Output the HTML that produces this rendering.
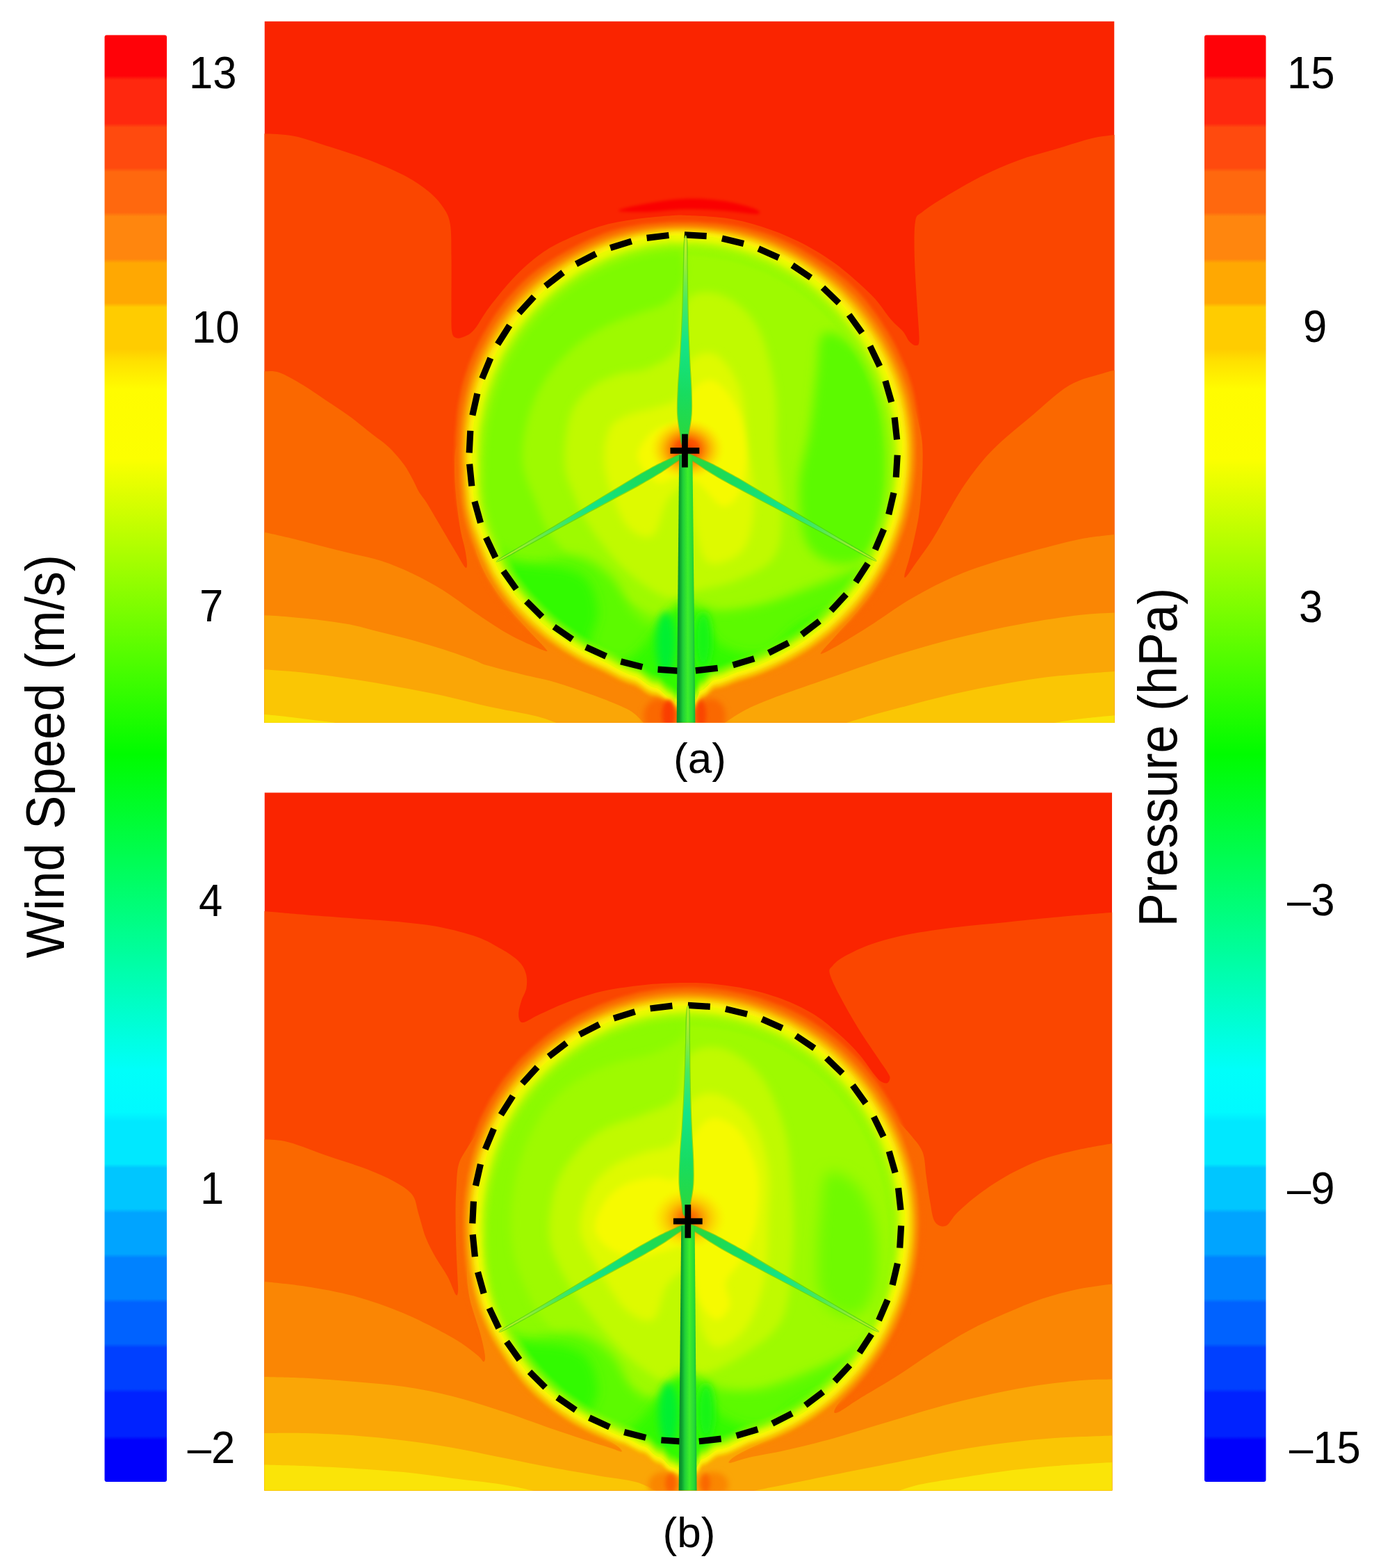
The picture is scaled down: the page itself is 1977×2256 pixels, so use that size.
<!DOCTYPE html>
<html lang="en"><head><meta charset="utf-8"><title>Wind speed contours</title>
<style>html,body{margin:0;padding:0;background:#fff}body{width:1977px;height:2256px}svg{display:block}text{font-family:"Liberation Sans",Arial,Helvetica,sans-serif;fill:#000}</style>
</head><body>
<svg width="1977" height="2256" viewBox="0 0 1977 2256" role="img" aria-label="Wind speed and pressure contours around a wind turbine rotor">
<defs>
<linearGradient id="cb1" x1="0" y1="0" x2="0" y2="1"><stop offset="0.0000" stop-color="#ff0208"/><stop offset="0.0014" stop-color="#ff0208"/><stop offset="0.0281" stop-color="#ff0208"/><stop offset="0.0310" stop-color="#ff280e"/><stop offset="0.0610" stop-color="#ff280e"/><stop offset="0.0639" stop-color="#ff4a0e"/><stop offset="0.0918" stop-color="#ff4a0e"/><stop offset="0.0946" stop-color="#ff680e"/><stop offset="0.1225" stop-color="#ff680e"/><stop offset="0.1254" stop-color="#ff860e"/><stop offset="0.1547" stop-color="#ff860e"/><stop offset="0.1576" stop-color="#ffa802"/><stop offset="0.1852" stop-color="#ffa802"/><stop offset="0.1881" stop-color="#ffcc00"/><stop offset="0.2169" stop-color="#ffcc00"/><stop offset="0.2256" stop-color="#ffe100"/><stop offset="0.2448" stop-color="#fffc00"/><stop offset="0.2928" stop-color="#fcff00"/><stop offset="0.4970" stop-color="#00fc00"/><stop offset="0.7156" stop-color="#00fffa"/><stop offset="0.7444" stop-color="#00faff"/><stop offset="0.7511" stop-color="#00e8ff"/><stop offset="0.7802" stop-color="#00e8ff"/><stop offset="0.7831" stop-color="#00c6ff"/><stop offset="0.8112" stop-color="#00c6ff"/><stop offset="0.8141" stop-color="#00a4ff"/><stop offset="0.8424" stop-color="#00a4ff"/><stop offset="0.8453" stop-color="#0082ff"/><stop offset="0.8734" stop-color="#0082ff"/><stop offset="0.8763" stop-color="#0062ff"/><stop offset="0.9044" stop-color="#0062ff"/><stop offset="0.9073" stop-color="#0040ff"/><stop offset="0.9356" stop-color="#0040ff"/><stop offset="0.9385" stop-color="#0022ff"/><stop offset="0.9683" stop-color="#0022ff"/><stop offset="0.9712" stop-color="#0000fc"/><stop offset="0.9986" stop-color="#0000fc"/><stop offset="1.0000" stop-color="#0000fc"/></linearGradient>
<linearGradient id="cb2" x1="0" y1="0" x2="0" y2="1"><stop offset="0.0000" stop-color="#ff0208"/><stop offset="0.0014" stop-color="#ff0208"/><stop offset="0.0281" stop-color="#ff0208"/><stop offset="0.0310" stop-color="#ff280e"/><stop offset="0.0610" stop-color="#ff280e"/><stop offset="0.0639" stop-color="#ff4a0e"/><stop offset="0.0918" stop-color="#ff4a0e"/><stop offset="0.0946" stop-color="#ff680e"/><stop offset="0.1225" stop-color="#ff680e"/><stop offset="0.1254" stop-color="#ff860e"/><stop offset="0.1547" stop-color="#ff860e"/><stop offset="0.1576" stop-color="#ffa802"/><stop offset="0.1852" stop-color="#ffa802"/><stop offset="0.1881" stop-color="#ffcc00"/><stop offset="0.2169" stop-color="#ffcc00"/><stop offset="0.2256" stop-color="#ffe100"/><stop offset="0.2448" stop-color="#fffc00"/><stop offset="0.2928" stop-color="#fcff00"/><stop offset="0.4970" stop-color="#00fc00"/><stop offset="0.7156" stop-color="#00fffa"/><stop offset="0.7444" stop-color="#00faff"/><stop offset="0.7511" stop-color="#00e8ff"/><stop offset="0.7802" stop-color="#00e8ff"/><stop offset="0.7831" stop-color="#00c6ff"/><stop offset="0.8112" stop-color="#00c6ff"/><stop offset="0.8141" stop-color="#00a4ff"/><stop offset="0.8424" stop-color="#00a4ff"/><stop offset="0.8453" stop-color="#0082ff"/><stop offset="0.8734" stop-color="#0082ff"/><stop offset="0.8763" stop-color="#0062ff"/><stop offset="0.9044" stop-color="#0062ff"/><stop offset="0.9073" stop-color="#0040ff"/><stop offset="0.9356" stop-color="#0040ff"/><stop offset="0.9385" stop-color="#0022ff"/><stop offset="0.9683" stop-color="#0022ff"/><stop offset="0.9712" stop-color="#0000fc"/><stop offset="0.9986" stop-color="#0000fc"/><stop offset="1.0000" stop-color="#0000fc"/></linearGradient>
<filter id="b2" x="-50%" y="-50%" width="200%" height="200%"><feGaussianBlur stdDeviation="2"/></filter>
<filter id="b3" x="-50%" y="-50%" width="200%" height="200%"><feGaussianBlur stdDeviation="3"/></filter>
<filter id="b4" x="-50%" y="-50%" width="200%" height="200%"><feGaussianBlur stdDeviation="4"/></filter>
<filter id="b5" x="-50%" y="-50%" width="200%" height="200%"><feGaussianBlur stdDeviation="5"/></filter>
<filter id="b6" x="-50%" y="-50%" width="200%" height="200%"><feGaussianBlur stdDeviation="6"/></filter>
<filter id="b8" x="-50%" y="-50%" width="200%" height="200%"><feGaussianBlur stdDeviation="8"/></filter>
<filter id="b10" x="-50%" y="-50%" width="200%" height="200%"><feGaussianBlur stdDeviation="10"/></filter>
<filter id="b12" x="-50%" y="-50%" width="200%" height="200%"><feGaussianBlur stdDeviation="12"/></filter>
<radialGradient id="hubA" cx="0.5" cy="0.5" r="0.5"><stop offset="0" stop-color="#f83800"/><stop offset="0.3" stop-color="#fa5a00"/><stop offset="0.55" stop-color="#fca000" stop-opacity="0.9"/><stop offset="0.8" stop-color="#fcd800" stop-opacity="0.6"/><stop offset="1" stop-color="#f8f400" stop-opacity="0"/></radialGradient>
<linearGradient id="twA" x1="0" y1="0" x2="1" y2="0"><stop offset="0" stop-color="#0a8828"/><stop offset="0.16" stop-color="#0c9c30"/><stop offset="0.34" stop-color="#20d038"/><stop offset="0.6" stop-color="#3eee2a"/><stop offset="0.85" stop-color="#26d838"/><stop offset="1" stop-color="#16b038"/></linearGradient>
<linearGradient id="blA0" gradientUnits="userSpaceOnUse" x1="984.6" y1="640.0" x2="986.6" y2="344.0"><stop offset="0" stop-color="#2cd838"/><stop offset="0.25" stop-color="#18dc60"/><stop offset="0.5" stop-color="#14e488"/><stop offset="0.7" stop-color="#48e860"/><stop offset="0.85" stop-color="#90ec38"/><stop offset="1" stop-color="#c8f020"/></linearGradient>
<linearGradient id="blA1" gradientUnits="userSpaceOnUse" x1="982.0" y1="655.0" x2="718.8" y2="805.5"><stop offset="0" stop-color="#2cd838"/><stop offset="0.25" stop-color="#18dc60"/><stop offset="0.5" stop-color="#14e488"/><stop offset="0.7" stop-color="#48e860"/><stop offset="0.85" stop-color="#90ec38"/><stop offset="1" stop-color="#c8f020"/></linearGradient>
<linearGradient id="blA2" gradientUnits="userSpaceOnUse" x1="990.0" y1="655.0" x2="1256.5" y2="804.5"><stop offset="0" stop-color="#2cd838"/><stop offset="0.25" stop-color="#18dc60"/><stop offset="0.5" stop-color="#14e488"/><stop offset="0.7" stop-color="#48e860"/><stop offset="0.85" stop-color="#90ec38"/><stop offset="1" stop-color="#c8f020"/></linearGradient>
<radialGradient id="hubB" cx="0.5" cy="0.5" r="0.5"><stop offset="0" stop-color="#fa5000"/><stop offset="0.25" stop-color="#fb8200"/><stop offset="0.5" stop-color="#fcb400" stop-opacity="0.85"/><stop offset="0.8" stop-color="#fce000" stop-opacity="0.5"/><stop offset="1" stop-color="#f8f400" stop-opacity="0"/></radialGradient>
<linearGradient id="twB" x1="0" y1="0" x2="1" y2="0"><stop offset="0" stop-color="#0a8828"/><stop offset="0.16" stop-color="#0c9c30"/><stop offset="0.34" stop-color="#20d038"/><stop offset="0.6" stop-color="#3eee2a"/><stop offset="0.85" stop-color="#26d838"/><stop offset="1" stop-color="#16b038"/></linearGradient>
<linearGradient id="blB0" gradientUnits="userSpaceOnUse" x1="987.0" y1="1748.0" x2="990.0" y2="1452.0"><stop offset="0" stop-color="#2cd838"/><stop offset="0.25" stop-color="#18dc60"/><stop offset="0.5" stop-color="#14e488"/><stop offset="0.7" stop-color="#48e860"/><stop offset="0.85" stop-color="#90ec38"/><stop offset="1" stop-color="#c8f020"/></linearGradient>
<linearGradient id="blB1" gradientUnits="userSpaceOnUse" x1="985.0" y1="1764.0" x2="722.5" y2="1914.0"><stop offset="0" stop-color="#2cd838"/><stop offset="0.25" stop-color="#18dc60"/><stop offset="0.5" stop-color="#14e488"/><stop offset="0.7" stop-color="#48e860"/><stop offset="0.85" stop-color="#90ec38"/><stop offset="1" stop-color="#c8f020"/></linearGradient>
<linearGradient id="blB2" gradientUnits="userSpaceOnUse" x1="993.5" y1="1764.0" x2="1260.0" y2="1913.5"><stop offset="0" stop-color="#2cd838"/><stop offset="0.25" stop-color="#18dc60"/><stop offset="0.5" stop-color="#14e488"/><stop offset="0.7" stop-color="#48e860"/><stop offset="0.85" stop-color="#90ec38"/><stop offset="1" stop-color="#c8f020"/></linearGradient>
<clipPath id="clipA"><rect x="380.5" y="30.5" width="1223.0" height="1009.3"/></clipPath>
<clipPath id="cinA"><path d="M1298,651.5l0,11.5l-0.5,11l-1,11l-1,11.5l-2,11l-2,11l-2,11l-3,10.5l-3,11l-3.5,10.5l-3.5,10.5l-4.5,10.5l-4.5,10.5l-5,10l-5,10l-5.5,9.5l-6,9.5l-6.5,9.5l-6.5,9l-7,8.5l-7,8.5l-7.5,8.5l-8,8l-8,7.5l-8.5,7.5l-8.5,7l-9,7l-9,6.5l-9,6l-9.5,6l-9.5,5.5l-10,5.5l-10,4.5l-10,5l-10.5,4.5l-10.5,4l-10.5,3.5l-10.5,3l-10.5,4l-2.5,1.5l-3,1l-2.5,1l-2.5,1l-3,1l-2.5,0.5l-3,0.5l-2.5,0.5l-3,1l-2.5,2l-2.5,2.5l-2.5,3l-3,2.5l-2.5,2.5l-3,1.5l-3,1l-2.5,7l-2.5,6l-3,1.5l-3,1.5l-3,0.5l-3,0l-3,0l-3.5,0l-3,0l-3,0l-3,0l-3,0l-3-4.5l-3-2l-3-1l-3-2l-2.5-2.5l-3-2.5l-2.5-2.5l-3-2l-2.5-1.5l-3-0.5l-3-1l-2.5-1l-3-1.5l-2.5-1.5l-2.5-2l-3-2l-2.5-2l-2.5-2l-2.5-1.5l-2.5-1.5l-11-3.5l-10-4.5l-10.5-5.5l-9.5-5.5l-10-4.5l-10.5-4.5l-9.5-5l-10-5.5l-9.5-5.5l-9-6l-9-6.5l-9-6.5l-9-6.5l-8.5-7l-8-7.5l-8-7.5l-7.5-8l-7.5-8.5l-7.5-8.5l-6.5-8.5l-6.5-9l-6-9.5l-5.5-9.5l-5-10l-4.5-10l-4.5-10l-4.5-10.5l-4-10l-3.5-10.5l-3.5-10.5l-2.5-10.5l-2.5-11l-1.5-10.5l-1-11l-1-11l-0.5-11l0-10.5l-0.5-11l0-11l0.5-10.5l0.5-11l1-11l1-10.5l2-10.5l2-11l2-10.5l3-10.5l3-10l3.5-10.5l4-10l4-10l4.5-9.5l5-10l5-9.5l5.5-9l5.5-9l6.5-9l6-8.5l7-8.5l7-8l7-8l7.5-8l8-7l7.5-7.5l8.5-6.5l8.5-7l8.5-6l9-6l9-6l9-5.5l9.5-5l9.5-4.5l9.5-4.5l10-4l10-4l10.5-3.5l10-3l10.5-2.5l10.5-2l10.5-2l10.5-1.5l11-1l10.5-0.5l10.5,0l11,0l10.5,0.5l11,1l10.5,1l10.5,2l10.5,2l10.5,2l10.5,3l10.5,3l10,3.5l10,3.5l10,4.5l10,4.5l9.5,4.5l9.5,5.5l9,5.5l9.5,6l8.5,6l9,6.5l8.5,7l8,7l8,7.5l7.5,8l7.5,8l7,8l7,8.5l6.5,8.5l6.5,9l6,9l6,9.5l5.5,9.5l5.5,9.5l5,10l4.5,10l4.5,10l4,10.5l3.5,10.5l3,11l3,10.5l2,11l2,11l1.5,11l1.5,11l0.5,11.5z"/></clipPath>
<clipPath id="clipB"><rect x="380.5" y="1140.3" width="1219.7" height="1004.3"/></clipPath>
<clipPath id="cinB"><path d="M1302,1760.5l0,11l-0.5,11l-1,11l-1.5,11.5l-1.5,11l-2,11l-2.5,10.5l-2.5,11l-3.5,10.5l-3,11l-4,10l-4.5,10.5l-4.5,10l-4.5,10l-5.5,10l-5.5,9.5l-6,9.5l-6.5,9.5l-6.5,9l-6.5,8.5l-7.5,8.5l-7.5,8l-7.5,8l-8.5,8l-8,7l-8.5,7l-9,7l-9,6.5l-9,6l-9.5,5.5l-9.5,5.5l-10,5l-10,5l-10,4.5l-10.5,4l-10.5,3.5l-10.5,3.5l-10,4.5l-10.5,5l-2.5,1.5l-2.5,1l-2.5,1l-3,1l-2.5,1l-3,0.5l-2.5,0.5l-3,0.5l-2.5,1l-2.5,1.5l-3,2l-2.5,2l-2.5,2l-3,2l-2.5,1.5l-3,1.5l-3,0.5l-2.5,5l-3,5.5l-2.5,4l-3,0l-3,0.5l-3.5,0l-3,0l-3,0.5l-3,0l-3,0l-3,0l-3-1.5l-3-2l-3-0.5l-3-1.5l-2.5-2.5l-3-3l-2.5-3l-3-2.5l-2.5-2l-3-0.5l-2.5-1l-3-2l-2.5-2l-2.5-2.5l-2.5-2.5l-2.5-2.5l-2.5-1.5l-2.5-1l-3-0.5l-2.5-1l-10-5.5l-10.5-5l-10-3.5l-10.5-4.5l-9.5-5l-10.5-4.5l-9.5-4.5l-10-5.5l-9.5-5.5l-9-5.5l-9-6.5l-9-6.5l-8.5-6.5l-8.5-7l-8.5-7.5l-7.5-7.5l-7.5-8.5l-7-8l-7-9l-6.5-8.5l-6-9l-6-9.5l-5.5-9.5l-5.5-9l-5.5-10l-4.5-10l-4.5-10l-3.5-10l-3.5-10.5l-3-10.5l-2-11l-2.5-10.5l-1.5-10.5l-1.5-11l-1-10.5l-0.5-11l-1-10.5l0-11l0-10.5l0-11l0.5-10.5l1-11l1-10.5l1.5-10.5l2-11l2.5-10.5l2.5-10l3-10.5l3.5-10.5l3.5-10l4-10l4.5-9.5l4.5-10l5-9.5l5.5-9l5.5-9.5l6-8.5l6.5-9l6.5-8.5l7-8l7-8l7.5-7.5l8-7.5l8-7l8-7l8.5-6.5l8.5-6.5l9-6l9-5.5l9.5-5.5l9.5-5.5l9.5-4.5l9.5-4.5l10-4l10-4l10-3l10.5-3l10.5-3l10.5-2l10.5-2l10.5-1.5l11-1l10.5-0.5l10.5,0l11,0l10.5,0.5l11,1l10.5,1.5l10.5,1.5l10.5,2l10.5,2.5l10.5,2.5l10.5,3l10,3.5l10,4l10,4l10,4.5l9.5,5l9.5,5l9.5,5.5l9,6l9,6l8.5,6.5l8.5,7l8,7.5l8,7.5l8,7.5l7,8l7.5,8.5l6.5,8.5l7,8.5l6,9l6.5,9l5.5,9.5l5.5,9.5l5.5,9.5l4.5,10l4.5,10l4.5,10l4,10.5l3,10.5l3.5,11l2.5,10.5l2.5,11l1.5,11l1.5,11l1,11l1,11z"/></clipPath>
</defs>
<rect width="1977" height="2256" fill="#fff"/>
<rect x="150.5" y="50.5" width="89.5" height="2081.5" rx="3" ry="3" fill="url(#cb1)"/>
<rect x="1733.0" y="50.5" width="88.5" height="2081.5" rx="3" ry="3" fill="url(#cb2)"/>
<text transform="translate(272.00,127.00) scale(0.960,1)" font-size="64.2">13</text>
<text transform="translate(276.00,493.30) scale(0.960,1)" font-size="64.2">10</text>
<text transform="translate(287.00,894.10) scale(0.960,1)" font-size="64.2">7</text>
<text transform="translate(286.00,1317.50) scale(0.960,1)" font-size="64.2">4</text>
<text transform="translate(288.00,1731.50) scale(0.960,1)" font-size="64.2">1</text>
<text transform="translate(269.80,2104.90) scale(0.960,1)" font-size="64.2">–2</text>
<text transform="translate(1852.00,126.50) scale(0.960,1)" font-size="64.2">15</text>
<text transform="translate(1875.00,491.50) scale(0.960,1)" font-size="64.2">9</text>
<text transform="translate(1869.00,895.00) scale(0.960,1)" font-size="64.2">3</text>
<text transform="translate(1852.00,1317.00) scale(0.960,1)" font-size="64.2">–3</text>
<text transform="translate(1852.00,1731.50) scale(0.960,1)" font-size="64.2">–9</text>
<text transform="translate(1855.00,2104.90) scale(0.960,1)" font-size="64.2">–15</text>
<text transform="translate(92.00,1088.20) rotate(-90) scale(0.942,1)" font-size="77" text-anchor="middle">Wind Speed (m/s)</text>
<text transform="translate(1693.00,1089.60) rotate(-90) scale(0.942,1)" font-size="77" text-anchor="middle">Pressure (hPa)</text>
<text x="1007" y="1112" font-size="62" text-anchor="middle">(a)</text>
<text x="991.5" y="2226" font-size="62" text-anchor="middle">(b)</text>
<g clip-path="url(#clipA)">
<rect x="380.5" y="30.5" width="1223.0" height="1009.3" fill="#fa2400"/>
<path d="M375.5,192.3 C376.3,192.3 372.6,191.7 380.5,192.3 C388.4,192.9 406.9,192.6 422.7,195.8 C438.5,199.0 457.9,206.0 475.5,211.6 C493.1,217.2 510.6,222.5 528.2,229.2 C545.8,235.9 566.2,244.4 580.9,252.0 C595.5,259.6 606.7,267.3 616.1,274.9 C625.5,282.5 631.9,289.8 637.2,297.7 C642.5,305.6 645.7,310.0 647.7,322.3 C649.8,334.6 649.2,351.7 649.5,371.6 C649.8,391.5 649.4,424.3 649.5,441.9 C649.6,459.5 649.0,469.6 650.2,477.0 C651.4,484.4 653.4,485.0 656.5,486.2 C659.6,487.4 664.4,486.2 668.8,484.1 C673.2,482.0 677.0,480.5 682.9,473.5 C688.8,466.5 694.6,454.2 704.0,441.9 C713.4,429.6 727.4,412.0 739.1,399.7 C750.8,387.4 762.6,376.9 774.3,368.1 C786.0,359.3 794.9,354.0 809.5,347.0 C824.1,340.0 844.6,331.2 862.2,325.9 C879.8,320.6 897.3,317.9 914.9,315.3 C932.5,312.7 955.2,310.9 967.7,310.0 C980.2,309.1 977.5,309.4 990.0,310.0 C1002.5,310.6 1025.1,311.0 1042.7,313.6 C1060.3,316.2 1077.9,320.3 1095.5,325.9 C1113.1,331.5 1130.6,338.2 1148.2,347.0 C1165.8,355.8 1183.3,365.7 1200.9,378.6 C1218.5,391.5 1240.2,410.8 1253.7,424.3 C1267.2,437.8 1274.2,450.7 1281.8,459.5 C1289.4,468.3 1295.0,471.7 1299.4,477.0 C1303.8,482.3 1305.2,487.8 1308.2,491.1 C1311.2,494.5 1315.3,497.4 1317.7,497.1 C1320.1,496.8 1322.2,498.5 1322.6,489.3 C1322.9,480.1 1320.9,461.5 1319.8,441.9 C1318.7,422.3 1316.4,392.1 1315.9,371.6 C1315.4,351.1 1315.1,329.9 1317.0,318.8 C1318.9,307.7 1320.5,310.7 1327.5,304.8 C1334.5,298.9 1345.0,292.2 1359.1,283.7 C1373.2,275.2 1394.3,262.6 1411.9,253.8 C1429.5,245.0 1447.0,237.4 1464.6,230.9 C1482.2,224.4 1499.8,220.4 1517.4,215.1 C1535.0,209.8 1555.8,202.8 1570.1,199.3 C1584.4,195.8 1597.1,194.9 1603.5,194.0 C1609.9,193.1 1607.7,194.0 1608.5,194.0 L1608.5,1044.8 L375.5,1044.8 Z" fill="#fa4600"/>
<path d="M890.0,303.0 C890.0,301.0 914.2,295.8 930.0,293.0 C945.8,290.2 966.7,286.7 985.0,286.0 C1003.3,285.3 1023.3,286.7 1040.0,289.0 C1056.7,291.3 1076.8,296.8 1085.0,300.0 C1093.2,303.2 1096.5,307.5 1089.0,308.0 C1081.5,308.5 1057.3,304.2 1040.0,303.0 C1022.7,301.8 1003.3,300.7 985.0,301.0 C966.7,301.3 945.8,304.7 930.0,305.0 C914.2,305.3 890.0,305.0 890.0,303.0Z" fill="#fa0600" filter="url(#b2)"/>
<path d="M375.5,534.2 C376.3,534.2 376.1,533.9 380.5,534.2 C384.9,534.5 392.8,532.7 402.0,536.0 C411.2,539.3 424.8,547.3 436.0,554.0 C447.2,560.7 457.8,568.5 469.0,576.0 C480.2,583.5 491.8,590.8 503.0,599.0 C514.2,607.2 526.7,617.7 536.0,625.0 C545.3,632.3 551.5,635.8 559.0,643.0 C566.5,650.2 575.2,660.2 581.0,668.0 C586.8,675.8 590.3,683.3 594.0,690.0 C597.7,696.7 599.8,702.7 603.0,708.0 C606.2,713.3 609.0,715.8 613.0,722.0 C617.0,728.2 621.9,736.8 626.7,745.0 C631.5,753.2 636.8,762.2 642.0,771.0 C647.2,779.8 653.5,790.5 658.0,798.0 C662.5,805.5 666.7,813.7 669.0,816.0 C671.3,818.3 672.0,816.3 672.0,812.0 C672.0,807.7 670.5,797.8 669.0,790.0 C667.5,782.2 664.8,774.8 663.0,765.0 C661.2,755.2 659.3,741.8 658.0,731.0 C656.7,720.2 655.7,710.0 655.0,700.0 C654.3,690.0 653.8,680.2 654.0,671.0 C654.2,661.8 654.0,652.7 656.0,645.0 C658.0,637.3 663.8,633.0 666.0,625.0 C668.2,617.0 667.8,606.2 669.4,597.0 C670.9,587.7 672.6,579.3 675.3,569.3 C677.9,559.3 683.7,542.4 685.4,537.0 L699.7,542.5 L983.2,651.6 L983.2,1044.8 L375.5,1044.8Z" fill="#fa6800"/>
<path d="M1608.5,532.8 C1607.7,532.8 1607.0,532.1 1603.5,532.8 C1600.0,533.5 1598.5,533.4 1587.7,537.0 C1576.9,540.6 1556.0,544.1 1538.4,554.6 C1520.8,565.1 1500.4,585.1 1482.2,600.3 C1464.0,615.5 1444.2,631.4 1429.5,646.0 C1414.8,660.6 1404.3,674.7 1394.3,688.2 C1384.3,701.7 1378.5,712.2 1369.7,726.9 C1360.9,741.5 1350.4,762.0 1341.6,776.1 C1332.8,790.2 1323.3,802.4 1317.0,811.3 C1310.7,820.2 1306.6,826.9 1304.0,829.5 C1301.4,832.1 1300.8,831.3 1301.5,827.1 C1302.2,822.9 1305.9,812.7 1308.2,804.2 C1310.5,795.7 1312.9,786.7 1315.2,776.1 C1317.5,765.5 1320.5,752.6 1322.2,740.9 C1324.0,729.2 1324.8,717.5 1325.7,705.8 C1326.6,694.1 1327.3,682.3 1327.5,670.6 C1327.7,658.9 1327.9,646.3 1326.8,635.5 C1325.7,624.7 1323.3,615.4 1321.0,605.6 C1318.7,595.7 1316.0,587.0 1313.1,576.4 C1310.1,565.8 1305.0,547.5 1303.4,541.8 L1270.4,553.1 L983.2,651.6 L983.2,1044.8 L1608.5,1044.8Z" fill="#fa6800"/>
<path d="M1324,651.5l-0.5,12l-0.5,12.5l-1,12l-1,12l-2,12l-2,12l-2.5,11.5l-3,12l-3,11.5l-4,11.5l-4,11.5l-4.5,11.5l-4.5,11l-5.5,11l-5.5,10.5l-6,10.5l-6.5,10.5l-6.5,10l-7.5,10l-7.5,9.5l-8,9l-8,9l-8.5,8.5l-8.5,8.5l-9,8l-9.5,7.5l-9.5,7.5l-10,7l-10,6.5l-10.5,6l-10.5,6l-11,5l-11,5.5l-10.5,4.5l-11.5,4.5l-11,4l-11.5,3.5l-11.5,3.5l-11.5,4l-3,1l-3,1.5l-2.5,1l-3,1l-3,0.5l-3,1l-3,0.5l-3,0.5l-3,1l-2.5,2l-3,2.5l-3,2.5l-2.5,3l-3,2l-3,1.5l-3,1.5l-3,7l-3,6l-3,1.5l-3,1.5l-3.5,0l-3,0l-3.5,0.5l-3.5,0l-3,0l-3.5,0l-3,0l-3.5,0l-3-4.5l-3-2l-3.5-1l-3-2l-3-2.5l-3-2.5l-3-3l-3-2l-3-1.5l-3-0.5l-3-0.5l-3-1l-3-1.5l-3-1.5l-2.5-2l-3-2l-2.5-2l-3-2l-2.5-1.5l-3-1.5l-11.5-3.5l-11.5-4.5l-11-5.5l-10.5-5.5l-11-5l-11-4.5l-11-5l-10.5-5.5l-10.5-6l-10-6.5l-10-6.5l-9.5-7l-10-7l-9-7.5l-9-8l-8.5-8.5l-8.5-8.5l-8-9l-8-9l-7-9.5l-7-10l-6.5-10l-6-10.5l-5-11l-5.5-10.5l-4.5-11l-4.5-11.5l-4-11l-4-11l-3.5-11.5l-3-11.5l-2-11.5l-2-12l-1-12l-1-11.5l-0.5-12l0-11.5l-0.5-11.5l0-12l0.5-11.5l0-11.5l1-12l1-11.5l1-11.5l1.5-12l2.5-11.5l2-11.5l3-11.5l3.5-11l4-11.5l4.5-11l4.5-10.5l5.5-10.5l5.5-10.5l6-10l6-10l6.5-10l7-9.5l7-9.5l8-9l7.5-8.5l8.5-8.5l8.5-8l9-7.5l9.5-7l9.5-6.5l10-6.5l10-6l10-5.5l10.5-5.5l10-5.5l10.5-5l10.5-4.5l11-4.5l11-3.5l11-3l11.5-2.5l11-2l11.5-2l11.5-1l11.5-1l11.5-1l11.5-0.5l11,0l11.5,0l11.5,0.5l11.5,1l11.5,0.5l11.5,1.5l11,1.5l11.5,2l11.5,2.5l11,3l11.5,3l11,3.5l11,4.5l10.5,4.5l10.5,5l10.5,5.5l10,6l10,6l10,6.5l9.5,6.5l10,7l9,7.5l9.5,7.5l8.5,8l8.5,8.5l8,9l7.5,9.5l7,9.5l7,9.5l6.5,10.5l6.5,10l6,10.5l5.5,10.5l5,11l5,11l5,11l4,11.5l3.5,11.5l3,12l2.5,12l2,12l2,12l1,12l1,12l0,12z" fill="#fa6800" filter="url(#b2)"/>
<path d="M375.5,766.0 C376.4,766.0 374.4,764.7 381.0,766.0 C387.6,767.3 402.0,770.5 415.0,773.6 C428.0,776.7 444.2,781.0 459.0,784.7 C473.8,788.4 489.1,792.3 504.0,796.0 C518.9,799.7 533.8,802.2 548.6,807.0 C563.4,811.8 578.1,817.9 593.0,825.0 C607.9,832.1 623.1,840.2 638.0,849.5 C652.9,858.8 667.7,870.7 682.5,880.7 C697.3,890.7 713.6,901.9 727.0,909.7 C740.4,917.5 753.0,923.1 762.8,927.6 C772.6,932.1 782.6,936.4 786.0,937.0 C789.4,937.6 786.5,935.2 783.0,931.0 C779.5,926.8 771.3,918.8 765.0,912.0 C758.7,905.2 751.7,897.7 745.0,890.0 C738.3,882.3 731.2,874.0 725.0,866.0 C718.8,858.0 713.3,850.5 708.0,842.0 C702.7,833.5 697.5,825.3 693.0,815.0 C688.5,804.7 684.3,791.7 681.0,780.0 C677.7,768.3 675.0,758.3 673.0,745.0 C671.0,731.7 670.2,712.2 669.0,700.0 C667.8,687.8 666.6,681.3 666.0,671.9 C665.4,662.5 665.1,654.0 665.4,643.7 C665.8,633.3 667.6,615.5 668.0,609.9 L682.7,611.8 L983.2,651.6 L983.2,1044.8 L375.5,1044.8Z" fill="#fa8604"/>
<path d="M1608.5,769.1 C1607.7,769.1 1612.8,767.9 1603.5,769.1 C1594.2,770.3 1572.7,772.0 1552.5,776.1 C1532.3,780.2 1505.6,787.2 1482.2,793.7 C1458.8,800.2 1432.4,807.8 1411.9,814.8 C1391.4,821.8 1376.7,827.7 1359.1,835.9 C1341.5,844.1 1324.0,853.5 1306.4,864.0 C1288.8,874.5 1270.1,888.6 1253.7,899.1 C1237.3,909.6 1219.6,920.5 1208.0,927.3 C1196.4,934.1 1188.3,938.3 1184.1,939.9 C1179.9,941.5 1179.9,941.0 1182.7,937.1 C1185.5,933.2 1193.2,925.4 1200.9,916.7 C1208.6,908.0 1220.3,895.7 1229.1,885.1 C1237.9,874.5 1246.7,863.4 1253.7,853.4 C1260.7,843.4 1266.0,835.8 1271.3,825.3 C1276.6,814.8 1281.2,801.9 1285.3,790.2 C1289.4,778.5 1293.3,766.7 1295.9,755.0 C1298.5,743.3 1299.4,730.4 1301.1,719.8 C1302.8,709.2 1304.7,700.8 1305.9,691.3 C1307.0,681.7 1307.8,673.1 1308.1,662.5 C1308.3,651.9 1307.5,633.7 1307.4,627.9 L1285.4,629.5 L983.2,651.6 L983.2,1044.8 L1608.5,1044.8Z" fill="#fa8604"/>
<path d="M1317.5,651.5l0,12l-0.5,12l-1,11.5l-1.5,12l-1.5,11.5l-2,12l-2.5,11.5l-3,11.5l-3,11.5l-4,11.5l-4,11l-4,11l-5,11l-5,11l-5.5,10.5l-6,10l-6.5,10.5l-6.5,9.5l-7,10l-7.5,9l-7.5,9l-8,9l-8.5,8.5l-8.5,8l-9,8l-9,7.5l-9.5,7l-9.5,7l-10,6.5l-10.5,6l-10,5.5l-10.5,5.5l-11,5l-10.5,5l-11,4.5l-11,4l-11.5,3.5l-11,3l-11.5,4.5l-2.5,1l-3,1l-2.5,1l-3,1l-3,1l-3,1l-3,0.5l-2.5,0.5l-3,1l-3,1.5l-2.5,2.5l-3,3l-2.5,3l-3,2l-3,1.5l-3,1l-2.5,7l-3,6l-3,1.5l-3.5,2l-3,0l-3.5,0l-3,0l-3.5,0l-3,0.5l-3.5,0l-3,0l-3-0.5l-3.5-4l-3-2l-3-1.5l-3-1.5l-3-2.5l-3-3l-3-2.5l-2.5-2l-3-1.5l-3-0.5l-3-0.5l-3-1.5l-3-1.5l-3-1.5l-2.5-2l-3-2l-2.5-2l-3-1.5l-2.5-2l-3-1.5l-11-3.5l-11.5-4l-10.5-5.5l-10.5-5.5l-11-5l-10.5-4.5l-10.5-5l-10.5-5.5l-10-6l-10-6.5l-10-6.5l-9.5-6.5l-9.5-7l-9-7.5l-8.5-8l-8.5-8l-8.5-8.5l-7.5-9l-8-9l-7-9l-7-10l-6-10l-6-10l-5-10.5l-5-10.5l-5-11l-4-11l-4.5-11l-3.5-11l-3.5-11l-3-11.5l-2-11l-2-12l-1-11.5l-1-11.5l-0.5-11.5l0-11.5l-0.5-11.5l0-11.5l0.5-11.5l0.5-11.5l0.5-11.5l1-11l1.5-11.5l1.5-11.5l2.5-11.5l2.5-11l3-11l3-11.5l4-10.5l4.5-11l4.5-10.5l5.5-10l5.5-10.5l5.5-10l6-9.5l6.5-9.5l7-9.5l7-9l7.5-9l7.5-8.5l8-8l8.5-8l9-7.5l9-7l9.5-6.5l9.5-6.5l9.5-6l10-5.5l10-5.5l10-5.5l10-5l10.5-4.5l10.5-4l11-3.5l11-3.5l11-2.5l11-2l11-2l11-1.5l11.5-1l11-1l11.5-0.5l11,0l11.5,0l11,0.5l11.5,1l11,1l11.5,1l11,2l11,2l11.5,2.5l11,3l11,3l10.5,4l10.5,4l10.5,4.5l10.5,5l10,5.5l10,6l10,6l9.5,6.5l9.5,6.5l9.5,7l9,7l8.5,7.5l8.5,8.5l8.5,8l7.5,9l7.5,9l7,9.5l7,9.5l6.5,9.5l6,10l6,10.5l5.5,10.5l5,10.5l5,11l4.5,10.5l4,11.5l4,11l3,11.5l2.5,11.5l2,12l2,11.5l1,12l1,12l0.5,11.5z" fill="#fa8604" filter="url(#b2)"/>
<path d="M375.5,885.2 C376.4,885.2 374.5,884.8 381.0,885.2 C387.5,885.6 401.6,886.3 414.6,887.4 C427.7,888.5 444.4,890.0 459.3,891.9 C474.2,893.8 489.0,895.6 503.9,898.6 C518.8,901.6 533.7,906.0 548.6,909.7 C563.5,913.4 578.3,916.8 593.2,920.9 C608.1,925.0 623.0,929.5 637.9,934.3 C652.8,939.1 672.1,946.1 682.5,949.9 C692.9,953.7 688.8,953.6 700.0,957.0 C711.2,960.4 733.3,965.8 750.0,970.0 C766.7,974.2 783.3,977.2 800.0,982.0 C816.7,986.8 836.0,994.0 850.0,999.0 C864.0,1004.0 874.2,1007.8 884.0,1012.0 C893.8,1016.2 902.0,1019.4 909.0,1024.0 C916.0,1028.6 923.2,1037.2 926.0,1039.8 L926.0,1044.8 L375.5,1044.8Z" fill="#faa606"/>
<path d="M1608.5,881.6 C1607.7,881.6 1612.8,881.0 1603.5,881.6 C1594.2,882.2 1572.7,882.8 1552.5,885.1 C1532.3,887.4 1505.6,891.5 1482.2,895.6 C1458.8,899.7 1435.3,904.4 1411.9,909.7 C1388.5,915.0 1365.0,920.8 1341.6,927.3 C1318.2,933.8 1294.8,940.8 1271.3,948.4 C1247.8,956.0 1224.4,964.8 1200.9,973.0 C1177.5,981.2 1151.1,990.0 1130.6,997.6 C1110.1,1005.2 1092.6,1011.7 1077.9,1018.7 C1063.2,1025.7 1048.6,1036.3 1042.7,1039.8 L1042.7,1044.8 L1608.5,1044.8Z" fill="#faa606"/>
<path d="M1313,651.5l-0.5,12l-0.5,11.5l-1,11.5l-1,12l-2,11.5l-2,11.5l-2.5,11.5l-2.5,11.5l-3.5,11l-3.5,11.5l-4,11l-4,10.5l-5,11l-5,10.5l-5.5,10.5l-6,10l-6,10l-6.5,10l-7,9l-7.5,9.5l-7.5,9l-7.5,8.5l-8.5,8.5l-8.5,8l-8.5,7.5l-9,7.5l-9.5,7.5l-9.5,6.5l-9.5,6.5l-10,6l-10.5,5.5l-10,5.5l-10.5,5l-11,4.5l-10.5,4.5l-11,4l-11,3.5l-11,3.5l-11,4l-3,1l-2.5,1.5l-3,1l-3,1l-2.5,0.5l-3,1l-3,0.5l-3,0.5l-2.5,1l-3,2l-2.5,2.5l-3,2.5l-2.5,3l-3,2l-3,1.5l-3,1.5l-2.5,7l-3,6l-3,1.5l-3,1.5l-3,0l-3.5,0.5l-3,0l-3.5,0l-3,0l-3,0l-3.5,0l-3,0l-3-4.5l-3-2l-3.5-1l-3-2l-2.5-2.5l-3-2.5l-3-3l-3-2l-2.5-1l-3-1l-3-0.5l-3-1l-3-1.5l-2.5-1.5l-3-2l-2.5-2l-3-2l-2.5-2l-2.5-1.5l-3-1.5l-11-3.5l-11-4.5l-10.5-5.5l-10.5-5.5l-10.5-5l-10.5-4.5l-10.5-5l-10-5.5l-10-6l-10-6l-9.5-6.5l-9.5-6.5l-9-7l-9-7.5l-9-7.5l-8-8l-8-8.5l-8-8.5l-7.5-9l-7-9l-7-9.5l-6-10l-5.5-10l-5.5-10.5l-5-10.5l-4.5-10.5l-4.5-11l-4-10.5l-4-11l-3-11l-3-11l-2.5-11.5l-1.5-11l-1-11.5l-1-11.5l-0.5-11.5l0-11.5l-0.5-11l0-11.5l0.5-11l0.5-11.5l0.5-11.5l1-11l1.5-11.5l2-11l2-11l2.5-11l3-11l3.5-11l4-10.5l4.5-10.5l4.5-10.5l5-10l5.5-10l5.5-10l6-9.5l6.5-9.5l6.5-9l7-9l7.5-8.5l7.5-8.5l8-8l8.5-8l8.5-7l8.5-7l9.5-7l9-6l9.5-6l10-6l9.5-5.5l10-5l10-5l10.5-4.5l10-4l11-4l10.5-3l11-3l11-2l10.5-2l11.5-1.5l11-1.5l11-0.5l11-0.5l11-0.5l11.5,0.5l11,0.5l11,0.5l11,1l11,1.5l11,2l11,2l11,2.5l11,3l10.5,3.5l11,3.5l10.5,4l10,5l10.5,5l10,5l9.5,6l9.5,6l9.5,6.5l9.5,6.5l9,7l9,7l8.5,7.5l8,8l8,8.5l8,8.5l7,9l7,9l7,9.5l6,9.5l6.5,10l5.5,10l5.5,10.5l5,10l5,11l4.5,10.5l4,11l3.5,11l3.5,11.5l2.5,11.5l2,11.5l2,11.5l1,11.5l1,11.5l0.5,12z" fill="#faa606" filter="url(#b2)"/>
<path d="M375.5,963.3 C376.4,963.3 370.8,962.5 381.0,963.3 C391.2,964.0 416.5,965.6 437.0,967.8 C457.5,970.0 481.7,973.4 504.0,976.7 C526.3,980.1 548.7,983.9 571.0,987.9 C593.3,991.9 615.7,996.1 638.0,1001.0 C660.3,1005.9 683.0,1012.2 705.0,1017.0 C727.0,1021.8 754.2,1026.2 770.0,1030.0 C785.8,1033.8 795.0,1038.2 800.0,1039.8 L800.0,1044.8 L375.5,1044.8Z" fill="#fac604"/>
<path d="M1608.5,965.9 C1607.7,965.9 1618.7,964.7 1603.5,965.9 C1588.3,967.1 1543.5,970.1 1517.4,973.0 C1491.3,975.9 1470.5,979.4 1447.0,983.5 C1423.5,987.6 1400.1,992.3 1376.7,997.6 C1353.3,1002.9 1326.9,1009.9 1306.4,1015.2 C1285.9,1020.5 1268.4,1025.1 1253.7,1029.2 C1239.0,1033.3 1224.4,1038.0 1218.5,1039.8 L1218.5,1044.8 L1608.5,1044.8Z" fill="#fac604"/>
<path d="M1309,651.5l0,11.5l-0.5,11.5l-1,12l-1.5,11.5l-1.5,11.5l-2,11l-2.5,11.5l-2.5,11.5l-3.5,11l-3.5,11l-4,11l-4,10.5l-4.5,11l-5.5,10.5l-5,10l-6,10l-6,10l-6.5,9.5l-7,9.5l-7,9l-7.5,9l-8,8.5l-8,8l-8.5,8l-8.5,8l-9,7l-9,7l-9.5,7l-9.5,6l-10,6l-10,6l-10.5,5l-10,5l-10.5,5l-10.5,4.5l-11,4l-11,3.5l-11,3l-11,4l-2.5,1.5l-3,1l-2.5,1l-3,1l-2.5,1l-3,0.5l-3,1l-3,0l-2.5,1l-3,2l-2.5,2.5l-2.5,3l-3,2.5l-2.5,2.5l-3,1.5l-3,1l-2.5,7l-3,6l-3,1.5l-3,1.5l-3.5,0.5l-3,0l-3,0l-3.5,0l-3,0l-3,0l-3.5,0l-3,0l-3-4l-3-2.5l-3-1l-3-2l-3-2.5l-3-2.5l-2.5-2.5l-3-2l-3-1.5l-3-0.5l-2.5-1l-3-1l-3-1.5l-2.5-1.5l-3-2l-2.5-2l-2.5-2l-3-2l-2.5-1.5l-2.5-1.5l-11.5-3.5l-10.5-4.5l-10.5-5.5l-10.5-5.5l-10-4.5l-10.5-4.5l-10.5-5l-10-5.5l-10-6l-9.5-6l-9.5-6.5l-9.5-6.5l-9-7l-8.5-7.5l-8.5-7.5l-8.5-8l-8-8l-7.5-8.5l-7.5-9l-7-9l-6.5-9.5l-6.5-9.5l-5.5-10l-5-10.5l-5-10.5l-4.5-10l-4.5-11l-4-10.5l-4-10.5l-3.5-11l-2.5-11l-2.5-11l-1.5-11.5l-1-11l-1-11.5l-0.5-11.5l0-11l-0.5-11l0-11.5l0.5-11l0.5-11.5l0.5-11l1.5-11l1.5-11l1.5-11l2.5-11l2.5-11l3-11l3.5-10.5l4-10.5l4-10.5l5-10l5-10l5-10l6-9.5l5.5-9.5l6.5-9.5l6.5-9l7-9l7-8.5l8-8l7.5-8l8-7.5l8.5-7.5l9-7l8.5-6.5l9.5-6.5l9-6l9.5-5.5l10-5.5l9.5-5l10-5l10-4.5l10.5-4.5l10.5-3.5l10.5-3l10.5-3l11-2.5l11-2l10.5-1.5l11-1.5l11-1l11-0.5l11,0l11,0l11,0.5l11,1l11,1l11,1.5l11,2l11,2l10.5,3l11,2.5l10.5,3.5l10.5,4l10.5,4l10,4.5l10,5l10,5.5l9.5,5.5l9.5,6l9.5,6.5l9,6.5l9,7l8.5,7l8.5,7.5l8,8l8,8.5l7.5,8.5l7,8.5l7,9l6.5,9.5l6.5,9.5l6,9.5l6,10l5,10l5.5,10.5l4.5,10.5l4.5,10.5l4,11l3.5,11l3.5,11l2.5,11l2,11.5l2,11.5l1.5,11.5l1,11.5l0.5,11.5z" fill="#fac604" filter="url(#b2)"/>
<path d="M375.5,1028.0 C376.4,1028.0 374.5,1027.4 381.0,1028.0 C387.5,1028.6 401.6,1029.9 414.6,1031.4 C427.7,1032.9 448.1,1035.6 459.3,1037.0 C470.5,1038.4 477.9,1039.3 481.6,1039.8 L481.6,1044.8 L375.5,1044.8Z" fill="#fae408"/>
<path d="M1608.5,1029.2 C1607.7,1029.2 1612.8,1028.3 1603.5,1029.2 C1594.2,1030.1 1566.8,1032.7 1552.5,1034.5 C1538.2,1036.3 1523.2,1038.9 1517.4,1039.8 L1517.4,1044.8 L1608.5,1044.8Z" fill="#fae408"/>
<path d="M1305.5,651.5l0,11.5l-0.5,11.5l-1,11.5l-1.5,11.5l-1.5,11l-2,11.5l-2.5,11l-2.5,11.5l-3.5,11l-3.5,10.5l-4,11l-4,10.5l-4.5,10.5l-5,10.5l-5.5,10l-5.5,10l-6.5,10l-6.5,9.5l-6.5,9l-7,9l-7.5,8.5l-8,8.5l-8,8.5l-8,7.5l-8.5,8l-9,7l-9,7l-9,7l-9.5,6l-10,6l-10,5.5l-10,5.5l-10,5l-10.5,4.5l-10.5,4.5l-10.5,4l-11,3.5l-11,3l-10.5,4.5l-3,1l-2.5,1l-3,1l-2.5,1l-3,1l-2.5,1l-3,0.5l-3,0.5l-2.5,1l-2.5,1.5l-3,2.5l-2.5,3l-2.5,3l-3,2l-3,1.5l-3,1l-2.5,7l-2.5,6l-3,1.5l-3,2l-3.5,0l-3,0l-3,0l-3.5,0.5l-3,0l-3,0l-3,0l-3.5,0l-3-4.5l-3-2l-3-1l-3-2l-2.5-2.5l-3-3l-3-2.5l-2.5-2l-3-1.5l-3-0.5l-3-0.5l-2.5-1.5l-3-1l-2.5-2l-3-2l-2.5-2l-2.5-2l-2.5-1.5l-3-2l-2.5-1.5l-11-3.5l-10.5-4l-10.5-5.5l-10-5.5l-10.5-5l-10-4.5l-10.5-5l-10-5.5l-9.5-5.5l-9.5-6.5l-9.5-6l-9-6.5l-9-7l-8.5-7.5l-8.5-7.5l-8.5-8l-7.5-8l-8-8.5l-7-8.5l-7-9l-6.5-9l-6-10l-6-9.5l-5-10.5l-5-10l-4.5-10.5l-4-10.5l-4-10.5l-4-10.5l-3.5-10.5l-2.5-11l-2.5-11l-1.5-11l-1-11.5l-1-11l-0.5-11l0-11.5l-0.5-11l0-11l0.5-11l0.5-11l0.5-11l1.5-11l1.5-11l2-11l2-10.5l3-11l3-10.5l3.5-10.5l4-10.5l4-10l4.5-10.5l5-9.5l5.5-10l5.5-9.5l6-9.5l6-9l6.5-9l7-8.5l7-8.5l7.5-8l7.5-8l8-7.5l8.5-7l8.5-7l8.5-6.5l9-6.5l9.5-6l9-6l9.5-5.5l9.5-5l10-5l10-4.5l10-4l10.5-3.5l10.5-3.5l10.5-3l10.5-2.5l11-2l10.5-1.5l11-1.5l11-1l11-0.5l10.5,0l11,0l11,0.5l11,1l11,1l10.5,1.5l11,2l10.5,2.5l11,2.5l10.5,3l10.5,3.5l10,3.5l10.5,4.5l10,4.5l10,5l9.5,5l9.5,5.5l9.5,6l9,6.5l9,6.5l9,7l8.5,7l8,7.5l8,8l7.5,8l7.5,8.5l7,9l7,8.5l6.5,9.5l6.5,9l6,10l5.5,9.5l5.5,10l5,10l4.5,10.5l4.5,10.5l4,10.5l3.5,11l3.5,11l2.5,11l2.5,11l1.5,11.5l1.5,11.5l1,11l1,11.5z" fill="#fae408" filter="url(#b2)"/>
<ellipse cx="949.0" cy="1030.0" rx="23.0" ry="25.0" fill="#fa6800" filter="url(#b4)"/>
<ellipse cx="1023.0" cy="1030.0" rx="21.0" ry="25.0" fill="#fa6800" filter="url(#b4)"/>
<path d="M1298,651.5l0,11.5l-0.5,11l-1,11l-1,11.5l-2,11l-2,11l-2,11l-3,10.5l-3,11l-3.5,10.5l-3.5,10.5l-4.5,10.5l-4.5,10.5l-5,10l-5,10l-5.5,9.5l-6,9.5l-6.5,9.5l-6.5,9l-7,8.5l-7,8.5l-7.5,8.5l-8,8l-8,7.5l-8.5,7.5l-8.5,7l-9,7l-9,6.5l-9,6l-9.5,6l-9.5,5.5l-10,5.5l-10,4.5l-10,5l-10.5,4.5l-10.5,4l-10.5,3.5l-10.5,3l-10.5,4l-2.5,1.5l-3,1l-2.5,1l-2.5,1l-3,1l-2.5,0.5l-3,0.5l-2.5,0.5l-3,1l-2.5,2l-2.5,2.5l-2.5,3l-3,2.5l-2.5,2.5l-3,1.5l-3,1l-2.5,7l-2.5,6l-3,1.5l-3,1.5l-3,0.5l-3,0l-3,0l-3.5,0l-3,0l-3,0l-3,0l-3,0l-3-4.5l-3-2l-3-1l-3-2l-2.5-2.5l-3-2.5l-2.5-2.5l-3-2l-2.5-1.5l-3-0.5l-3-1l-2.5-1l-3-1.5l-2.5-1.5l-2.5-2l-3-2l-2.5-2l-2.5-2l-2.5-1.5l-2.5-1.5l-11-3.5l-10-4.5l-10.5-5.5l-9.5-5.5l-10-4.5l-10.5-4.5l-9.5-5l-10-5.5l-9.5-5.5l-9-6l-9-6.5l-9-6.5l-9-6.5l-8.5-7l-8-7.5l-8-7.5l-7.5-8l-7.5-8.5l-7.5-8.5l-6.5-8.5l-6.5-9l-6-9.5l-5.5-9.5l-5-10l-4.5-10l-4.5-10l-4.5-10.5l-4-10l-3.5-10.5l-3.5-10.5l-2.5-10.5l-2.5-11l-1.5-10.5l-1-11l-1-11l-0.5-11l0-10.5l-0.5-11l0-11l0.5-10.5l0.5-11l1-11l1-10.5l2-10.5l2-11l2-10.5l3-10.5l3-10l3.5-10.5l4-10l4-10l4.5-9.5l5-10l5-9.5l5.5-9l5.5-9l6.5-9l6-8.5l7-8.5l7-8l7-8l7.5-8l8-7l7.5-7.5l8.5-6.5l8.5-7l8.5-6l9-6l9-6l9-5.5l9.5-5l9.5-4.5l9.5-4.5l10-4l10-4l10.5-3.5l10-3l10.5-2.5l10.5-2l10.5-2l10.5-1.5l11-1l10.5-0.5l10.5,0l11,0l10.5,0.5l11,1l10.5,1l10.5,2l10.5,2l10.5,2l10.5,3l10.5,3l10,3.5l10,3.5l10,4.5l10,4.5l9.5,4.5l9.5,5.5l9,5.5l9.5,6l8.5,6l9,6.5l8.5,7l8,7l8,7.5l7.5,8l7.5,8l7,8l7,8.5l6.5,8.5l6.5,9l6,9l6,9.5l5.5,9.5l5.5,9.5l5,10l4.5,10l4.5,10l4,10.5l3.5,10.5l3,11l3,10.5l2,11l2,11l1.5,11l1.5,11l0.5,11.5z" fill="#7efa00"/>
<g clip-path="url(#cinA)">
<path d="M752.0,665.0 C750.3,645.0 754.5,620.0 760.0,600.0 C765.5,580.0 774.2,561.7 785.0,545.0 C795.8,528.3 810.8,512.5 825.0,500.0 C839.2,487.5 854.2,478.3 870.0,470.0 C885.8,461.7 905.0,455.8 920.0,450.0 C935.0,444.2 949.2,443.3 960.0,435.0 C970.8,426.7 980.0,417.5 985.0,400.0 C990.0,382.5 970.8,341.7 990.0,330.0 C1009.2,318.3 1061.7,318.3 1100.0,330.0 C1138.3,341.7 1186.7,361.7 1220.0,400.0 C1253.3,438.3 1285.0,510.0 1300.0,560.0 C1315.0,610.0 1318.3,656.7 1310.0,700.0 C1301.7,743.3 1276.7,793.3 1250.0,820.0 C1223.3,846.7 1183.3,850.0 1150.0,860.0 C1116.7,870.0 1081.7,875.0 1050.0,880.0 C1018.3,885.0 988.3,895.0 960.0,890.0 C931.7,885.0 906.7,868.3 880.0,850.0 C853.3,831.7 818.3,801.7 800.0,780.0 C781.7,758.3 778.0,739.2 770.0,720.0 C762.0,700.8 753.7,685.0 752.0,665.0Z" fill="#9efa00" filter="url(#b6)"/>
<path d="M812.0,665.0 C811.3,646.0 814.7,613.8 821.0,596.0 C827.3,578.2 838.8,567.5 850.0,558.0 C861.2,548.5 873.8,543.8 888.0,539.0 C902.2,534.2 920.5,535.5 935.0,529.0 C949.5,522.5 965.8,516.5 975.0,500.0 C984.2,483.5 979.2,442.5 990.0,430.0 C1000.8,417.5 1023.3,418.3 1040.0,425.0 C1056.7,431.7 1077.5,447.5 1090.0,470.0 C1102.5,492.5 1110.3,530.0 1115.0,560.0 C1119.7,590.0 1116.3,621.7 1118.0,650.0 C1119.7,678.3 1125.5,705.0 1125.0,730.0 C1124.5,755.0 1125.8,782.5 1115.0,800.0 C1104.2,817.5 1079.2,826.7 1060.0,835.0 C1040.8,843.3 1016.7,845.8 1000.0,850.0 C983.3,854.2 976.7,865.0 960.0,860.0 C943.3,855.0 918.3,836.7 900.0,820.0 C881.7,803.3 862.5,778.3 850.0,760.0 C837.5,741.7 831.3,725.8 825.0,710.0 C818.7,694.2 812.7,684.0 812.0,665.0Z" fill="#c0fa00" filter="url(#b6)"/>
<path d="M869.0,662.0 C868.7,646.2 871.7,626.0 878.0,615.0 C884.3,604.0 895.8,600.8 907.0,596.0 C918.2,591.2 933.7,590.0 945.0,586.0 C956.3,582.0 967.2,583.0 975.0,572.0 C982.8,561.0 982.8,530.3 992.0,520.0 C1001.2,509.7 1017.8,503.3 1030.0,510.0 C1042.2,516.7 1057.5,538.3 1065.0,560.0 C1072.5,581.7 1071.7,613.3 1075.0,640.0 C1078.3,666.7 1085.8,695.0 1085.0,720.0 C1084.2,745.0 1080.8,775.0 1070.0,790.0 C1059.2,805.0 1031.7,815.0 1020.0,810.0 C1008.3,805.0 1005.0,778.3 1000.0,760.0 C995.0,741.7 996.7,706.7 990.0,700.0 C983.3,693.3 968.3,708.3 960.0,720.0 C951.7,731.7 949.2,763.3 940.0,770.0 C930.8,776.7 915.0,770.0 905.0,760.0 C895.0,750.0 886.0,726.3 880.0,710.0 C874.0,693.7 869.3,677.8 869.0,662.0Z" fill="#defa00" filter="url(#b6)"/>
<path d="M918.0,660.0 C915.3,649.3 924.3,637.7 930.0,630.0 C935.7,622.3 944.5,617.7 952.0,614.0 C959.5,610.3 967.8,616.7 975.0,608.0 C982.2,599.3 986.2,572.0 995.0,562.0 C1003.8,552.0 1016.8,543.3 1028.0,548.0 C1039.2,552.7 1054.3,573.0 1062.0,590.0 C1069.7,607.0 1073.3,630.8 1074.0,650.0 C1074.7,669.2 1071.7,692.0 1066.0,705.0 C1060.3,718.0 1050.2,729.7 1040.0,728.0 C1029.8,726.3 1015.0,702.3 1005.0,695.0 C995.0,687.7 989.8,684.2 980.0,684.0 C970.2,683.8 956.3,698.0 946.0,694.0 C935.7,690.0 920.7,670.7 918.0,660.0Z" fill="#f6fa00" filter="url(#b5)"/>
<path d="M1185.0,480.0 C1194.2,473.3 1217.2,486.7 1230.0,500.0 C1242.8,513.3 1254.5,535.0 1262.0,560.0 C1269.5,585.0 1273.7,620.0 1275.0,650.0 C1276.3,680.0 1275.0,715.0 1270.0,740.0 C1265.0,765.0 1256.7,788.3 1245.0,800.0 C1233.3,811.7 1214.2,813.3 1200.0,810.0 C1185.8,806.7 1168.3,798.3 1160.0,780.0 C1151.7,761.7 1149.2,726.7 1150.0,700.0 C1150.8,673.3 1160.8,646.7 1165.0,620.0 C1169.2,593.3 1171.7,563.3 1175.0,540.0 C1178.3,516.7 1175.8,486.7 1185.0,480.0Z" fill="#5cfa00" filter="url(#b8)"/>
<path d="M700.0,800.0 C713.3,770.0 738.3,810.0 760.0,810.0 C781.7,810.0 810.0,796.7 830.0,800.0 C850.0,803.3 866.7,816.7 880.0,830.0 C893.3,843.3 899.2,868.3 910.0,880.0 C920.8,891.7 934.2,900.0 945.0,900.0 C955.8,900.0 965.8,885.0 975.0,880.0 C984.2,875.0 989.2,870.0 1000.0,870.0 C1010.8,870.0 1023.3,880.0 1040.0,880.0 C1056.7,880.0 1076.7,876.7 1100.0,870.0 C1123.3,863.3 1153.3,850.0 1180.0,840.0 C1206.7,830.0 1240.0,813.3 1260.0,810.0 C1280.0,806.7 1293.3,790.0 1300.0,820.0 C1306.7,850.0 1403.3,961.7 1300.0,990.0 C1196.7,1018.3 780.0,1021.7 680.0,990.0 C580.0,958.3 686.7,830.0 700.0,800.0Z" fill="#5cfa00" filter="url(#b8)"/>
<path d="M720.0,830.0 C723.3,800.8 760.0,815.0 780.0,815.0 C800.0,815.0 826.7,819.2 840.0,830.0 C853.3,840.8 858.3,863.3 860.0,880.0 C861.7,896.7 843.3,918.3 850.0,930.0 C856.7,941.7 883.3,955.0 900.0,950.0 C916.7,945.0 937.5,913.3 950.0,900.0 C962.5,886.7 966.7,873.3 975.0,870.0 C983.3,866.7 989.2,870.0 1000.0,880.0 C1010.8,890.0 1023.3,920.0 1040.0,930.0 C1056.7,940.0 1081.7,945.0 1100.0,940.0 C1118.3,935.0 1133.3,910.0 1150.0,900.0 C1166.7,890.0 1185.0,880.0 1200.0,880.0 C1215.0,880.0 1240.0,881.7 1240.0,900.0 C1240.0,918.3 1280.0,975.0 1200.0,990.0 C1120.0,1005.0 840.0,1016.7 760.0,990.0 C680.0,963.3 716.7,859.2 720.0,830.0Z" fill="#30fa00" filter="url(#b8)"/>
<ellipse cx="958.0" cy="925.0" rx="14.0" ry="45.0" fill="#00f032" filter="url(#b6)"/>
<ellipse cx="1012.0" cy="920.0" rx="12.0" ry="40.0" fill="#14f514" filter="url(#b6)"/>
</g>
<g filter="url(#b2)">
<path d="M1301,651.5l0,11.5l-0.5,11l-1,11.5l-1.5,11l-1.5,11.5l-2,11l-2.5,11l-2.5,11l-3,11l-3.5,10.5l-4,11l-4,10.5l-4.5,10l-5,10.5l-5.5,10l-5.5,9.5l-6,9.5l-6.5,9.5l-6.5,9l-7,9l-7.5,8.5l-7.5,8.5l-8,8l-8,8l-8.5,7.5l-8.5,7l-9,7l-9,6.5l-9.5,6.5l-9.5,5.5l-10,6l-9.5,5l-10.5,5l-10,5l-10.5,4.5l-10.5,4l-10.5,3.5l-11,3l-10.5,4l-2.5,1.5l-3,1l-2.5,1l-2.5,1l-3,1l-2.5,0.5l-3,1l-3,0.5l-2.5,0.5l-2.5,2l-3,2.5l-2.5,3l-2.5,2.5l-3,2.5l-2.5,1.5l-3,1l-2.5,7l-3,6l-3,1.5l-3,2l-3,0l-3,0l-3,0l-3.5,0l-3,0.5l-3,0l-3,0l-3-0.5l-3-4l-3-2.5l-3-1l-3-1.5l-3-2.5l-2.5-3l-3-2.5l-2.5-2l-3-1.5l-3-0.5l-3-1l-2.5-1l-3-1.5l-2.5-1.5l-2.5-2l-3-2l-2.5-2l-2.5-2l-2.5-1.5l-2.5-1.5l-11-3.5l-10.5-4.5l-10-5.5l-10-5.5l-10.5-4.5l-10-4.5l-10-5l-10-5.5l-9.5-6l-9-6l-9.5-6.5l-9-6.5l-8.5-6.5l-9-7.5l-8-7.5l-8-7.5l-8-8l-7.5-8.5l-7-8.5l-7-9l-6.5-9l-6-9.5l-5.5-9.5l-5-10l-5-10l-4-10.5l-4.5-10l-4-10.5l-4-10.5l-3-10.5l-3-10.5l-2-11l-1.5-11l-1.5-11l-0.5-11l-0.5-11l-0.5-11l0-11l0-11l0-11l0.5-10.5l1-11l1.5-11l1.5-10.5l2-11l2.5-10.5l3-10.5l3-10.5l3.5-10.5l3.5-10l4.5-10l4.5-10l5-9.5l5-9.5l5.5-9.5l6-9l6-9l6.5-9l6.5-8.5l7-8l7.5-8l7.5-8l8-7l8-7.5l8-7l8.5-6.5l9-6.5l9-6l9-6l9-5l9.5-5.5l10-4.5l9.5-4.5l10-4.5l10.5-3.5l10-3.5l10.5-3l10.5-2.5l10.5-2.5l10.5-1.5l11-1.5l10.5-1l11-1l10.5,0l11,0l11,0.5l10.5,1l11,1.5l10.5,1.5l10.5,2l11,2.5l10.5,2.5l10,3.5l10.5,3l10,4l10,4.5l10,4.5l10,4.5l9.5,5.5l9,5.5l9.5,6l9,6.5l8.5,6.5l8.5,7l8.5,7l8,7.5l7.5,8l7.5,8l7.5,8.5l7,8.5l6.5,8.5l6.5,9l6,9l6,9.5l6,9.5l5,10l5,10l5,10l4,10l4,10.5l3.5,11l3.5,10.5l2.5,11l2.5,11l2,11l1.5,11.5l1.5,11l0.5,11.5z M1297,651.5l-0.5,11l-0.5,11.5l-1,11l-1,11l-1.5,11l-2,11l-2.5,11l-2.5,11l-3,10.5l-3.5,10.5l-4,10.5l-4,10.5l-4.5,10.5l-5,10l-5,9.5l-6,10l-5.5,9.5l-6.5,9l-6.5,9l-7,8.5l-7.5,8.5l-7.5,8.5l-7.5,8l-8,7.5l-8.5,7.5l-8.5,7l-8.5,7l-9,6.5l-9.5,6l-9.5,6l-9.5,5l-9.5,5.5l-10,5l-10,4.5l-10.5,4.5l-10,4l-11,3.5l-10.5,3l-10.5,4l-2.5,1.5l-2.5,1l-3,1l-2.5,1l-2.5,1l-3,0.5l-2.5,0.5l-3,0.5l-2.5,1l-3,2l-2.5,2.5l-2.5,3l-2.5,2.5l-2.5,2.5l-3,1l-3,1.5l-2.5,7l-2.5,6l-3,1.5l-3,1.5l-3,0.5l-3,0l-3,0l-3.5,0l-3,0l-3,0l-3,0l-3,0l-3-4.5l-3-2l-3-1l-2.5-2l-3-2.5l-3-2.5l-2.5-2.5l-2.5-2.5l-3-1l-3-0.5l-2.5-1l-3-1l-2.5-1.5l-3-1.5l-2.5-2l-2.5-2l-2.5-2l-2.5-2l-2.5-1.5l-2.5-1.5l-11-3.5l-10.5-4.5l-10-5l-9.5-5.5l-10-5l-10-4.5l-10-5l-9.5-5l-9.5-6l-9.5-6l-9-6l-9-6.5l-8.5-6.5l-8.5-7l-8-7.5l-8-7.5l-8-8l-7-8.5l-7.5-8l-6.5-9l-6.5-9l-6-9l-5.5-10l-5-9.5l-4.5-10l-4.5-10l-4-10.5l-4-10l-4-10.5l-3.5-10l-2.5-11l-2-10.5l-2-11l-1-11l-0.5-10.5l-0.5-11l-0.5-11l0-10.5l0-11l0-10.5l0.5-11l1-10.5l1.5-11l1.5-10.5l2-10.5l2.5-10.5l2.5-10.5l3-10.5l3.5-10l4-10l4-10l4.5-9.5l5-10l5-9l5.5-9.5l5.5-9l6-9l6.5-8.5l6.5-8.5l7-8l7.5-8l7.5-7.5l7.5-7.5l8-7l8-6.5l8.5-7l8.5-6l9-6l9-6l9-5l9.5-5.5l9.5-4.5l9.5-4.5l10-4l10-4l10-3l10.5-3l10-2.5l10.5-2.5l10.5-2l10.5-1l11-1l10.5-1l10.5,0l11,0l10.5,0.5l10.5,1l11,1.5l10.5,1.5l10.5,2l10.5,2.5l10,2.5l10.5,3l10,3.5l10,4l10,4l10,4.5l9.5,5l9.5,5l9,5.5l9,6l9,6l8.5,6.5l8.5,7l8,7l8,7.5l7.5,8l7.5,8l7,8l7,8.5l6.5,8.5l6.5,9l6,9l6,9l5.5,9.5l5.5,9.5l4.5,10l5,10l4,10l4,10.5l3.5,10.5l3.5,10.5l2.5,11l2.5,10.5l2,11l1.5,11l1,11.5l0.5,11z" fill="#fbf900" fill-rule="evenodd" opacity="1.00"/>
<path d="M1297,651.5l-0.5,11l-0.5,11.5l-1,11l-1,11l-1.5,11l-2,11l-2.5,11l-2.5,11l-3,10.5l-3.5,10.5l-4,10.5l-4,10.5l-4.5,10.5l-5,10l-5,9.5l-6,10l-5.5,9.5l-6.5,9l-6.5,9l-7,8.5l-7.5,8.5l-7.5,8.5l-7.5,8l-8,7.5l-8.5,7.5l-8.5,7l-8.5,7l-9,6.5l-9.5,6l-9.5,6l-9.5,5l-9.5,5.5l-10,5l-10,4.5l-10.5,4.5l-10,4l-11,3.5l-10.5,3l-10.5,4l-2.5,1.5l-2.5,1l-3,1l-2.5,1l-2.5,1l-3,0.5l-2.5,0.5l-3,0.5l-2.5,1l-3,2l-2.5,2.5l-2.5,3l-2.5,2.5l-2.5,2.5l-3,1l-3,1.5l-2.5,7l-2.5,6l-3,1.5l-3,1.5l-3,0.5l-3,0l-3,0l-3.5,0l-3,0l-3,0l-3,0l-3,0l-3-4.5l-3-2l-3-1l-2.5-2l-3-2.5l-3-2.5l-2.5-2.5l-2.5-2.5l-3-1l-3-0.5l-2.5-1l-3-1l-2.5-1.5l-3-1.5l-2.5-2l-2.5-2l-2.5-2l-2.5-2l-2.5-1.5l-2.5-1.5l-11-3.5l-10.5-4.5l-10-5l-9.5-5.5l-10-5l-10-4.5l-10-5l-9.5-5l-9.5-6l-9.5-6l-9-6l-9-6.5l-8.5-6.5l-8.5-7l-8-7.5l-8-7.5l-8-8l-7-8.5l-7.5-8l-6.5-9l-6.5-9l-6-9l-5.5-10l-5-9.5l-4.5-10l-4.5-10l-4-10.5l-4-10l-4-10.5l-3.5-10l-2.5-11l-2-10.5l-2-11l-1-11l-0.5-10.5l-0.5-11l-0.5-11l0-10.5l0-11l0-10.5l0.5-11l1-10.5l1.5-11l1.5-10.5l2-10.5l2.5-10.5l2.5-10.5l3-10.5l3.5-10l4-10l4-10l4.5-9.5l5-10l5-9l5.5-9.5l5.5-9l6-9l6.5-8.5l6.5-8.5l7-8l7.5-8l7.5-7.5l7.5-7.5l8-7l8-6.5l8.5-7l8.5-6l9-6l9-6l9-5l9.5-5.5l9.5-4.5l9.5-4.5l10-4l10-4l10-3l10.5-3l10-2.5l10.5-2.5l10.5-2l10.5-1l11-1l10.5-1l10.5,0l11,0l10.5,0.5l10.5,1l11,1.5l10.5,1.5l10.5,2l10.5,2.5l10,2.5l10.5,3l10,3.5l10,4l10,4l10,4.5l9.5,5l9.5,5l9,5.5l9,6l9,6l8.5,6.5l8.5,7l8,7l8,7.5l7.5,8l7.5,8l7,8l7,8.5l6.5,8.5l6.5,9l6,9l6,9l5.5,9.5l5.5,9.5l4.5,10l5,10l4,10l4,10.5l3.5,10.5l3.5,10.5l2.5,11l2.5,10.5l2,11l1.5,11l1,11.5l0.5,11z M1292.5,651.5l-0.5,11l0,11l-1,11l-1,11l-1.5,11l-2,11l-2,10.5l-2.5,11l-3,10.5l-3.5,10.5l-3.5,10.5l-4,10l-4.5,10.5l-5,10l-5,9.5l-5.5,9.5l-6,9.5l-6,9l-6.5,9l-7,8.5l-7,8.5l-7.5,8l-7.5,8l-8,8l-8,7l-8.5,7.5l-9,6.5l-8.5,6.5l-9.5,6l-9,6l-9.5,5.5l-10,5l-9.5,5l-10,4.5l-10,4.5l-10.5,4l-10.5,3.5l-10.5,3l-10.5,4.5l-2.5,1l-2.5,1l-2.5,1l-3,1l-2.5,1l-3,1l-2.5,0.5l-2.5,0.5l-3,1l-2.5,1.5l-2.5,2.5l-2.5,3l-2.5,3l-3,2l-2.5,1.5l-3,1l-2.5,7l-2.5,6l-3,1.5l-3,2l-3,0l-3,0l-3.5,0l-3,0.5l-3,0l-3,0l-3,0l-3,0l-3-4.5l-3-2l-2.5-1l-3-2l-3-2.5l-2.5-3l-3-2.5l-2.5-2l-3-1.5l-2.5-0.5l-3-0.5l-2.5-1.5l-3-1l-2.5-2l-2.5-2l-2.5-2l-2.5-2l-2.5-1.5l-2.5-2l-2.5-1.5l-11-3.5l-10-4l-10-5.5l-10-5.5l-9.5-5l-10-4l-10-5l-9.5-5.5l-9-5.5l-9.5-6l-9-6.5l-8.5-6.5l-8.5-6.5l-8.5-7l-8-7.5l-8-7.5l-7.5-8l-7.5-8l-7-8.5l-6.5-8.5l-6.5-9l-5.5-9l-5.5-9.5l-5-10l-4.5-9.5l-4.5-10l-4-10l-4-10.5l-3.5-10l-3.5-10.5l-2.5-10.5l-2-10.5l-1.5-10.5l-1-11l-0.5-10.5l-0.5-11l0-10.5l0-11l0-10.5l0.5-10.5l0.5-10.5l1-10.5l1.5-10.5l1.5-10.5l2-10.5l2.5-10.5l3-10l3-10l3-10l4-10l4-9.5l4.5-10l4.5-9l5-9.5l5.5-9l5.5-9l6-8.5l6.5-8.5l6.5-8l7-8l7-8l7-7.5l8-7l7.5-7l8-7l8.5-6.5l8.5-6l8.5-6l8.5-5.5l9.5-5l9-5l9.5-5l9.5-4l9.5-4l10-4l9.5-3l10.5-3l10-2.5l10-2l10.5-2l10.5-1.5l10.5-1l10-0.5l10.5,0l10.5,0l10.5,0.5l10.5,1l10.5,1l10.5,1.5l10,2l10.5,2.5l10,2.5l10,3l10,3.5l10,3.5l9.5,4l10,4.5l9.5,5l9,5l9,5l9,6l8.5,6l8.5,6.5l8.5,6.5l8,7l7.5,7.5l7.5,7.5l7.5,8l7,8l6.5,8l7,8.5l6,9l6,8.5l6,9.5l5.5,9l5,9.5l5,9.5l4.5,10l4,10l4,10l3.5,10.5l3,10.5l3,10.5l2.5,10.5l2,11l1.5,10.5l1,11l1,11z" fill="#e6fa00" fill-rule="evenodd" opacity="1.00"/>
<path d="M1292.5,651.5l-0.5,11l0,11l-1,11l-1,11l-1.5,11l-2,11l-2,10.5l-2.5,11l-3,10.5l-3.5,10.5l-3.5,10.5l-4,10l-4.5,10.5l-5,10l-5,9.5l-5.5,9.5l-6,9.5l-6,9l-6.5,9l-7,8.5l-7,8.5l-7.5,8l-7.5,8l-8,8l-8,7l-8.5,7.5l-9,6.5l-8.5,6.5l-9.5,6l-9,6l-9.5,5.5l-10,5l-9.5,5l-10,4.5l-10,4.5l-10.5,4l-10.5,3.5l-10.5,3l-10.5,4.5l-2.5,1l-2.5,1l-2.5,1l-3,1l-2.5,1l-3,1l-2.5,0.5l-2.5,0.5l-3,1l-2.5,1.5l-2.5,2.5l-2.5,3l-2.5,3l-3,2l-2.5,1.5l-3,1l-2.5,7l-2.5,6l-3,1.5l-3,2l-3,0l-3,0l-3.5,0l-3,0.5l-3,0l-3,0l-3,0l-3,0l-3-4.5l-3-2l-2.5-1l-3-2l-3-2.5l-2.5-3l-3-2.5l-2.5-2l-3-1.5l-2.5-0.5l-3-0.5l-2.5-1.5l-3-1l-2.5-2l-2.5-2l-2.5-2l-2.5-2l-2.5-1.5l-2.5-2l-2.5-1.5l-11-3.5l-10-4l-10-5.5l-10-5.5l-9.5-5l-10-4l-10-5l-9.5-5.5l-9-5.5l-9.5-6l-9-6.5l-8.5-6.5l-8.5-6.5l-8.5-7l-8-7.5l-8-7.5l-7.5-8l-7.5-8l-7-8.5l-6.5-8.5l-6.5-9l-5.5-9l-5.5-9.5l-5-10l-4.5-9.5l-4.5-10l-4-10l-4-10.5l-3.5-10l-3.5-10.5l-2.5-10.5l-2-10.5l-1.5-10.5l-1-11l-0.5-10.5l-0.5-11l0-10.5l0-11l0-10.5l0.5-10.5l0.5-10.5l1-10.5l1.5-10.5l1.5-10.5l2-10.5l2.5-10.5l3-10l3-10l3-10l4-10l4-9.5l4.5-10l4.5-9l5-9.5l5.5-9l5.5-9l6-8.5l6.5-8.5l6.5-8l7-8l7-8l7-7.5l8-7l7.5-7l8-7l8.5-6.5l8.5-6l8.5-6l8.5-5.5l9.5-5l9-5l9.5-5l9.5-4l9.5-4l10-4l9.5-3l10.5-3l10-2.5l10-2l10.5-2l10.5-1.5l10.5-1l10-0.5l10.5,0l10.5,0l10.5,0.5l10.5,1l10.5,1l10.5,1.5l10,2l10.5,2.5l10,2.5l10,3l10,3.5l10,3.5l9.5,4l10,4.5l9.5,5l9,5l9,5l9,6l8.5,6l8.5,6.5l8.5,6.5l8,7l7.5,7.5l7.5,7.5l7.5,8l7,8l6.5,8l7,8.5l6,9l6,8.5l6,9.5l5.5,9l5,9.5l5,9.5l4.5,10l4,10l4,10l3.5,10.5l3,10.5l3,10.5l2.5,10.5l2,11l1.5,10.5l1,11l1,11z M1289,651.5l0,11l-0.5,11l-0.5,10.5l-1,11l-1.5,11l-2,10.5l-2,11l-2.5,10.5l-3,10.5l-3,10.5l-3.5,10.5l-4,10l-4.5,10l-5,10l-5,9.5l-5.5,9.5l-5.5,9.5l-6.5,9l-6.5,9l-6.5,8.5l-7,8l-7.5,8.5l-7.5,7.5l-8,8l-8,7l-8.5,7l-8.5,7l-8.5,6.5l-9,6l-9.5,5.5l-9.5,5.5l-9.5,5.5l-9.5,4.5l-10,5l-10,4l-10.5,4l-10,3.5l-10.5,3.5l-10.5,4l-2.5,1l-2.5,1.5l-2.5,1l-3,1l-2.5,0.5l-2.5,1l-3,0.5l-2.5,0.5l-3,1l-2.5,2l-2.5,2.5l-2.5,2.5l-2.5,3l-2.5,2l-3,1.5l-2.5,1.5l-2.5,7l-3,6l-2.5,1.5l-3,1.5l-3,0l-3,0l-3.5,0.5l-3,0l-3,0l-3,0l-3,0l-3,0l-3-4.5l-2.5-2l-3-1l-3-2l-2.5-2.5l-3-2.5l-2.5-3l-2.5-2l-3-1.5l-3-0.5l-2.5-0.5l-3-1l-2.5-1.5l-2.5-2l-2.5-1.5l-2.5-2l-2.5-2l-2.5-2l-2.5-2l-2.5-1l-10.5-3.5l-10.5-4.5l-10-5.5l-9.5-5.5l-9.5-4.5l-10-4.5l-10-5l-9-5.5l-9.5-5.5l-9-6l-9-6l-8.5-6.5l-8.5-6.5l-8.5-7l-8-7.5l-7.5-7.5l-7.5-7.5l-7-8.5l-7-8l-7-8.5l-6-9l-6-9l-5-9.5l-5-9.5l-4.5-10l-4.5-10l-4-10l-4-10l-3.5-10l-3-10.5l-2.5-10l-2-11l-1.5-10.5l-1-10.5l-0.5-10.5l0-11l0-10.5l0-10.5l0-10.5l0.5-10.5l0.5-10.5l1-10.5l1.5-10l2-10.5l2-10l2-10.5l3-10l3-10l3.5-10l3.5-9.5l4-9.5l4.5-9.5l4.5-9.5l5-9l5-9l6-9l5.5-8.5l6.5-8l6.5-8.5l6.5-7.5l7-8l7.5-7l7.5-7.5l7.5-6.5l8-7l8-6l8.5-6l8.5-6l8.5-5.5l9-5l9-5l9.5-4.5l9.5-4.5l9.5-4l9.5-3.5l10-3.5l9.5-2.5l10.5-2.5l10-2.5l10-1.5l10.5-1.5l10-1l10.5-0.5l10,0l10.5,0l10.5,0.5l10,1l10.5,1l10,1.5l10.5,2l10,2.5l10,2.5l10,3l10,3l9.5,4l9.5,3.5l9.5,4.5l9.5,4.5l9,5l9,5.5l9,5.5l8.5,6l8.5,6.5l8,6.5l8,7l7.5,7.5l7.5,7.5l7,7.5l7,8l6.5,8l6.5,8.5l6.5,8.5l6,8.5l5.5,9l5.5,9.5l5,9l5,9.5l4.5,10l4,10l4,10l3.5,10l3,10.5l3,10l2.5,11l2,10.5l1.5,10.5l1,11l1,10.5z" fill="#cdfa00" fill-rule="evenodd" opacity="1.00"/>
<path d="M1289,651.5l0,11l-0.5,11l-0.5,10.5l-1,11l-1.5,11l-2,10.5l-2,11l-2.5,10.5l-3,10.5l-3,10.5l-3.5,10.5l-4,10l-4.5,10l-5,10l-5,9.5l-5.5,9.5l-5.5,9.5l-6.5,9l-6.5,9l-6.5,8.5l-7,8l-7.5,8.5l-7.5,7.5l-8,8l-8,7l-8.5,7l-8.5,7l-8.5,6.5l-9,6l-9.5,5.5l-9.5,5.5l-9.5,5.5l-9.5,4.5l-10,5l-10,4l-10.5,4l-10,3.5l-10.5,3.5l-10.5,4l-2.5,1l-2.5,1.5l-2.5,1l-3,1l-2.5,0.5l-2.5,1l-3,0.5l-2.5,0.5l-3,1l-2.5,2l-2.5,2.5l-2.5,2.5l-2.5,3l-2.5,2l-3,1.5l-2.5,1.5l-2.5,7l-3,6l-2.5,1.5l-3,1.5l-3,0l-3,0l-3.5,0.5l-3,0l-3,0l-3,0l-3,0l-3,0l-3-4.5l-2.5-2l-3-1l-3-2l-2.5-2.5l-3-2.5l-2.5-3l-2.5-2l-3-1.5l-3-0.5l-2.5-0.5l-3-1l-2.5-1.5l-2.5-2l-2.5-1.5l-2.5-2l-2.5-2l-2.5-2l-2.5-2l-2.5-1l-10.5-3.5l-10.5-4.5l-10-5.5l-9.5-5.5l-9.5-4.5l-10-4.5l-10-5l-9-5.5l-9.5-5.5l-9-6l-9-6l-8.5-6.5l-8.5-6.5l-8.5-7l-8-7.5l-7.5-7.5l-7.5-7.5l-7-8.5l-7-8l-7-8.5l-6-9l-6-9l-5-9.5l-5-9.5l-4.5-10l-4.5-10l-4-10l-4-10l-3.5-10l-3-10.5l-2.5-10l-2-11l-1.5-10.5l-1-10.5l-0.5-10.5l0-11l0-10.5l0-10.5l0-10.5l0.5-10.5l0.5-10.5l1-10.5l1.5-10l2-10.5l2-10l2-10.5l3-10l3-10l3.5-10l3.5-9.5l4-9.5l4.5-9.5l4.5-9.5l5-9l5-9l6-9l5.5-8.5l6.5-8l6.5-8.5l6.5-7.5l7-8l7.5-7l7.5-7.5l7.5-6.5l8-7l8-6l8.5-6l8.5-6l8.5-5.5l9-5l9-5l9.5-4.5l9.5-4.5l9.5-4l9.5-3.5l10-3.5l9.5-2.5l10.5-2.5l10-2.5l10-1.5l10.5-1.5l10-1l10.5-0.5l10,0l10.5,0l10.5,0.5l10,1l10.5,1l10,1.5l10.5,2l10,2.5l10,2.5l10,3l10,3l9.5,4l9.5,3.5l9.5,4.5l9.5,4.5l9,5l9,5.5l9,5.5l8.5,6l8.5,6.5l8,6.5l8,7l7.5,7.5l7.5,7.5l7,7.5l7,8l6.5,8l6.5,8.5l6.5,8.5l6,8.5l5.5,9l5.5,9.5l5,9l5,9.5l4.5,10l4,10l4,10l3.5,10l3,10.5l3,10l2.5,11l2,10.5l1.5,10.5l1,11l1,10.5z M1284.5,651.5l0,11l0,10.5l-0.5,11l-1,10.5l-1.5,10.5l-1.5,11l-2,10.5l-2.5,10.5l-3,10.5l-3,10.5l-3.5,10l-4,10l-4,10l-5,10l-5,9.5l-5.5,9.5l-5.5,9l-6,9l-6.5,8.5l-6.5,8.5l-7,8.5l-7.5,8l-7.5,7.5l-7.5,8l-8,7l-8.5,7l-8.5,6.5l-8.5,6.5l-9,6l-9,6l-9.5,5.5l-9.5,5l-9.5,5l-10,4.5l-9.5,4.5l-10,3.5l-10.5,3.5l-10.5,3.5l-10,4l-2.5,1l-2.5,1.5l-2.5,1l-3,1l-2.5,0.5l-2.5,1l-3,0.5l-2.5,0.5l-2.5,1l-2.5,2l-2.5,2.5l-2.5,2.5l-2.5,3l-3,2l-2.5,1.5l-3,1.5l-2.5,7l-2.5,6l-3,1.5l-3,1.5l-3,0l-3,0l-3,0.5l-3,0l-3,0l-3,0l-3,0l-3,0l-2.5-4.5l-3-2l-3-1l-2.5-2l-3-2.5l-2.5-2.5l-3-3l-2.5-2l-2.5-1.5l-3-0.5l-2.5-0.5l-3-1l-2.5-1.5l-2.5-2l-2.5-1.5l-2.5-2l-2.5-2l-2.5-2l-2.5-1.5l-2.5-1.5l-10.5-3.5l-10-4.5l-10-5.5l-9.5-5.5l-9.5-4.5l-10-4.5l-9.5-5l-9-5l-9.5-6l-8.5-5.5l-9-6.5l-8.5-6l-8.5-6.5l-8-7l-8-7.5l-7.5-7.5l-7.5-7.5l-7-8l-7-8.5l-6.5-8l-6-9l-6-9l-5-9.5l-5-9.5l-4.5-9.5l-4.5-10l-4-10l-3.5-9.5l-3.5-10.5l-3-10l-2.5-10l-2-10.5l-1-10.5l-1-10.5l-0.5-11l0-10l0-10.5l0-10.5l0.5-10.5l0.5-10l0.5-10.5l1-10.5l1.5-10l2-10l2-10l2.5-10l2.5-10l3-10l3.5-9.5l3.5-10l4-9l4-9.5l4.5-9l5-9l5.5-9l5.5-8.5l5.5-8.5l6-8l6.5-8l6.5-8l7-7.5l7-7l7.5-7l7.5-7l8-6.5l8-6l8-6l8.5-6l8.5-5.5l9-5l9-4.5l9-4.5l9-4.5l9.5-4l9.5-3.5l9.5-3l10-3l10-2.5l9.5-2l10-1.5l10.5-1.5l10-1l10-0.5l10,0l10.5,0l10,0.5l10,1l10,1l10.5,1.5l10,2l9.5,2l10,2.5l10,3l9.5,3.5l9.5,3.5l9.5,3.5l9.5,4.5l9,4.5l9,5l9,5l8.5,6l8.5,5.5l8.5,6.5l8,6.5l7.5,6.5l7.5,7l7.5,7.5l7,7.5l7,8l6.5,8l6.5,8l6,8.5l6,8.5l5.5,9l5.5,9l5,9.5l4.5,9l4.5,9.5l4,10l4,10l3.5,10l3,10l3,10l2,10.5l2.5,10.5l1.5,10.5l1,10.5l1,11z" fill="#b2fa00" fill-rule="evenodd" opacity="0.90"/>
<path d="M1284.5,651.5l0,11l0,10.5l-0.5,11l-1,10.5l-1.5,10.5l-1.5,11l-2,10.5l-2.5,10.5l-3,10.5l-3,10.5l-3.5,10l-4,10l-4,10l-5,10l-5,9.5l-5.5,9.5l-5.5,9l-6,9l-6.5,8.5l-6.5,8.5l-7,8.5l-7.5,8l-7.5,7.5l-7.5,8l-8,7l-8.5,7l-8.5,6.5l-8.5,6.5l-9,6l-9,6l-9.5,5.5l-9.5,5l-9.5,5l-10,4.5l-9.5,4.5l-10,3.5l-10.5,3.5l-10.5,3.5l-10,4l-2.5,1l-2.5,1.5l-2.5,1l-3,1l-2.5,0.5l-2.5,1l-3,0.5l-2.5,0.5l-2.5,1l-2.5,2l-2.5,2.5l-2.5,2.5l-2.5,3l-3,2l-2.5,1.5l-3,1.5l-2.5,7l-2.5,6l-3,1.5l-3,1.5l-3,0l-3,0l-3,0.5l-3,0l-3,0l-3,0l-3,0l-3,0l-2.5-4.5l-3-2l-3-1l-2.5-2l-3-2.5l-2.5-2.5l-3-3l-2.5-2l-2.5-1.5l-3-0.5l-2.5-0.5l-3-1l-2.5-1.5l-2.5-2l-2.5-1.5l-2.5-2l-2.5-2l-2.5-2l-2.5-1.5l-2.5-1.5l-10.5-3.5l-10-4.5l-10-5.5l-9.5-5.5l-9.5-4.5l-10-4.5l-9.5-5l-9-5l-9.5-6l-8.5-5.5l-9-6.5l-8.5-6l-8.5-6.5l-8-7l-8-7.5l-7.5-7.5l-7.5-7.5l-7-8l-7-8.5l-6.5-8l-6-9l-6-9l-5-9.5l-5-9.5l-4.5-9.5l-4.5-10l-4-10l-3.5-9.5l-3.5-10.5l-3-10l-2.5-10l-2-10.5l-1-10.5l-1-10.5l-0.5-11l0-10l0-10.5l0-10.5l0.5-10.5l0.5-10l0.5-10.5l1-10.5l1.5-10l2-10l2-10l2.5-10l2.5-10l3-10l3.5-9.5l3.5-10l4-9l4-9.5l4.5-9l5-9l5.5-9l5.5-8.5l5.5-8.5l6-8l6.5-8l6.5-8l7-7.5l7-7l7.5-7l7.5-7l8-6.5l8-6l8-6l8.5-6l8.5-5.5l9-5l9-4.5l9-4.5l9-4.5l9.5-4l9.5-3.5l9.5-3l10-3l10-2.5l9.5-2l10-1.5l10.5-1.5l10-1l10-0.5l10,0l10.5,0l10,0.5l10,1l10,1l10.5,1.5l10,2l9.5,2l10,2.5l10,3l9.5,3.5l9.5,3.5l9.5,3.5l9.5,4.5l9,4.5l9,5l9,5l8.5,6l8.5,5.5l8.5,6.5l8,6.5l7.5,6.5l7.5,7l7.5,7.5l7,7.5l7,8l6.5,8l6.5,8l6,8.5l6,8.5l5.5,9l5.5,9l5,9.5l4.5,9l4.5,9.5l4,10l4,10l3.5,10l3,10l3,10l2,10.5l2.5,10.5l1.5,10.5l1,10.5l1,11z M1279.5,651.5l0,10.5l0,10.5l-0.5,11l-1,10.5l-1,10.5l-1.5,10.5l-2,10.5l-2.5,10.5l-2.5,10l-3,10.5l-3.5,10l-4,10l-4,9.5l-4.5,10l-5,9.5l-5.5,9l-5.5,9l-6,9l-6.5,8.5l-6.5,8.5l-7,8l-7,8l-7.5,8l-7.5,7l-7.5,7.5l-8.5,7l-8,6.5l-8.5,6.5l-9,6l-9,5.5l-9,5.5l-9.5,5l-9.5,5l-9.5,4.5l-10,4.5l-10,3.5l-10,3.5l-10,3.5l-10.5,4l-2.5,1l-2.5,1l-2.5,1l-2.5,1l-2.5,1l-2.5,1l-3,0.5l-2.5,0.5l-2.5,1l-2.5,1.5l-2.5,2.5l-2.5,3l-2.5,3l-2.5,2l-3,1.5l-2.5,1l-2.5,7l-2.5,6l-3,1.5l-3,2l-3,0l-3,0l-3,0l-3,0.5l-3,0l-2.5,0l-3,0l-3,0l-3-4.5l-3-2l-2.5-1l-3-2l-2.5-2.5l-3-3l-2.5-2.5l-2.5-2l-2.5-1.5l-3-0.5l-2.5-0.5l-3-1.5l-2.5-1l-2.5-2l-2.5-2l-2.5-1.5l-2.5-2l-2.5-2l-2.5-2l-2.5-1.5l-10-3l-10-4.5l-9.5-5.5l-9.5-5.5l-9.5-4.5l-10-4.5l-9-5l-9.5-5l-9-5.5l-8.5-6l-8.5-6l-8.5-6.5l-8.5-6.5l-8-7l-8-7l-7.5-7.5l-7-7.5l-7-8l-7-8l-6.5-8.5l-6-8.5l-5.5-9l-5-9l-5-9.5l-4.5-9.5l-4-10l-4-9.5l-3.5-10l-3.5-9.5l-3-10.5l-2-10l-2-10.5l-1-10l-1-10.5l0-10.5l0-10l0-10.5l0-10l0.5-10.5l0.5-10l1-10l1-10l1.5-10l2-10l2-10l2.5-10l2.5-9.5l3-9.5l3-9.5l3.5-9.5l4-9.5l4-9l4.5-9l5-9l5-8.5l5.5-8.5l5.5-8l6-8l6.5-8l6.5-7.5l6.5-7.5l7-7l7.5-7l7.5-6.5l7.5-6.5l8-6l8-6l8-5.5l8.5-5l8.5-5l9-5l9-4.5l9-4l9-3.5l9.5-3.5l9.5-3.5l9.5-2.5l9.5-2.5l10-2l9.5-1.5l10-1.5l10-1l10-0.5l9.5,0l10,0l10,0.5l10,1l10,1l9.5,1.5l10,2l10,2l9.5,2.5l9.5,2.5l9.5,3.5l9.5,3.5l9,3.5l9.5,4.5l9,4.5l8.5,4.5l9,5l8.5,5.5l8,6l8,6l8,6.5l7.5,6.5l7.5,7l7.5,7l6.5,7.5l7,7.5l6.5,8l6,8l6,8.5l6,8.5l5.5,8.5l5,8.5l5,9.5l5,9l4,9.5l4.5,9.5l3.5,9.5l3.5,10l3,10l3,10l2,10l2.5,10.5l1.5,10l1.5,10.5l1,10.5z" fill="#9cfa00" fill-rule="evenodd" opacity="0.70"/>
<path d="M1279.5,651.5l0,10.5l0,10.5l-0.5,11l-1,10.5l-1,10.5l-1.5,10.5l-2,10.5l-2.5,10.5l-2.5,10l-3,10.5l-3.5,10l-4,10l-4,9.5l-4.5,10l-5,9.5l-5.5,9l-5.5,9l-6,9l-6.5,8.5l-6.5,8.5l-7,8l-7,8l-7.5,8l-7.5,7l-7.5,7.5l-8.5,7l-8,6.5l-8.5,6.5l-9,6l-9,5.5l-9,5.5l-9.5,5l-9.5,5l-9.5,4.5l-10,4.5l-10,3.5l-10,3.5l-10,3.5l-10.5,4l-2.5,1l-2.5,1l-2.5,1l-2.5,1l-2.5,1l-2.5,1l-3,0.5l-2.5,0.5l-2.5,1l-2.5,1.5l-2.5,2.5l-2.5,3l-2.5,3l-2.5,2l-3,1.5l-2.5,1l-2.5,7l-2.5,6l-3,1.5l-3,2l-3,0l-3,0l-3,0l-3,0.5l-3,0l-2.5,0l-3,0l-3,0l-3-4.5l-3-2l-2.5-1l-3-2l-2.5-2.5l-3-3l-2.5-2.5l-2.5-2l-2.5-1.5l-3-0.5l-2.5-0.5l-3-1.5l-2.5-1l-2.5-2l-2.5-2l-2.5-1.5l-2.5-2l-2.5-2l-2.5-2l-2.5-1.5l-10-3l-10-4.5l-9.5-5.5l-9.5-5.5l-9.5-4.5l-10-4.5l-9-5l-9.5-5l-9-5.5l-8.5-6l-8.5-6l-8.5-6.5l-8.5-6.5l-8-7l-8-7l-7.5-7.5l-7-7.5l-7-8l-7-8l-6.5-8.5l-6-8.5l-5.5-9l-5-9l-5-9.5l-4.5-9.5l-4-10l-4-9.5l-3.5-10l-3.5-9.5l-3-10.5l-2-10l-2-10.5l-1-10l-1-10.5l0-10.5l0-10l0-10.5l0-10l0.5-10.5l0.5-10l1-10l1-10l1.5-10l2-10l2-10l2.5-10l2.5-9.5l3-9.5l3-9.5l3.5-9.5l4-9.5l4-9l4.5-9l5-9l5-8.5l5.5-8.5l5.5-8l6-8l6.5-8l6.5-7.5l6.5-7.5l7-7l7.5-7l7.5-6.5l7.5-6.5l8-6l8-6l8-5.5l8.5-5l8.5-5l9-5l9-4.5l9-4l9-3.5l9.5-3.5l9.5-3.5l9.5-2.5l9.5-2.5l10-2l9.5-1.5l10-1.5l10-1l10-0.5l9.5,0l10,0l10,0.5l10,1l10,1l9.5,1.5l10,2l10,2l9.5,2.5l9.5,2.5l9.5,3.5l9.5,3.5l9,3.5l9.5,4.5l9,4.5l8.5,4.5l9,5l8.5,5.5l8,6l8,6l8,6.5l7.5,6.5l7.5,7l7.5,7l6.5,7.5l7,7.5l6.5,8l6,8l6,8.5l6,8.5l5.5,8.5l5,8.5l5,9.5l5,9l4,9.5l4.5,9.5l3.5,9.5l3.5,10l3,10l3,10l2,10l2.5,10.5l1.5,10l1.5,10.5l1,10.5z M1273.5,651.5l0,10.5l0,10.5l-0.5,10l-0.5,10.5l-1,10.5l-1.5,10.5l-1.5,10l-2.5,10.5l-2.5,10l-3,10l-3,10l-4,10l-4,9.5l-4.5,9.5l-5,9.5l-5,9l-5.5,9l-6,8.5l-6,8.5l-6.5,8.5l-7,8l-7,7.5l-7,8l-7.5,7l-8,7.5l-7.5,6.5l-8.5,6.5l-8.5,6.5l-8.5,6l-9,5.5l-9,5.5l-9,5l-9.5,5l-9.5,4.5l-9.5,4l-9.5,4l-10,3.5l-10.5,3l-9.5,4.5l-2.5,1l-2.5,1l-2.5,1l-2.5,1l-3,1l-2.5,0.5l-2.5,1l-2.5,0l-2.5,1l-2.5,2l-2.5,2.5l-2.5,3l-2.5,2.5l-2.5,2.5l-2.5,1.5l-3,1l-2.5,7l-2.5,6l-2.5,1.5l-3,1.5l-3,0.5l-3,0l-3,0l-3,0l-2.5,0l-3,0l-3,0l-3,0l-3-4.5l-2.5-2l-3-1l-2.5-2l-3-2.5l-2.5-2.5l-2.5-2.5l-2.5-2l-3-1.5l-2.5-0.5l-2.5-1l-3-1l-2.5-1.5l-2.5-1.5l-2.5-2l-2.5-2l-2-2l-2.5-2l-2.5-1.5l-2.5-1.5l-10-3.5l-10-4l-9.5-5.5l-9-5.5l-9.5-4.5l-9.5-4.5l-9-5l-9-5l-9-5.5l-8.5-6l-8.5-6l-8.5-6l-8-6.5l-8-7l-7.5-7l-7.5-7.5l-7-7.5l-7-7.5l-6.5-8l-6.5-8.5l-6-8.5l-5.5-8.5l-5-9.5l-4.5-9l-4.5-9.5l-4-9.5l-4-9.5l-3.5-9.5l-3-10l-3-10l-2-10l-2-10l-1-10.5l-0.5-10l0-10l0-10.5l0.5-10l0-10l0.5-10l0.5-10l1-9.5l1.5-10l1.5-10l1.5-9.5l2.5-9.5l2-10l3-9l2.5-9.5l3.5-9.5l3.5-9l3.5-9l4-9l4.5-9l5-8.5l5-8.5l5-8l5.5-8l6-8l6-7.5l6.5-7.5l6.5-7l7-7l7-7l7.5-6.5l7.5-6l7.5-6l8-5.5l8-5.5l8-5l8.5-5l8.5-4.5l8.5-4.5l9-4l9-3.5l9-3.5l9.5-3l9-3l9.5-2l9.5-2l9.5-2l9.5-1l10-1l9.5-0.5l9.5,0l10,0l9.5,0.5l10,0.5l9.5,1.5l9.5,1.5l9.5,1.5l9.5,2l9.5,2.5l9.5,3l9,3l9.5,3.5l9,3.5l9,4l8.5,4.5l8.5,4.5l8.5,5l8.5,5.5l8,5.5l8,6l7.5,6l7.5,6.5l7.5,7l7,7l6.5,7l7,7.5l6,7.5l6.5,8l5.5,8l6,8.5l5,8l5.5,9l4.5,8.5l5,9l4,9.5l4,9l3.5,9.5l3.5,9.5l3,10l3,9.5l2.5,10l2,10l1.5,10.5l1.5,10l1,10.5z" fill="#8cfa00" fill-rule="evenodd" opacity="0.40"/>
</g>
<ellipse cx="988.4" cy="646.0" rx="56" ry="46" fill="url(#hubA)"/>
<ellipse cx="962.0" cy="1028.0" rx="9.5" ry="21.0" fill="#fa3e00" filter="url(#b3)"/>
<ellipse cx="1008.5" cy="1028.0" rx="7.5" ry="21.0" fill="#fa4400" filter="url(#b3)"/>
<path d="M675.2,651.6 L676.8,619.7 M679.8,597.4 L686.8,566.2 M693.6,544.8 L705.8,515.3 M716.1,495.3 L733.2,468.3 M746.8,450.4 L768.3,426.8 M784.8,411.6 L810.1,392.0 M829.0,379.9 L857.4,365.2 M878.2,356.6 L908.7,347.1 M930.6,342.4 L962.4,338.5 M984.8,337.8 L1016.7,339.7 M1038.9,343.0 L1070.0,350.5 M1091.3,357.7 L1120.5,370.7 M1140.1,381.6 L1166.6,399.5 M1184.0,413.7 L1207.0,436.0 M1221.6,452.9 L1240.3,478.9 M1251.9,498.1 L1265.8,526.9 M1273.9,547.9 L1282.7,578.6 M1287.1,600.6 L1290.6,632.4 M1291.2,654.8 L1289.3,686.7 M1286.0,709.0 L1278.7,740.1 M1271.7,761.4 L1259.2,790.9 M1248.7,810.7 L1231.3,837.5 M1217.5,855.2 L1195.8,878.7 M1179.1,893.7 L1153.6,913.0 M1134.6,924.9 L1106.0,939.4 M1085.2,947.7 L1054.6,956.9 M1032.6,961.3 L1000.8,964.9 M978.4,965.4 L946.5,963.2 M924.3,959.6 L893.3,951.7 M872.1,944.3 L843.0,931.0 M823.5,919.9 L797.2,901.7 M780.0,887.4 L757.3,864.9 M742.8,847.7 L724.3,821.6 M713.0,802.2 L699.3,773.3 M691.5,752.3 L682.9,721.5 M678.8,699.4 L675.6,667.6" fill="none" stroke="#000" stroke-width="9.2"/>
<path d="M988.8,640.0 C990.7,637.1 990.7,629.7 991.9,622.3 C993.1,614.9 995.2,606.0 995.8,595.7 C996.5,585.3 996.0,573.5 995.6,560.2 C995.1,546.8 993.8,530.0 993.1,515.7 C992.4,501.4 991.9,488.1 991.4,474.3 C991.0,460.5 990.7,447.1 990.4,432.8 C990.2,418.5 990.0,403.2 989.8,388.4 C989.6,373.6 990.0,351.4 989.0,344.0 C988.1,336.6 985.2,336.6 984.2,344.0 C983.1,351.4 983.2,373.6 982.8,388.4 C982.4,403.2 982.0,418.5 981.6,432.8 C981.1,447.1 980.7,460.4 980.0,474.2 C979.4,488.0 978.6,501.3 977.7,515.6 C976.9,529.9 975.3,546.7 974.7,560.0 C974.1,573.3 973.5,585.2 974.0,595.5 C974.4,605.9 976.4,614.8 977.5,622.2 C978.6,629.6 978.5,637.0 980.4,640.0 C982.3,642.9 986.9,643.0 988.8,640.0Z" fill="#40c020" opacity="0.55"/>
<path d="M987.6,640.0 C989.1,637.1 989.5,629.7 990.7,622.3 C991.9,614.9 994.0,606.0 994.6,595.7 C995.3,585.3 994.8,573.5 994.4,560.1 C993.9,546.8 992.6,530.0 991.9,515.7 C991.2,501.4 990.7,488.1 990.2,474.3 C989.8,460.5 989.5,447.1 989.2,432.8 C989.0,418.5 988.8,403.2 988.6,388.4 C988.4,373.6 988.4,351.4 987.8,344.0 C987.3,336.6 986.0,336.6 985.4,344.0 C984.7,351.4 984.4,373.6 984.0,388.4 C983.6,403.2 983.2,418.5 982.8,432.8 C982.3,447.1 981.9,460.4 981.2,474.2 C980.6,488.0 979.8,501.3 978.9,515.6 C978.1,529.9 976.5,546.7 975.9,560.0 C975.3,573.3 974.7,585.2 975.2,595.5 C975.6,605.9 977.6,614.8 978.7,622.2 C979.8,629.6 980.1,637.0 981.6,640.0 C983.1,642.9 986.1,643.0 987.6,640.0Z" fill="url(#blA0)"/>
<path d="M980.4,652.2 C977.1,652.5 970.1,656.5 963.6,659.5 C957.2,662.5 950.6,665.3 941.7,670.0 C932.8,674.8 921.3,681.2 910.0,687.9 C898.7,694.5 886.3,702.4 873.8,710.0 C861.3,717.7 847.9,725.8 834.9,733.7 C821.9,741.6 809.0,749.5 796.0,757.3 C783.0,765.1 770.0,772.9 757.0,780.7 C744.0,788.4 724.1,799.5 717.9,803.9 C711.7,808.3 712.7,810.2 719.7,807.1 C726.6,803.9 746.3,792.5 759.6,785.2 C772.9,777.9 786.2,770.6 799.5,763.4 C812.8,756.2 826.2,749.0 839.6,741.9 C852.9,734.7 866.7,727.3 879.7,720.4 C892.6,713.5 905.7,706.8 917.1,700.4 C928.6,694.0 940.0,687.4 948.6,682.1 C957.2,676.8 963.0,672.6 968.8,668.5 C974.6,664.5 981.7,660.5 983.6,657.8 C985.5,655.1 983.7,651.9 980.4,652.2Z" fill="#40c020" opacity="0.55"/>
<path d="M981.0,653.3 C977.9,653.9 970.7,657.6 964.2,660.6 C957.8,663.5 951.2,666.4 942.3,671.1 C933.4,675.8 921.9,682.3 910.6,688.9 C899.3,695.6 886.9,703.4 874.4,711.1 C861.8,718.7 848.5,726.9 835.5,734.7 C822.5,742.6 809.6,750.5 796.6,758.4 C783.6,766.2 770.6,773.9 757.6,781.7 C744.6,789.5 724.9,800.9 718.5,805.0 C712.1,809.0 712.4,809.5 719.1,806.0 C725.8,802.5 745.7,791.4 759.0,784.1 C772.3,776.9 785.6,769.6 798.9,762.3 C812.2,755.1 825.6,748.0 839.0,740.8 C852.3,733.6 866.1,726.2 879.1,719.3 C892.0,712.4 905.1,705.7 916.5,699.3 C928.0,693.0 939.4,686.4 948.0,681.1 C956.6,675.8 962.4,671.6 968.2,667.5 C974.0,663.4 980.9,659.1 983.0,656.7 C985.1,654.4 984.1,652.6 981.0,653.3Z" fill="url(#blA1)"/>
<path d="M988.4,657.8 C990.4,660.5 997.5,664.5 1003.4,668.5 C1009.4,672.5 1015.2,676.7 1023.9,682.0 C1032.6,687.3 1044.1,693.8 1055.8,700.1 C1067.4,706.5 1080.6,713.1 1093.7,720.0 C1106.8,726.9 1120.8,734.2 1134.3,741.3 C1147.8,748.4 1161.3,755.5 1174.8,762.7 C1188.3,769.9 1201.8,777.1 1215.3,784.3 C1228.7,791.6 1248.6,803.0 1255.6,806.1 C1262.6,809.2 1263.7,807.3 1257.4,802.9 C1251.1,798.6 1231.0,787.5 1217.8,779.8 C1204.6,772.1 1191.4,764.4 1178.3,756.6 C1165.1,748.8 1152.0,741.0 1138.9,733.1 C1125.7,725.3 1112.2,717.2 1099.5,709.6 C1086.8,702.0 1074.3,694.2 1062.8,687.6 C1051.3,681.0 1039.8,674.6 1030.7,669.9 C1021.7,665.2 1015.1,662.4 1008.5,659.4 C1002.0,656.5 994.9,652.5 991.6,652.2 C988.2,651.9 986.5,655.1 988.4,657.8Z" fill="#40c020" opacity="0.55"/>
<path d="M989.0,656.7 C991.2,659.1 998.1,663.4 1004.0,667.5 C1009.9,671.5 1015.8,675.7 1024.5,680.9 C1033.2,686.2 1044.7,692.8 1056.4,699.1 C1068.0,705.4 1081.2,712.1 1094.3,718.9 C1107.4,725.8 1121.3,733.2 1134.9,740.3 C1148.4,747.4 1161.9,754.5 1175.4,761.7 C1188.9,768.8 1202.4,776.1 1215.8,783.3 C1229.3,790.5 1249.4,801.6 1256.2,805.0 C1263.0,808.5 1263.3,808.0 1256.8,804.0 C1250.3,799.9 1230.4,788.6 1217.2,780.9 C1204.0,773.1 1190.8,765.4 1177.7,757.6 C1164.5,749.9 1151.4,742.0 1138.3,734.2 C1125.2,726.3 1111.6,718.2 1098.9,710.7 C1086.2,703.1 1073.7,695.3 1062.2,688.6 C1050.8,682.0 1039.2,675.6 1030.1,670.9 C1021.1,666.2 1014.5,663.4 1007.9,660.5 C1001.4,657.5 994.1,653.9 991.0,653.3 C987.8,652.6 986.8,654.4 989.0,656.7Z" fill="url(#blA2)"/>
<path d="M977.2,655.0 L996.4,655.0 L1000.4,1042.8 L973.6,1042.8 Z" fill="url(#twA)"/>
<path d="M964.5,648.4 H1006.3 M985.4,624.4 V672.4" stroke="#000" stroke-width="8.8" fill="none"/>
</g>
<g clip-path="url(#clipB)">
<rect x="380.5" y="1140.3" width="1219.7" height="1004.3" fill="#fa2400"/>
<path d="M375.5,1311.1 C376.3,1311.1 369.7,1310.2 380.5,1311.1 C391.3,1312.0 418.6,1314.5 440.3,1316.3 C462.0,1318.0 487.2,1319.8 510.6,1321.6 C534.0,1323.4 560.4,1324.9 580.9,1326.9 C601.4,1329.0 616.1,1330.4 633.7,1333.9 C651.3,1337.4 671.8,1342.7 686.4,1348.0 C701.0,1353.3 711.6,1359.8 721.6,1365.6 C731.6,1371.4 740.4,1377.2 746.2,1383.1 C752.1,1388.9 754.8,1394.2 756.7,1400.7 C758.6,1407.2 758.5,1415.3 757.4,1421.8 C756.3,1428.2 752.3,1433.5 750.4,1439.4 C748.5,1445.3 746.6,1452.0 746.2,1457.0 C745.9,1462.0 746.7,1467.1 748.3,1469.3 C749.9,1471.5 751.4,1471.8 755.7,1470.3 C760.0,1468.8 765.3,1464.8 774.3,1460.5 C783.3,1456.2 797.8,1449.4 809.5,1444.7 C821.2,1440.0 832.9,1435.8 844.6,1432.3 C856.3,1428.8 865.1,1426.2 879.8,1423.6 C894.4,1421.0 914.9,1418.1 932.5,1416.5 C950.1,1414.9 969.8,1414.3 985.2,1414.1 C1000.7,1413.9 1009.8,1413.9 1025.2,1415.5 C1040.7,1417.1 1060.3,1419.6 1077.9,1423.6 C1095.5,1427.6 1114.8,1433.2 1130.6,1439.4 C1146.4,1445.6 1159.9,1452.3 1172.8,1460.5 C1185.7,1468.7 1197.5,1479.2 1208.0,1488.6 C1218.5,1498.0 1227.9,1507.3 1236.1,1516.7 C1244.3,1526.1 1251.9,1538.3 1257.2,1544.9 C1262.5,1551.5 1264.5,1553.9 1267.7,1556.1 C1270.9,1558.3 1274.4,1558.9 1276.5,1558.2 C1278.6,1557.5 1280.1,1554.1 1280.4,1551.9 C1280.7,1549.7 1281.0,1549.6 1278.3,1544.9 C1275.6,1540.2 1271.2,1534.3 1264.2,1523.8 C1257.2,1513.2 1245.5,1496.8 1236.1,1481.6 C1226.7,1466.3 1215.0,1445.8 1208.0,1432.3 C1201.0,1418.8 1195.6,1407.8 1193.9,1400.7 C1192.2,1393.6 1194.6,1393.6 1198.1,1389.5 C1201.6,1385.4 1205.7,1381.3 1215.0,1376.1 C1224.3,1370.9 1238.5,1363.8 1253.7,1358.5 C1268.9,1353.2 1285.9,1348.6 1306.4,1344.5 C1326.9,1340.4 1353.3,1336.8 1376.7,1333.9 C1400.1,1331.0 1423.5,1329.2 1447.0,1326.9 C1470.5,1324.6 1491.9,1322.2 1517.4,1319.8 C1542.9,1317.4 1585.4,1314.0 1600.0,1312.8 C1614.6,1311.6 1604.3,1312.8 1605.2,1312.8 L1605.2,2149.6 L375.5,2149.6 Z" fill="#fa4600"/>
<path d="M375.5,1639.3 C376.3,1639.3 373.8,1638.6 380.5,1639.3 C387.2,1640.0 399.9,1639.3 415.7,1643.5 C431.5,1647.7 456.8,1658.1 475.5,1664.6 C494.2,1671.0 513.0,1676.3 528.2,1682.2 C543.4,1688.1 556.1,1693.7 566.9,1699.8 C577.7,1705.9 587.4,1711.5 593.2,1719.1 C599.1,1726.7 598.8,1735.2 602.0,1745.5 C605.2,1755.8 608.5,1770.0 612.6,1780.6 C616.7,1791.1 621.3,1799.4 626.6,1808.8 C631.9,1818.2 639.4,1828.0 644.2,1836.9 C649.0,1845.8 653.0,1858.7 655.5,1862.2 C658.0,1865.7 658.5,1862.2 659.0,1858.0 C659.5,1853.8 658.7,1846.9 658.3,1836.9 C657.9,1826.9 657.0,1813.4 656.5,1798.2 C656.0,1783.0 655.5,1760.2 655.5,1745.5 C655.5,1730.8 655.8,1722.0 656.5,1710.3 C657.2,1698.6 657.0,1685.5 660.0,1675.2 C663.0,1664.9 669.3,1657.2 674.3,1648.6 C679.3,1640.0 684.9,1632.9 690.0,1623.4 C695.1,1614.0 702.3,1597.2 704.8,1591.9 L726.2,1604.6 L988.2,1760.3 L988.2,2149.6 L375.5,2149.6Z" fill="#fa6800"/>
<path d="M1605.2,1645.3 C1604.3,1645.3 1608.8,1643.8 1600.0,1645.3 C1591.2,1646.8 1569.2,1650.3 1552.5,1654.1 C1535.8,1657.9 1517.4,1661.7 1499.8,1668.1 C1482.2,1674.5 1462.8,1683.9 1447.0,1692.7 C1431.2,1701.5 1416.6,1712.1 1404.9,1720.9 C1393.2,1729.7 1384.0,1738.3 1376.7,1745.5 C1369.4,1752.7 1366.2,1761.8 1360.9,1763.8 C1355.6,1765.8 1348.9,1763.8 1345.1,1757.8 C1341.3,1751.8 1340.1,1738.8 1338.1,1727.9 C1336.0,1717.1 1334.6,1704.4 1332.8,1692.7 C1331.0,1681.0 1331.4,1667.8 1327.5,1657.6 C1323.6,1647.4 1315.7,1639.8 1309.1,1631.5 C1302.6,1623.2 1294.6,1616.9 1288.2,1607.9 C1281.7,1598.8 1273.5,1582.2 1270.5,1577.1 L1244.0,1594.2 L988.2,1760.3 L988.2,2149.6 L1605.2,2149.6Z" fill="#fa6800"/>
<path d="M1329,1760.5l-0.5,12l-0.5,12l-1,12l-1.5,12l-1.5,12l-2.5,12l-2.5,11.5l-3,12l-3,11.5l-4,11.5l-4,11.5l-5,11l-4.5,11l-5.5,11l-5.5,10.5l-6.5,10.5l-6,10l-7,10l-7,10l-7.5,9.5l-8,9l-8,9l-8.5,8.5l-9,8l-9,8l-9,7.5l-10,7.5l-9.5,6.5l-10.5,6.5l-10,6l-10.5,6l-11,5l-10.5,5l-11.5,4.5l-11,4l-11.5,4l-11,3.5l-11,4.5l-11.5,5l-2.5,1.5l-3,1l-3,1l-2.5,1l-3,1l-3,0.5l-3,0.5l-3,0.5l-3,1l-3,1.5l-2.5,1.5l-3,2.5l-3,2l-3,2l-3,1.5l-3,1.5l-3,0.5l-3,5l-2.5,5.5l-3.5,4l-3,0l-3.5,0l-3,0.5l-3.5,0l-3,0l-3.5,0.5l-3,0l-3.5,0l-3-1.5l-3-2l-3.5-0.5l-3-1.5l-3-2.5l-3-3l-3-3l-2.5-3l-3-1.5l-3-0.5l-3-1l-3-2l-3-2l-2.5-2.5l-3-2.5l-2.5-2.5l-3-1.5l-2.5-1l-3-0.5l-3-1l-11-5.5l-11-5l-11.5-4l-11-4.5l-10.5-4.5l-11-5l-11-4.5l-10.5-5.5l-10.5-6l-10-6l-10-6.5l-9.5-7l-9.5-7l-9.5-7.5l-8.5-8l-9-8.5l-8-8.5l-7.5-9l-7.5-9.5l-7-9.5l-6.5-10l-6.5-10l-6.5-10l-5.5-10.5l-6-10.5l-5-10.5l-4.5-11l-4-11.5l-3.5-11l-3-11.5l-2.5-11.5l-2.5-11.5l-2-12l-1-11.5l-1.5-11.5l-1-12l-0.5-11.5l-0.5-11.5l0-11.5l0.5-12l0.5-11.5l0.5-11.5l1.5-11.5l1.5-11.5l2-11.5l2-11.5l3-11.5l3-11.5l3.5-11l3.5-11l4-11l4.5-11l5-10.5l5.5-10.5l5.5-10.5l6.5-10l6-9.5l7-10l7.5-9l7.5-9l7.5-9l8.5-8l8.5-8l9-8l9-7.5l9-7l9.5-7l10-6.5l10-6l10-6l10.5-5l10.5-5l10.5-5l11-4l11-4l11-3.5l11.5-3l11-3l11.5-2l11.5-2l12-1.5l11.5-1l11.5-0.5l11.5-0.5l12,0l11.5,1l11.5,0.5l12,1.5l11.5,1.5l11.5,2.5l11.5,2l11,3l11.5,3l11,4l11,4l11,4l11,5l10.5,5l10.5,5.5l10,6l10,6.5l10,7l9.5,7l9.5,7.5l8.5,7.5l9,8.5l8.5,8.5l8,8.5l7.5,9l7.5,9.5l7.5,9.5l6.5,9.5l6.5,10l6.5,10.5l6,10.5l5.5,10.5l5,11l4.5,11l4.5,11l4,11.5l3.5,11.5l3.5,11.5l2.5,12l2.5,11.5l2,12l1.5,12l1,12l0.5,12z" fill="#fa6800" filter="url(#b2)"/>
<path d="M375.5,1843.9 C376.3,1843.9 369.7,1842.7 380.5,1843.9 C391.3,1845.1 418.6,1847.4 440.3,1850.9 C462.0,1854.4 487.2,1858.5 510.6,1865.0 C534.0,1871.5 557.5,1879.6 580.9,1889.6 C604.3,1899.6 633.7,1914.8 651.3,1924.8 C668.9,1934.8 679.0,1943.7 686.4,1949.4 C693.8,1955.1 694.0,1959.2 695.9,1959.2 C697.8,1959.2 698.4,1955.7 697.7,1949.4 C697.0,1943.1 694.2,1930.7 691.7,1921.3 C689.2,1911.9 685.5,1901.9 682.9,1893.1 C680.3,1884.3 677.7,1877.5 675.9,1868.5 C674.1,1859.5 672.6,1849.0 672.0,1839.3 C671.5,1829.5 673.0,1820.5 672.7,1810.0 C672.5,1799.4 671.0,1781.7 670.6,1776.1 L685.2,1775.4 L988.2,1760.3 L988.2,2149.6 L375.5,2149.6Z" fill="#fa8604"/>
<path d="M1605.2,1847.4 C1604.3,1847.4 1608.8,1846.2 1600.0,1847.4 C1591.2,1848.6 1569.2,1851.0 1552.5,1854.5 C1535.8,1858.0 1517.4,1862.7 1499.8,1868.5 C1482.2,1874.3 1464.6,1882.0 1447.0,1889.6 C1429.4,1897.2 1411.9,1904.8 1394.3,1914.2 C1376.7,1923.6 1359.2,1934.8 1341.6,1945.9 C1324.0,1957.0 1306.4,1969.9 1288.8,1981.0 C1271.2,1992.1 1250.0,2004.2 1236.1,2012.7 C1222.2,2021.2 1210.8,2030.2 1205.2,2032.3 C1199.6,2034.3 1198.7,2031.8 1202.7,2025.0 C1206.7,2018.2 1220.0,2003.0 1229.1,1991.6 C1238.2,1980.2 1249.0,1968.1 1257.2,1956.4 C1265.4,1944.7 1272.6,1931.6 1278.3,1921.3 C1284.0,1911.0 1287.3,1903.8 1291.2,1894.9 C1295.0,1885.9 1298.3,1877.7 1301.5,1867.5 C1304.8,1857.3 1309.1,1839.2 1310.7,1833.6 L1284.3,1827.6 L988.2,1760.3 L988.2,2149.6 L1605.2,2149.6Z" fill="#fa8604"/>
<path d="M1322.5,1760.5l-0.5,11.5l-0.5,12l-1,12l-1.5,11.5l-1.5,12l-2,11.5l-3,11.5l-2.5,11.5l-3.5,11.5l-3.5,11l-4.5,11.5l-4.5,11l-4.5,10.5l-5.5,10.5l-5.5,10.5l-6,10.5l-6,10l-7,9.5l-7,10l-7,9l-8,9l-8,9l-8,8l-8.5,8.5l-9,7.5l-9,7.5l-9.5,7l-10,7l-9.5,6l-10.5,6l-10,6l-10.5,5l-11,5l-10.5,4.5l-11,4l-11,3.5l-11,3.5l-11,5l-11,5l-3,1l-2.5,1l-3,1.5l-2.5,0.5l-3,1l-3,1l-3,0.5l-3,0.5l-2.5,0.5l-3,1.5l-3,2l-2.5,2l-3,2l-3,2l-3,2l-3,1l-3,0.5l-2.5,5.5l-3,5.5l-3,3.5l-3,0l-3.5,0.5l-3,0l-3.5,0.5l-3,0l-3,0l-3.5,0l-3,0l-3.5-1l-3-2l-3-1l-3-1.5l-3-2l-3-3l-3-3.5l-2.5-2.5l-3-1.5l-3-1l-3-1l-3-1.5l-2.5-2.5l-2.5-2.5l-3-2.5l-2.5-2l-2.5-1.5l-3-1l-3-1l-3-0.5l-10.5-5.5l-11-5.5l-11-3.5l-10.5-4.5l-11-5l-10.5-4.5l-10.5-5l-10.5-5l-10-6l-10-6l-10-6.5l-9.5-6.5l-9-7.5l-9-7l-9-8l-8-8l-8-8.5l-7.5-9l-7.5-9.5l-7-9.5l-6.5-9.5l-6-9.5l-6.5-10l-5.5-10l-5.5-10.5l-5-10.5l-4.5-11l-4-11l-3.5-11l-3-11l-2.5-11.5l-2-11l-2-11.5l-1.5-11.5l-1-11.5l-1-11.5l-0.5-11.5l-0.5-11.5l0-11l0-11.5l0.5-11.5l1-11.5l1-11.5l2-11l1.5-11.5l2.5-11l2.5-11.5l3-11l3.5-11l4-10.5l4-11l4.5-10.5l5-10.5l5-10l5.5-10l6-10l6.5-9.5l6.5-9.5l7.5-9l7-9l8-8.5l8-8l8.5-8l8.5-7.5l8.5-7.5l9.5-7l9-6.5l9.5-6.5l10-6l10-5.5l10-5.5l10-5l10.5-4.5l11-4.5l10.5-3.5l11-3.5l11-3l11-3l11.5-2l11-2l11.5-1.5l11.5-1l11.5-0.5l11-0.5l11.5,0.5l11.5,0.5l11.5,1l11.5,1l11,2l11.5,2l11,2l11.5,3l11,3l11,4l10.5,3.5l11,4.5l10.5,5l10,5l10.5,5.5l10,5.5l9.5,6.5l10,6.5l9,7l9,7.5l9,7.5l8.5,8l8,8.5l8,8.5l7.5,8.5l7.5,9.5l7,9l7,9.5l6,10l6.5,10l5.5,10l5.5,10.5l5,11l5,10.5l4,11l4,11l3.5,11.5l3.5,11.5l2.5,11.5l2.5,11.5l2,11.5l1.5,12l1,11.5l0.5,12z" fill="#fa8604" filter="url(#b2)"/>
<path d="M375.5,1981.0 C376.3,1981.0 369.7,1980.7 380.5,1981.0 C391.3,1981.3 418.6,1981.6 440.3,1982.8 C462.0,1984.0 487.2,1986.0 510.6,1988.1 C534.0,1990.1 557.5,1991.6 580.9,1995.1 C604.3,1998.6 627.8,2003.2 651.3,2009.1 C674.8,2014.9 698.2,2022.6 721.6,2030.2 C745.0,2037.8 771.4,2047.9 791.9,2054.9 C812.4,2061.9 830.0,2067.6 844.6,2072.4 C859.2,2077.2 871.5,2081.0 879.8,2083.7 C888.1,2086.4 893.3,2089.3 894.5,2088.6 C895.7,2087.9 893.3,2084.2 886.8,2079.5 C880.2,2074.8 865.2,2066.0 855.2,2060.1 C845.2,2054.2 835.7,2049.5 827.0,2044.3 C818.3,2039.1 810.9,2034.3 803.2,2028.8 C795.5,2023.3 788.7,2018.2 780.9,2011.4 C773.1,2004.6 760.4,1991.9 756.2,1988.0 L769.8,1974.7 L988.2,1760.3 L988.2,2149.6 L375.5,2149.6Z" fill="#faa606"/>
<path d="M1605.2,1984.5 C1604.3,1984.5 1608.8,1984.2 1600.0,1984.5 C1591.2,1984.8 1572.1,1984.5 1552.5,1986.3 C1532.9,1988.1 1505.6,1991.3 1482.2,1995.1 C1458.8,1998.9 1435.3,2003.8 1411.9,2009.1 C1388.5,2014.4 1365.0,2020.2 1341.6,2026.7 C1318.2,2033.2 1294.8,2040.8 1271.3,2047.8 C1247.8,2054.8 1224.4,2062.5 1200.9,2068.9 C1177.5,2075.3 1151.1,2081.8 1130.6,2086.5 C1110.1,2091.2 1091.5,2093.9 1077.9,2097.0 C1064.3,2100.1 1052.0,2105.4 1049.1,2104.8 C1046.2,2104.2 1052.6,2098.3 1060.3,2093.5 C1068.0,2088.7 1085.3,2080.8 1095.5,2075.9 C1105.7,2071.0 1113.1,2068.2 1121.7,2063.9 C1130.2,2059.6 1137.7,2055.5 1146.8,2050.1 C1155.8,2044.8 1171.0,2035.0 1175.9,2031.9 L1162.7,2013.0 L988.2,1760.3 L988.2,2149.6 L1605.2,2149.6Z" fill="#faa606"/>
<path d="M1317.5,1760.5l-0.5,11.5l-0.5,11.5l-1,12l-1,11.5l-2,11.5l-2,11.5l-2.5,11.5l-3,11l-3,11.5l-4,11l-4,11l-4.5,11l-4.5,10.5l-5,10.5l-5.5,10l-6,10.5l-6.5,9.5l-6.5,10l-7,9l-7,9.5l-7.5,9l-8,8.5l-8,8l-8.5,8l-9,8l-9,7l-9,7l-9.5,7l-10,6l-9.5,6l-10.5,5.5l-10,5.5l-10.5,4.5l-11,4.5l-10.5,4l-11,4l-11,3.5l-10.5,4.5l-11,5l-2.5,1.5l-3,1l-2.5,1l-3,1l-3,1l-2.5,0.5l-3,0.5l-3,0.5l-3,1l-2.5,1.5l-3,1.5l-2.5,2.5l-3,2l-2.5,2l-3,1.5l-3,1.5l-3,0.5l-3,5l-2.5,5.5l-3,4l-3.5,0l-3,0l-3,0.5l-3.5,0l-3,0l-3,0.5l-3.5,0l-3,0l-3-1.5l-3-2l-3-0.5l-3.5-1.5l-2.5-2.5l-3-3l-3-3l-2.5-3l-3-1.5l-3-0.5l-3-1l-2.5-2l-3-2l-2.5-2.5l-2.5-2.5l-2.5-2.5l-3-1.5l-2.5-1l-3-0.5l-3-1l-10.5-5.5l-10.5-5.5l-11-3.5l-10.5-4.5l-10.5-4.5l-10.5-4.5l-10.5-5l-10-5.5l-10-5.5l-10-6l-9.5-6.5l-9.5-6.5l-9-7l-9-7.5l-8.5-7.5l-8-8l-8-8.5l-7.5-9l-7-9l-7-9.5l-6.5-9.5l-6-9.5l-6-9.5l-6-10l-5-10.5l-5-10l-4.5-11l-4-10.5l-3.5-11l-3-11l-2.5-11l-2-11.5l-2-11l-1.5-11.5l-1-11l-1-11.5l-0.5-11l0-11.5l-0.5-11l0.5-11.5l0.5-11l0.5-11.5l1.5-11l1.5-11.5l2-11l2-11l3-11l3-11l3-10.5l4-10.5l4-11l4.5-10l5-10.5l5-10l5.5-10l6-9.5l6.5-9.5l6.5-9l7-9l7-8.5l8-8.5l7.5-8l8.5-8l8.5-7.5l8.5-7l9-7l9-6.5l9.5-6.5l9.5-6l10-5.5l9.5-5l10.5-5l10-4.5l10.5-4.5l10.5-4l11-3l10.5-3.5l11-2.5l11-2l11.5-2l11-1.5l11-1l11.5-0.5l11-0.5l11.5,0.5l11,0.5l11.5,1l11,1l11.5,1.5l11,2l11,2.5l11,3l11,3l10.5,3.5l10.5,4l10.5,4.5l10.5,4.5l10.5,5l10,5.5l9.5,5.5l9.5,6.5l9.5,6.5l9.5,6.5l8.5,7.5l9,7.5l8,8l8,8l8,8.5l7.5,8.5l7,9l7,9.5l7,9l6,10l6,9.5l6,10l5.5,10.5l5,10.5l4.5,10.5l4.5,11l3.5,10.5l4,11.5l3,11l2.5,11.5l2.5,11l2,12l1.5,11.5l1,11.5l0.5,11.5z" fill="#faa606" filter="url(#b2)"/>
<path d="M375.5,2061.9 C376.3,2061.9 369.7,2061.9 380.5,2061.9 C391.3,2061.9 418.6,2061.3 440.3,2061.9 C462.0,2062.5 487.2,2063.7 510.6,2065.4 C534.0,2067.2 557.5,2069.5 580.9,2072.4 C604.3,2075.3 627.8,2078.9 651.3,2083.0 C674.8,2087.1 698.2,2092.3 721.6,2097.0 C745.0,2101.7 768.5,2106.7 791.9,2111.1 C815.3,2115.5 841.7,2119.9 862.2,2123.4 C882.7,2126.9 900.8,2128.4 914.9,2132.2 C929.0,2136.0 941.3,2144.0 946.6,2146.3 L946.6,2149.6 L375.5,2149.6Z" fill="#fac604"/>
<path d="M1605.2,2065.4 C1604.3,2065.4 1614.6,2064.8 1600.0,2065.4 C1585.4,2066.0 1542.9,2067.2 1517.4,2068.9 C1491.9,2070.7 1470.5,2073.0 1447.0,2075.9 C1423.5,2078.8 1400.1,2082.4 1376.7,2086.5 C1353.3,2090.6 1329.8,2095.9 1306.4,2100.6 C1283.0,2105.3 1259.5,2109.9 1236.1,2114.6 C1212.7,2119.3 1186.3,2124.6 1165.8,2128.7 C1145.3,2132.8 1127.7,2136.3 1113.0,2139.2 C1098.3,2142.1 1083.8,2145.1 1077.9,2146.3 L1077.9,2149.6 L1605.2,2149.6Z" fill="#fac604"/>
<path d="M1313.5,1760.5l0,11.5l-0.5,11.5l-1,11.5l-1.5,11.5l-1.5,11.5l-2.5,11l-2.5,11.5l-2.5,11l-3.5,11l-3.5,11l-4,11l-4.5,10.5l-4.5,10.5l-5,10.5l-5.5,10.5l-6,10l-6,9.5l-6.5,9.5l-7,9.5l-7,9l-7.5,8.5l-7.5,8.5l-8.5,8.5l-8,8l-8.5,7.5l-9,7l-9.5,7l-9,6.5l-9.5,6.5l-10,6l-10,5.5l-10.5,5l-10,5l-10.5,4.5l-11,4l-10.5,3.5l-11,3.5l-10.5,4.5l-10.5,5l-3,1.5l-2.5,1l-3,1l-2.5,1l-3,1l-2.5,0.5l-3,0.5l-3,0.5l-2.5,1l-3,1.5l-2.5,2l-3,2l-2.5,2l-3,2l-3,2l-3,1l-3,0.5l-2.5,5.5l-3,5l-3,4l-3,0l-3,0.5l-3,0l-3.5,0l-3,0.5l-3,0l-3,0l-3.5,0l-3-1l-3-2.5l-3-0.5l-3-1.5l-3-2.5l-3-3l-2.5-3l-3-2.5l-2.5-2l-3-0.5l-3-1l-2.5-2l-3-2l-2.5-2.5l-2.5-2.5l-2.5-2l-3-2l-2.5-1l-3-0.5l-2.5-1l-10.5-5.5l-10.5-5l-11-3.5l-10.5-4.5l-10.5-5l-10-4.5l-10.5-5l-10-5l-10-5.5l-9.5-6l-9.5-6.5l-9-7l-9-6.5l-9-7.5l-8.5-7.5l-8-8l-8-8.5l-7-8.5l-7-9l-7-9l-6.5-9.5l-6-9.5l-6-10l-5.5-9.5l-5.5-10l-4.5-10.5l-4.5-10.5l-4-10.5l-3.5-11l-3-10.5l-2.5-11l-2-11.5l-2-11l-1-11l-1.5-11l-0.5-11.5l-0.5-11l-0.5-11l0-11l0-11.5l0.5-11l1-11l1-11l1.5-11l2-11l2.5-11l2.5-11l3-10.5l3.5-10.5l3.5-11l4-10l4.5-10.5l5-10l5-10l5.5-9.5l6-9.5l6-9.5l6.5-9l7-9l7.5-8.5l7.5-8l7.5-8l8-7.5l8.5-7.5l8.5-7.5l9-6.5l9-6.5l9-6.5l9.5-6l9.5-5.5l10-5l10-5l10-4.5l10.5-4l10.5-4l10.5-3.5l10.5-3l11-2.5l11-2.5l11-1.5l11-1.5l11-1l11-1l11,0l11.5,0l11,0.5l11,1l11,1.5l11,1.5l11,2l11,2.5l11,2.5l10.5,3.5l10.5,3.5l10.5,3.5l10.5,4.5l10.5,4.5l10,5l9.5,5.5l10,5.5l9.5,6.5l9,6l9,7l9,7l8.5,7.5l8,8l8,8l8,8.5l7.5,8.5l7,8.5l7,9l6.5,9.5l6,9.5l6,9.5l6,10l5,10l5,10.5l5,10.5l4,10.5l4,11l3.5,11l3,11l3,11l2,11.5l2,11.5l1.5,11l1,11.5l1,12z" fill="#fac604" filter="url(#b2)"/>
<path d="M375.5,2107.6 C376.3,2107.6 369.7,2107.3 380.5,2107.6 C391.3,2107.9 418.6,2108.4 440.3,2109.3 C462.0,2110.2 487.2,2111.4 510.6,2112.9 C534.0,2114.4 557.5,2115.8 580.9,2118.1 C604.3,2120.4 627.8,2124.0 651.3,2126.9 C674.8,2129.8 701.1,2132.5 721.6,2135.7 C742.1,2138.9 765.5,2144.5 774.3,2146.3 L774.3,2149.6 L375.5,2149.6Z" fill="#fae408"/>
<path d="M1605.2,2104.1 C1604.3,2104.1 1614.6,2103.2 1600.0,2104.1 C1585.4,2105.0 1542.9,2107.2 1517.4,2109.3 C1491.9,2111.4 1470.5,2113.5 1447.0,2116.4 C1423.5,2119.3 1397.2,2123.7 1376.7,2126.9 C1356.2,2130.1 1338.7,2132.5 1324.0,2135.7 C1309.3,2138.9 1294.7,2144.5 1288.8,2146.3 L1288.8,2149.6 L1605.2,2149.6Z" fill="#fae408"/>
<path d="M1309.5,1760.5l0,11l-0.5,11.5l-1,11.5l-1.5,11.5l-1.5,11l-2,11.5l-2.5,11l-3,11l-3,11l-3.5,11l-4,10.5l-4.5,10.5l-4.5,10.5l-5,10.5l-5.5,10l-5.5,9.5l-6,10l-6.5,9.5l-7,9l-7,9l-7.5,8.5l-7.5,8.5l-8,8l-8,8l-8.5,7.5l-9,7l-9,7l-9.5,6.5l-9,6l-10,6l-10,5.5l-10,5l-10,5l-10.5,4.5l-10.5,4l-10.5,3.5l-11,3.5l-10.5,5l-10.5,5l-2.5,1l-2.5,1.5l-3,1l-2.5,1l-3,0.5l-2.5,1l-3,0.5l-3,0.5l-2.5,1l-3,1l-2.5,2l-3,2l-2.5,2.5l-3,2l-2.5,1.5l-3,1l-3,1l-2.5,5l-3,5.5l-3,3.5l-3,0.5l-3,0l-3,0l-3.5,0.5l-3,0l-3,0l-3,0l-3,0l-3.5-1l-3-2l-3-1l-3-1l-2.5-2.5l-3-3l-2.5-3.5l-3-2.5l-3-1.5l-2.5-1l-3-1l-3-1.5l-2.5-2.5l-2.5-2.5l-2.5-2.5l-2.5-2l-2.5-1.5l-3-1l-2.5-1l-3-0.5l-10.5-5.5l-10-5.5l-11-3.5l-10-4.5l-10.5-5l-10-4.5l-10.5-4.5l-10-5.5l-9.5-5.5l-9.5-6l-9.5-6l-9-7l-9-6.5l-8.5-7.5l-8.5-7.5l-8-8l-7.5-8l-7.5-8.5l-7-9l-6.5-9l-6-9.5l-6.5-9l-5.5-10l-6-9.5l-5-10l-5-10l-4-10.5l-4-10.5l-3.5-10.5l-3-11l-2.5-10.5l-2-11l-1.5-11l-1.5-11l-1-11l-1-11l-0.5-11l-0.5-11l0-11l0-11l0.5-11l1-11l1.5-11l1.5-11l2-11l2-10.5l2.5-11l3-10.5l3.5-10.5l4-10.5l4-10l4-10l5-10l5-10l5.5-9.5l6-9.5l6-9l6.5-9l7-8.5l7-8.5l7.5-8l7.5-8l8-7.5l8-7.5l8.5-7l9-6.5l8.5-6.5l9.5-6.5l9-5.5l9.5-5.5l10-5.5l9.5-5l10-4.5l10.5-4l10-3.5l10.5-3.5l10.5-3l11-3l10.5-2l11-2l11-1.5l10.5-1l11-0.5l11,0l11,0l11,0.5l11,1l11,1l11,2l11,2l10.5,2.5l10.5,2.5l11,3l10.5,3.5l10,4l10.5,4l10,5l10,4.5l9.5,5.5l9.5,5.5l9.5,6l9,6.5l9,7l9,7l8,7l8.5,8l7.5,8l8,8l7,8.5l7,8.5l7,9l6.5,9.5l6,9l6,10l5.5,9.5l5.5,10l5,10l4.5,10.5l4.5,10.5l3.5,10.5l3.5,11l3.5,11l2.5,11l2.5,11l2,11.5l1.5,11l1,11.5l0.5,11.5z" fill="#fae408" filter="url(#b2)"/>
<ellipse cx="955.0" cy="2136.0" rx="22.0" ry="18.0" fill="#fa8604" filter="url(#b4)"/>
<ellipse cx="1026.0" cy="2136.0" rx="22.0" ry="18.0" fill="#fa8604" filter="url(#b4)"/>
<path d="M1302,1760.5l0,11l-0.5,11l-1,11l-1.5,11.5l-1.5,11l-2,11l-2.5,10.5l-2.5,11l-3.5,10.5l-3,11l-4,10l-4.5,10.5l-4.5,10l-4.5,10l-5.5,10l-5.5,9.5l-6,9.5l-6.5,9.5l-6.5,9l-6.5,8.5l-7.5,8.5l-7.5,8l-7.5,8l-8.5,8l-8,7l-8.5,7l-9,7l-9,6.5l-9,6l-9.5,5.5l-9.5,5.5l-10,5l-10,5l-10,4.5l-10.5,4l-10.5,3.5l-10.5,3.5l-10,4.5l-10.5,5l-2.5,1.5l-2.5,1l-2.5,1l-3,1l-2.5,1l-3,0.5l-2.5,0.5l-3,0.5l-2.5,1l-2.5,1.5l-3,2l-2.5,2l-2.5,2l-3,2l-2.5,1.5l-3,1.5l-3,0.5l-2.5,5l-3,5.5l-2.5,4l-3,0l-3,0.5l-3.5,0l-3,0l-3,0.5l-3,0l-3,0l-3,0l-3-1.5l-3-2l-3-0.5l-3-1.5l-2.5-2.5l-3-3l-2.5-3l-3-2.5l-2.5-2l-3-0.5l-2.5-1l-3-2l-2.5-2l-2.5-2.5l-2.5-2.5l-2.5-2.5l-2.5-1.5l-2.5-1l-3-0.5l-2.5-1l-10-5.5l-10.5-5l-10-3.5l-10.5-4.5l-9.5-5l-10.5-4.5l-9.5-4.5l-10-5.5l-9.5-5.5l-9-5.5l-9-6.5l-9-6.5l-8.5-6.5l-8.5-7l-8.5-7.5l-7.5-7.5l-7.5-8.5l-7-8l-7-9l-6.5-8.5l-6-9l-6-9.5l-5.5-9.5l-5.5-9l-5.5-10l-4.5-10l-4.5-10l-3.5-10l-3.5-10.5l-3-10.5l-2-11l-2.5-10.5l-1.5-10.5l-1.5-11l-1-10.5l-0.5-11l-1-10.5l0-11l0-10.5l0-11l0.5-10.5l1-11l1-10.5l1.5-10.5l2-11l2.5-10.5l2.5-10l3-10.5l3.5-10.5l3.5-10l4-10l4.5-9.5l4.5-10l5-9.5l5.5-9l5.5-9.5l6-8.5l6.5-9l6.5-8.5l7-8l7-8l7.5-7.5l8-7.5l8-7l8-7l8.5-6.5l8.5-6.5l9-6l9-5.5l9.5-5.5l9.5-5.5l9.5-4.5l9.5-4.5l10-4l10-4l10-3l10.5-3l10.5-3l10.5-2l10.5-2l10.5-1.5l11-1l10.5-0.5l10.5,0l11,0l10.5,0.5l11,1l10.5,1.5l10.5,1.5l10.5,2l10.5,2.5l10.5,2.5l10.5,3l10,3.5l10,4l10,4l10,4.5l9.5,5l9.5,5l9.5,5.5l9,6l9,6l8.5,6.5l8.5,7l8,7.5l8,7.5l8,7.5l7,8l7.5,8.5l6.5,8.5l7,8.5l6,9l6.5,9l5.5,9.5l5.5,9.5l5.5,9.5l4.5,10l4.5,10l4.5,10l4,10.5l3,10.5l3.5,11l2.5,10.5l2.5,11l1.5,11l1.5,11l1,11l1,11z" fill="#8cfa00"/>
<g clip-path="url(#cinB)">
<path d="M735.0,1773.7 C733.3,1751.4 735.8,1727.2 740.0,1704.7 C744.2,1682.2 750.8,1658.9 760.0,1638.7 C769.2,1618.5 781.7,1598.7 795.0,1583.7 C808.3,1568.7 824.5,1557.9 840.0,1548.7 C855.5,1539.5 870.5,1534.5 888.0,1528.7 C905.5,1522.9 928.8,1520.4 945.0,1513.7 C961.2,1507.0 977.5,1501.2 985.0,1488.7 C992.5,1476.2 970.8,1447.0 990.0,1438.7 C1009.2,1430.4 1061.7,1427.0 1100.0,1438.7 C1138.3,1450.4 1186.7,1470.4 1220.0,1508.7 C1253.3,1547.0 1285.0,1618.7 1300.0,1668.7 C1315.0,1718.7 1318.3,1765.4 1310.0,1808.7 C1301.7,1852.0 1276.7,1900.4 1250.0,1928.7 C1223.3,1957.0 1183.3,1965.4 1150.0,1978.7 C1116.7,1992.0 1081.7,2002.0 1050.0,2008.7 C1018.3,2015.4 988.3,2023.7 960.0,2018.7 C931.7,2013.7 908.3,1997.0 880.0,1978.7 C851.7,1960.4 811.7,1932.0 790.0,1908.7 C768.3,1885.4 759.2,1861.2 750.0,1838.7 C740.8,1816.2 736.7,1796.0 735.0,1773.7Z" fill="#9efa00" filter="url(#b6)"/>
<path d="M790.0,1773.7 C789.2,1753.9 793.3,1724.2 800.0,1704.7 C806.7,1685.2 818.3,1670.2 830.0,1656.7 C841.7,1643.2 854.2,1632.5 870.0,1623.7 C885.8,1614.9 907.5,1611.2 925.0,1603.7 C942.5,1596.2 964.2,1592.9 975.0,1578.7 C985.8,1564.5 979.2,1530.4 990.0,1518.7 C1000.8,1507.0 1022.5,1503.7 1040.0,1508.7 C1057.5,1513.7 1080.0,1528.7 1095.0,1548.7 C1110.0,1568.7 1122.5,1600.4 1130.0,1628.7 C1137.5,1657.0 1138.3,1688.7 1140.0,1718.7 C1141.7,1748.7 1142.5,1778.7 1140.0,1808.7 C1137.5,1838.7 1136.7,1875.4 1125.0,1898.7 C1113.3,1922.0 1089.2,1935.4 1070.0,1948.7 C1050.8,1962.0 1028.3,1972.0 1010.0,1978.7 C991.7,1985.4 978.3,1993.7 960.0,1988.7 C941.7,1983.7 920.0,1967.0 900.0,1948.7 C880.0,1930.4 855.8,1899.5 840.0,1878.7 C824.2,1857.9 813.3,1841.2 805.0,1823.7 C796.7,1806.2 790.8,1793.5 790.0,1773.7Z" fill="#c0fa00" filter="url(#b6)"/>
<path d="M835.0,1770.7 C833.0,1752.4 840.5,1729.0 848.0,1713.7 C855.5,1698.4 867.2,1687.9 880.0,1678.7 C892.8,1669.5 909.7,1664.5 925.0,1658.7 C940.3,1652.9 961.2,1655.4 972.0,1643.7 C982.8,1632.0 980.3,1600.4 990.0,1588.7 C999.7,1577.0 1015.0,1570.4 1030.0,1573.7 C1045.0,1577.0 1067.5,1591.2 1080.0,1608.7 C1092.5,1626.2 1100.8,1653.7 1105.0,1678.7 C1109.2,1703.7 1105.8,1732.0 1105.0,1758.7 C1104.2,1785.4 1105.0,1813.7 1100.0,1838.7 C1095.0,1863.7 1086.7,1892.0 1075.0,1908.7 C1063.3,1925.4 1041.7,1940.4 1030.0,1938.7 C1018.3,1937.0 1010.8,1917.0 1005.0,1898.7 C999.2,1880.4 1002.5,1837.0 995.0,1828.7 C987.5,1820.4 969.2,1837.0 960.0,1848.7 C950.8,1860.4 950.0,1892.9 940.0,1898.7 C930.0,1904.5 913.3,1896.2 900.0,1883.7 C886.7,1871.2 870.8,1842.5 860.0,1823.7 C849.2,1804.9 837.0,1789.0 835.0,1770.7Z" fill="#defa00" filter="url(#b6)"/>
<path d="M856.0,1768.7 C854.3,1757.0 862.7,1739.5 870.0,1728.7 C877.3,1717.9 888.3,1709.5 900.0,1703.7 C911.7,1697.9 927.5,1695.4 940.0,1693.7 C952.5,1692.0 965.8,1702.9 975.0,1693.7 C984.2,1684.5 986.7,1652.9 995.0,1638.7 C1003.3,1624.5 1013.3,1610.4 1025.0,1608.7 C1036.7,1607.0 1054.2,1615.4 1065.0,1628.7 C1075.8,1642.0 1086.2,1667.0 1090.0,1688.7 C1093.8,1710.4 1091.3,1738.7 1088.0,1758.7 C1084.7,1778.7 1077.2,1794.5 1070.0,1808.7 C1062.8,1822.9 1048.3,1832.0 1045.0,1843.7 C1041.7,1855.4 1052.5,1869.5 1050.0,1878.7 C1047.5,1887.9 1037.5,1900.4 1030.0,1898.7 C1022.5,1897.0 1011.7,1885.4 1005.0,1868.7 C998.3,1852.0 997.5,1810.4 990.0,1798.7 C982.5,1787.0 971.7,1797.0 960.0,1798.7 C948.3,1800.4 933.3,1808.7 920.0,1808.7 C906.7,1808.7 890.7,1805.4 880.0,1798.7 C869.3,1792.0 857.7,1780.4 856.0,1768.7Z" fill="#f6fa00" filter="url(#b5)"/>
<path d="M1190.0,1688.7 C1198.0,1680.7 1217.7,1692.4 1228.0,1700.7 C1238.3,1709.0 1246.3,1723.2 1252.0,1738.7 C1257.7,1754.2 1261.0,1774.5 1262.0,1793.7 C1263.0,1812.9 1262.0,1837.9 1258.0,1853.7 C1254.0,1869.5 1246.8,1882.9 1238.0,1888.7 C1229.2,1894.5 1214.7,1893.4 1205.0,1888.7 C1195.3,1884.0 1184.8,1874.0 1180.0,1860.7 C1175.2,1847.4 1176.0,1827.4 1176.0,1808.7 C1176.0,1790.0 1177.7,1768.7 1180.0,1748.7 C1182.3,1728.7 1182.0,1696.7 1190.0,1688.7Z" fill="#70fa00" filter="url(#b10)"/>
<path d="M700.0,1918.7 C713.3,1889.5 738.3,1923.7 760.0,1923.7 C781.7,1923.7 810.0,1914.5 830.0,1918.7 C850.0,1922.9 866.7,1935.4 880.0,1948.7 C893.3,1962.0 899.2,1987.9 910.0,1998.7 C920.8,2009.5 934.2,2015.4 945.0,2013.7 C955.8,2012.0 965.8,1994.5 975.0,1988.7 C984.2,1982.9 989.2,1977.0 1000.0,1978.7 C1010.8,1980.4 1023.3,1995.4 1040.0,1998.7 C1056.7,2002.0 1076.7,2003.7 1100.0,1998.7 C1123.3,1993.7 1153.3,1980.4 1180.0,1968.7 C1206.7,1957.0 1240.0,1935.4 1260.0,1928.7 C1280.0,1922.0 1293.3,1900.4 1300.0,1928.7 C1306.7,1957.0 1403.3,2070.4 1300.0,2098.7 C1196.7,2127.0 780.0,2128.7 680.0,2098.7 C580.0,2068.7 686.7,1947.9 700.0,1918.7Z" fill="#5cfa00" filter="url(#b8)"/>
<path d="M720.0,1948.7 C723.3,1921.2 760.0,1933.7 780.0,1933.7 C800.0,1933.7 826.7,1937.9 840.0,1948.7 C853.3,1959.5 858.3,1983.7 860.0,1998.7 C861.7,2013.7 843.3,2028.7 850.0,2038.7 C856.7,2048.7 883.3,2063.7 900.0,2058.7 C916.7,2053.7 937.5,2022.0 950.0,2008.7 C962.5,1995.4 966.7,1982.0 975.0,1978.7 C983.3,1975.4 989.2,1978.7 1000.0,1988.7 C1010.8,1998.7 1023.3,2027.9 1040.0,2038.7 C1056.7,2049.5 1081.7,2057.0 1100.0,2053.7 C1118.3,2050.4 1133.3,2027.9 1150.0,2018.7 C1166.7,2009.5 1185.0,2000.4 1200.0,1998.7 C1215.0,1997.0 1240.0,1992.0 1240.0,2008.7 C1240.0,2025.4 1280.0,2083.7 1200.0,2098.7 C1120.0,2113.7 840.0,2123.7 760.0,2098.7 C680.0,2073.7 716.7,1976.2 720.0,1948.7Z" fill="#30fa00" filter="url(#b8)"/>
<ellipse cx="962.0" cy="2034.0" rx="14.0" ry="45.0" fill="#00f032" filter="url(#b6)"/>
<ellipse cx="1016.0" cy="2030.0" rx="12.0" ry="40.0" fill="#14f514" filter="url(#b6)"/>
</g>
<g filter="url(#b2)">
<path d="M1305,1760.5l0,11l-0.5,11.5l-1,11l-1.5,11l-1.5,11.5l-2,11l-2.5,11l-3,11l-3,10.5l-3.5,11l-4,10.5l-4,10.5l-4.5,10l-5,10l-5.5,10l-5.5,10l-6,9.5l-6.5,9l-6.5,9l-7,9l-7,8.5l-7.5,8.5l-8,8l-8,7.5l-8.5,7.5l-8.5,7l-9,7l-9,6.5l-9.5,6l-9.5,6l-9.5,5.5l-10,5l-10,5l-10.5,4.5l-10.5,4l-10.5,3.5l-10.5,3.5l-10,4.5l-10.5,5.5l-2.5,1l-3,1l-2.5,1.5l-3,1l-2.5,0.5l-3,1l-2.5,0.5l-3,0.5l-2.5,1l-3,1l-2.5,2l-2.5,2l-3,2.5l-2.5,2l-3,1.5l-3,1l-2.5,1l-3,5l-2.5,5.5l-3,3.5l-3,0.5l-3,0l-3,0l-3.5,0.5l-3,0l-3,0l-3,0.5l-3-0.5l-3-1l-3-2l-3-1l-3-1l-3-2.5l-2.5-3l-3-3.5l-2.5-2.5l-3-1.5l-2.5-1l-3-1l-3-1.5l-2.5-2.5l-2.5-2.5l-2.5-2.5l-2.5-2l-2.5-1.5l-2.5-1l-3-1l-2.5-0.5l-10.5-5.5l-10-5.5l-10.5-3.5l-10.5-4.5l-10-5l-10-4.5l-10-5l-10-5l-9.5-5.5l-9-6l-9.5-6.5l-9-6.5l-8.5-6.5l-8.5-7.5l-8.5-7l-7.5-8l-7.5-8l-7.5-8.5l-7-9l-6.5-9l-6-9l-6-9.5l-5.5-9l-6-10l-5-9.5l-4.5-10l-4.5-10l-4-10.5l-3-10.5l-3-11l-2.5-10.5l-2-11l-1.5-10.5l-1.5-11l-1-11l-1-10.5l-0.5-11l-0.5-11l0-10.5l0-11l0.5-11l1-10.5l1.5-11l1.5-10.5l2-11l2-10.5l3-10.5l3-10.5l3-10l4-10.5l4-10l4.5-10l4.5-9.5l5-10l5.5-9l6-9.5l6-9l6-8.5l7-8.5l7-8.5l7-8l8-7.5l7.5-7.5l8-7.5l8.5-6.5l8.5-7l8.5-6.5l9-6l9-5.5l9.5-5.5l9.5-5.5l9.5-4.5l10-4.5l10-4l10-4l10.5-3.5l10.5-3l10.5-2.5l10.5-2.5l10.5-1.5l11-1.5l10.5-1l11-0.5l10.5-0.5l11,0.5l11,0.5l10.5,0.5l11,1.5l10.5,1.5l11,2l10.5,2.5l10.5,3l10.5,3l10,3.5l10.5,3.5l10,4.5l9.5,4.5l10,5l9.5,5l9.5,5.5l9,6l9,6.5l9,6.5l8.5,7l8,7l8,7.5l8,8l7.5,8l7,8.5l7,8.5l6.5,9l6.5,8.5l6.5,9.5l5.5,9.5l5.5,9.5l5.5,9.5l5,10l4.5,10.5l4,10l4,10.5l3.5,11l3,10.5l3,11l2,11l2,11l1.5,11l1,11.5l1,11z M1301,1760.5l-0.5,11l-0.5,11l-1,11l-1,11l-2,11l-2,11l-2,11l-3,10.5l-3,10.5l-3.5,11l-4,10l-4,10.5l-4.5,10l-5,10l-5,10l-6,9.5l-5.5,9.5l-6.5,9l-6.5,9l-7,8.5l-7,8.5l-7.5,8l-8,8l-8,7.5l-8,7.5l-8.5,7l-9,6.5l-9,6.5l-9,6l-9.5,6l-9.5,5l-10,5.5l-9.5,4.5l-10.5,4.5l-10,4l-10.5,3.5l-10.5,3.5l-10,4.5l-10,5l-2.5,1.5l-3,1l-2.5,1l-2.5,1l-3,0.5l-2.5,1l-3,0.5l-2.5,0.5l-3,1l-2.5,1.5l-2.5,1.5l-2.5,2l-3,2.5l-2.5,2l-3,1.5l-2.5,1l-3,1l-2.5,5l-3,5.5l-2.5,4l-3,0l-3,0l-3.5,0.5l-3,0l-3,0l-3,0.5l-3,0l-3,0l-3-1.5l-3-2l-3-1l-2.5-1l-3-2.5l-3-3l-2.5-3l-2.5-3l-3-1.5l-2.5-0.5l-3-1l-2.5-2l-2.5-2.5l-2.5-2.5l-2.5-2.5l-2.5-2l-2.5-1.5l-3-1l-2.5-0.5l-2.5-1l-10.5-5.5l-10-5l-10-4l-10-4l-10-5l-10-4.5l-10-4.5l-9.5-5l-9.5-5.5l-9.5-6l-9-6l-8.5-6.5l-8.5-7l-8.5-7l-8.5-7l-7.5-8l-7.5-8l-7-8l-7-8.5l-6.5-9l-6-9l-6-9l-5.5-9.5l-5.5-9.5l-5.5-9.5l-4.5-10l-4-10l-4-10l-3-10.5l-3-10.5l-2.5-10.5l-2-10.5l-2-11l-1-10.5l-1-11l-1-10.5l-0.5-11l-0.5-10.5l0-10.5l0-11l0.5-10.5l1-11l1-10.5l2-10.5l1.5-10.5l2.5-10.5l2.5-10.5l3-10l3.5-10.5l3.5-10l4-10l4.5-9.5l4.5-10l5-9.5l5.5-9l5.5-9l6-9l6.5-8.5l6.5-8.5l7-8.5l7-7.5l7.5-8l8-7l7.5-7.5l8.5-6.5l8.5-6.5l8.5-6.5l8.5-6l9-5.5l9.5-5.5l9.5-5l9.5-5l9.5-4.5l10-4l10-3.5l10-3.5l10.5-3l10-2.5l10.5-2.5l10.5-1.5l10.5-1.5l11-1l10.5-0.5l10.5-0.5l11,0l10.5,1l10.5,0.5l11,1.5l10.5,1.5l10.5,2l10.5,2.5l10.5,2.5l10,3l10,3.5l10.5,4l9.5,4l10,4.5l9.5,5l9.5,5l9.5,5.5l9,6l8.5,6l9,6.5l8,7l8.5,7l8,7.5l7.5,8l7,8l7.5,8l6.5,8.5l7,8.5l6,9l6,9l6,9.5l5.5,9.5l5,9.5l5,10l4.5,10l4,10l4,10.5l3.5,10.5l3,10.5l2.5,11l2.5,10.5l2,11l1.5,11l1,11l0.5,11z" fill="#fbf900" fill-rule="evenodd" opacity="1.00"/>
<path d="M1301,1760.5l-0.5,11l-0.5,11l-1,11l-1,11l-2,11l-2,11l-2,11l-3,10.5l-3,10.5l-3.5,11l-4,10l-4,10.5l-4.5,10l-5,10l-5,10l-6,9.5l-5.5,9.5l-6.5,9l-6.5,9l-7,8.5l-7,8.5l-7.5,8l-8,8l-8,7.5l-8,7.5l-8.5,7l-9,6.5l-9,6.5l-9,6l-9.5,6l-9.5,5l-10,5.5l-9.5,4.5l-10.5,4.5l-10,4l-10.5,3.5l-10.5,3.5l-10,4.5l-10,5l-2.5,1.5l-3,1l-2.5,1l-2.5,1l-3,0.5l-2.5,1l-3,0.5l-2.5,0.5l-3,1l-2.5,1.5l-2.5,1.5l-2.5,2l-3,2.5l-2.5,2l-3,1.5l-2.5,1l-3,1l-2.5,5l-3,5.5l-2.5,4l-3,0l-3,0l-3.5,0.5l-3,0l-3,0l-3,0.5l-3,0l-3,0l-3-1.5l-3-2l-3-1l-2.5-1l-3-2.5l-3-3l-2.5-3l-2.5-3l-3-1.5l-2.5-0.5l-3-1l-2.5-2l-2.5-2.5l-2.5-2.5l-2.5-2.5l-2.5-2l-2.5-1.5l-3-1l-2.5-0.5l-2.5-1l-10.5-5.5l-10-5l-10-4l-10-4l-10-5l-10-4.5l-10-4.5l-9.5-5l-9.5-5.5l-9.5-6l-9-6l-8.5-6.5l-8.5-7l-8.5-7l-8.5-7l-7.5-8l-7.5-8l-7-8l-7-8.5l-6.5-9l-6-9l-6-9l-5.5-9.5l-5.5-9.5l-5.5-9.5l-4.5-10l-4-10l-4-10l-3-10.5l-3-10.5l-2.5-10.5l-2-10.5l-2-11l-1-10.5l-1-11l-1-10.5l-0.5-11l-0.5-10.5l0-10.5l0-11l0.5-10.5l1-11l1-10.5l2-10.5l1.5-10.5l2.5-10.5l2.5-10.5l3-10l3.5-10.5l3.5-10l4-10l4.5-9.5l4.5-10l5-9.5l5.5-9l5.5-9l6-9l6.5-8.5l6.5-8.5l7-8.5l7-7.5l7.5-8l8-7l7.5-7.5l8.5-6.5l8.5-6.5l8.5-6.5l8.5-6l9-5.5l9.5-5.5l9.5-5l9.5-5l9.5-4.5l10-4l10-3.5l10-3.5l10.5-3l10-2.5l10.5-2.5l10.5-1.5l10.5-1.5l11-1l10.5-0.5l10.5-0.5l11,0l10.5,1l10.5,0.5l11,1.5l10.5,1.5l10.5,2l10.5,2.5l10.5,2.5l10,3l10,3.5l10.5,4l9.5,4l10,4.5l9.5,5l9.5,5l9.5,5.5l9,6l8.5,6l9,6.5l8,7l8.5,7l8,7.5l7.5,8l7,8l7.5,8l6.5,8.5l7,8.5l6,9l6,9l6,9.5l5.5,9.5l5,9.5l5,10l4.5,10l4,10l4,10.5l3.5,10.5l3,10.5l2.5,11l2.5,10.5l2,11l1.5,11l1,11l0.5,11z M1296,1760.5l0,10.5l-0.5,11l-0.5,11l-1,11l-1.5,11l-2,10.5l-2.5,11l-2.5,10.5l-3,10.5l-3.5,10.5l-3.5,10.5l-4,10l-4.5,10l-5,10l-5,10l-5.5,9.5l-6,9l-6,9l-6.5,9l-6.5,8.5l-7.5,8.5l-7,8l-8,8l-7.5,7.5l-8.5,7.5l-8.5,6.5l-8.5,7l-9,6.5l-9,6l-9,5.5l-9.5,5.5l-10,5l-9.5,4.5l-10,4.5l-10.5,4l-10,3.5l-10.5,3.5l-10,5l-10,5l-2.5,1l-2.5,1.5l-3,1l-2.5,1l-2.5,0.5l-3,1l-2.5,0.5l-3,0.5l-2.5,1l-2.5,1l-3,2l-2.5,2l-2.5,2.5l-2.5,2l-3,1.5l-3,1l-2.5,1l-2.5,5l-3,5.5l-3,3.5l-3,0.5l-3,0l-3,0l-3,0.5l-3,0l-3,0l-3,0l-3,0l-3-1l-2.5-2l-3-1l-3-1l-3-2.5l-2.5-3l-2.5-3.5l-3-2.5l-2.5-1.5l-3-1l-2.5-1l-3-1.5l-2.5-2.5l-2.5-2.5l-2-2.5l-2.5-2l-2.5-1.5l-3-1l-2.5-1l-2.5-0.5l-10.5-5.5l-9.5-5.5l-10.5-3.5l-10-4.5l-9.5-4.5l-10-4.5l-10-5l-9.5-5l-9-5.5l-9.5-6l-9-6l-8.5-6.5l-8.5-6.5l-8.5-7l-8-7.5l-7.5-7.5l-7.5-8l-7-8l-6.5-8.5l-6.5-9l-6-9l-5.5-9l-6-9l-5.5-9.5l-5-9.5l-4.5-10l-4-10l-3.5-10l-3.5-10l-2.5-10.5l-2.5-10.5l-2-10.5l-1.5-11l-1-10.5l-1-10.5l-0.5-10.5l-0.5-10.5l-0.5-10.5l0-10.5l0.5-10.5l0.5-11l1-10l1.5-10.5l1.5-10.5l2-10.5l2-10l3-10.5l2.5-10l3.5-10l3.5-10l4-9.5l4-10l5-9.5l4.5-9l5.5-9l5.5-9l6-9l6-8.5l6.5-8l7-8l7-8l7.5-7.5l7.5-7l8-7l8-6.5l8-6.5l8.5-6.5l8.5-5.5l9-6l9-5l9.5-5l9-4.5l9.5-4.5l10-4l9.5-3.5l10-3.5l10-3l10.5-2.5l10-2l10.5-2l10.5-1.5l10-1l10.5-0.5l10.5,0l10.5,0l10.5,0.5l10.5,1l10.5,1l10.5,2l10,1.5l10.5,2.5l10,2.5l10.5,3l10,3.5l9.5,3.5l10,4l9.5,4.5l9.5,5l9,5l9.5,5.5l8.5,5.5l9,6l8.5,6.5l8,7l8,7l8,7l7.5,7.5l7,8l7,8l7,8.5l6.5,8.5l6,8.5l6,9l6,9l5.5,9.5l5,9.5l4.5,9.5l4.5,10l4,10l4,10l3.5,10.5l3,10.5l2.5,10.5l2.5,10.5l2,11l1.5,10.5l1,11l1,11z" fill="#e6fa00" fill-rule="evenodd" opacity="1.00"/>
<path d="M1296,1760.5l0,10.5l-0.5,11l-0.5,11l-1,11l-1.5,11l-2,10.5l-2.5,11l-2.5,10.5l-3,10.5l-3.5,10.5l-3.5,10.5l-4,10l-4.5,10l-5,10l-5,10l-5.5,9.5l-6,9l-6,9l-6.5,9l-6.5,8.5l-7.5,8.5l-7,8l-8,8l-7.5,7.5l-8.5,7.5l-8.5,6.5l-8.5,7l-9,6.5l-9,6l-9,5.5l-9.5,5.5l-10,5l-9.5,4.5l-10,4.5l-10.5,4l-10,3.5l-10.5,3.5l-10,5l-10,5l-2.5,1l-2.5,1.5l-3,1l-2.5,1l-2.5,0.5l-3,1l-2.5,0.5l-3,0.5l-2.5,1l-2.5,1l-3,2l-2.5,2l-2.5,2.5l-2.5,2l-3,1.5l-3,1l-2.5,1l-2.5,5l-3,5.5l-3,3.5l-3,0.5l-3,0l-3,0l-3,0.5l-3,0l-3,0l-3,0l-3,0l-3-1l-2.5-2l-3-1l-3-1l-3-2.5l-2.5-3l-2.5-3.5l-3-2.5l-2.5-1.5l-3-1l-2.5-1l-3-1.5l-2.5-2.5l-2.5-2.5l-2-2.5l-2.5-2l-2.5-1.5l-3-1l-2.5-1l-2.5-0.5l-10.5-5.5l-9.5-5.5l-10.5-3.5l-10-4.5l-9.5-4.5l-10-4.5l-10-5l-9.5-5l-9-5.5l-9.5-6l-9-6l-8.5-6.5l-8.5-6.5l-8.5-7l-8-7.5l-7.5-7.5l-7.5-8l-7-8l-6.5-8.5l-6.5-9l-6-9l-5.5-9l-6-9l-5.5-9.5l-5-9.5l-4.5-10l-4-10l-3.5-10l-3.5-10l-2.5-10.5l-2.5-10.5l-2-10.5l-1.5-11l-1-10.5l-1-10.5l-0.5-10.5l-0.5-10.5l-0.5-10.5l0-10.5l0.5-10.5l0.5-11l1-10l1.5-10.5l1.5-10.5l2-10.5l2-10l3-10.5l2.5-10l3.5-10l3.5-10l4-9.5l4-10l5-9.5l4.5-9l5.5-9l5.5-9l6-9l6-8.5l6.5-8l7-8l7-8l7.5-7.5l7.5-7l8-7l8-6.5l8-6.5l8.5-6.5l8.5-5.5l9-6l9-5l9.5-5l9-4.5l9.5-4.5l10-4l9.5-3.5l10-3.5l10-3l10.5-2.5l10-2l10.5-2l10.5-1.5l10-1l10.5-0.5l10.5,0l10.5,0l10.5,0.5l10.5,1l10.5,1l10.5,2l10,1.5l10.5,2.5l10,2.5l10.5,3l10,3.5l9.5,3.5l10,4l9.5,4.5l9.5,5l9,5l9.5,5.5l8.5,5.5l9,6l8.5,6.5l8,7l8,7l8,7l7.5,7.5l7,8l7,8l7,8.5l6.5,8.5l6,8.5l6,9l6,9l5.5,9.5l5,9.5l4.5,9.5l4.5,10l4,10l4,10l3.5,10.5l3,10.5l2.5,10.5l2.5,10.5l2,11l1.5,10.5l1,11l1,11z M1292.5,1760.5l0,10.5l0,11l-1,11l-1,10.5l-1.5,11l-1.5,10.5l-2.5,10.5l-2.5,11l-2.5,10l-3.5,10.5l-3.5,10.5l-4,10l-4.5,10l-5,10l-5,9.5l-5.5,9.5l-5.5,9l-6,9l-6.5,9l-7,8.5l-7,8l-7,8l-7.5,8l-8,7.5l-8,7l-8.5,7l-8.5,7l-9,6l-9,6l-9,6l-9.5,5l-9.5,5l-9.5,5l-10,4.5l-10,3.5l-10.5,4l-10,3.5l-10,4.5l-10,5l-2.5,1l-2.5,1.5l-3,1l-2.5,1l-2.5,0.5l-3,1l-2.5,0.5l-2.5,0.5l-3,1l-2.5,1.5l-2.5,1.5l-2.5,2l-3,2.5l-2.5,2l-2.5,1.5l-3,1l-3,1l-2.5,5l-2.5,5.5l-3,4l-3,0l-3,0l-3,0.5l-3,0l-3,0l-3,0.5l-3,0l-3,0l-2.5-1.5l-3-2l-3-1l-3-1l-2.5-2.5l-3-3l-2.5-3l-2.5-3l-3-1.5l-2.5-0.5l-3-1l-2.5-2l-2.5-2.5l-2.5-2.5l-2.5-2.5l-2.5-2l-2.5-1.5l-2.5-1l-2.5-0.5l-2.5-1l-10-5.5l-10-5.5l-10-3.5l-10-4.5l-10-4.5l-9.5-4.5l-9.5-4.5l-9.5-5.5l-9.5-5l-9-6l-9-6l-8.5-6.5l-8.5-6.5l-8-7l-8-7.5l-7.5-7.5l-7.5-8l-7-8l-6.5-8.5l-6-8.5l-6-9l-6-9l-5.5-9l-5.5-9.5l-5-9.5l-4.5-9.5l-4-10l-3.5-10l-3-10l-3-10.5l-2-10.5l-2-10.5l-1.5-10.5l-1-10.5l-1-10.5l-0.5-10.5l-0.5-10.5l0-10.5l0-10l0.5-10.5l0.5-10.5l1-10.5l1.5-10l1.5-10.5l2-10l2.5-10.5l2.5-10l3-10l3-9.5l3.5-10l4-9.5l4-9.5l4.5-9.5l5-9l5-9l5.5-9l6-8.5l6-8.5l6.5-8l7-8l7-7.5l7-7.5l7.5-7l8-7l7.5-6.5l8.5-6.5l8-6l9-6l8.5-5.5l9-5l9-5l9.5-4.5l9-4.5l9.5-4l10-3.5l9.5-3l10-3l10-2.5l10.5-2l10-2l10-1.5l10.5-1l10.5-0.5l10,0l10.5,0l10.5,0.5l10,1l10.5,1l10,1.5l10.5,2l10,2.5l10,2.5l10,3l10,3l9.5,4l10,4l9.5,4l9,5l9.5,5l9,5l8.5,6l8.5,6l8.5,6l8,7l8,6.5l8,7.5l7,7.5l7.5,7.5l7,8l6.5,8l6.5,8.5l6,8.5l6,9l5.5,9l5.5,9l5,9.5l4.5,9.5l4.5,10l4,10l4,10l3.5,10l3,10.5l2.5,10l2.5,10.5l2,11l1.5,10.5l1,10.5l1,11z" fill="#cdfa00" fill-rule="evenodd" opacity="1.00"/>
<path d="M1292.5,1760.5l0,10.5l0,11l-1,11l-1,10.5l-1.5,11l-1.5,10.5l-2.5,10.5l-2.5,11l-2.5,10l-3.5,10.5l-3.5,10.5l-4,10l-4.5,10l-5,10l-5,9.5l-5.5,9.5l-5.5,9l-6,9l-6.5,9l-7,8.5l-7,8l-7,8l-7.5,8l-8,7.5l-8,7l-8.5,7l-8.5,7l-9,6l-9,6l-9,6l-9.5,5l-9.5,5l-9.5,5l-10,4.5l-10,3.5l-10.5,4l-10,3.5l-10,4.5l-10,5l-2.5,1l-2.5,1.5l-3,1l-2.5,1l-2.5,0.5l-3,1l-2.5,0.5l-2.5,0.5l-3,1l-2.5,1.5l-2.5,1.5l-2.5,2l-3,2.5l-2.5,2l-2.5,1.5l-3,1l-3,1l-2.5,5l-2.5,5.5l-3,4l-3,0l-3,0l-3,0.5l-3,0l-3,0l-3,0.5l-3,0l-3,0l-2.5-1.5l-3-2l-3-1l-3-1l-2.5-2.5l-3-3l-2.5-3l-2.5-3l-3-1.5l-2.5-0.5l-3-1l-2.5-2l-2.5-2.5l-2.5-2.5l-2.5-2.5l-2.5-2l-2.5-1.5l-2.5-1l-2.5-0.5l-2.5-1l-10-5.5l-10-5.5l-10-3.5l-10-4.5l-10-4.5l-9.5-4.5l-9.5-4.5l-9.5-5.5l-9.5-5l-9-6l-9-6l-8.5-6.5l-8.5-6.5l-8-7l-8-7.5l-7.5-7.5l-7.5-8l-7-8l-6.5-8.5l-6-8.5l-6-9l-6-9l-5.5-9l-5.5-9.5l-5-9.5l-4.5-9.5l-4-10l-3.5-10l-3-10l-3-10.5l-2-10.5l-2-10.5l-1.5-10.5l-1-10.5l-1-10.5l-0.5-10.5l-0.5-10.5l0-10.5l0-10l0.5-10.5l0.5-10.5l1-10.5l1.5-10l1.5-10.5l2-10l2.5-10.5l2.5-10l3-10l3-9.5l3.5-10l4-9.5l4-9.5l4.5-9.5l5-9l5-9l5.5-9l6-8.5l6-8.5l6.5-8l7-8l7-7.5l7-7.5l7.5-7l8-7l7.5-6.5l8.5-6.5l8-6l9-6l8.5-5.5l9-5l9-5l9.5-4.5l9-4.5l9.5-4l10-3.5l9.5-3l10-3l10-2.5l10.5-2l10-2l10-1.5l10.5-1l10.5-0.5l10,0l10.5,0l10.5,0.5l10,1l10.5,1l10,1.5l10.5,2l10,2.5l10,2.5l10,3l10,3l9.5,4l10,4l9.5,4l9,5l9.5,5l9,5l8.5,6l8.5,6l8.5,6l8,7l8,6.5l8,7.5l7,7.5l7.5,7.5l7,8l6.5,8l6.5,8.5l6,8.5l6,9l5.5,9l5.5,9l5,9.5l4.5,9.5l4.5,10l4,10l4,10l3.5,10l3,10.5l2.5,10l2.5,10.5l2,11l1.5,10.5l1,10.5l1,11z M1288.5,1760.5l0,10.5l-0.5,10.5l-0.5,11l-1,10.5l-1,10.5l-2,10.5l-2,11l-2.5,10l-2.5,10.5l-3.5,10.5l-3.5,10l-4,10l-4,10l-5,9.5l-5,9.5l-5.5,9.5l-5.5,9l-6,9l-6.5,8.5l-6.5,8.5l-7,8.5l-7,8l-7.5,7.5l-8,7.5l-8,7l-8,7l-8.5,6.5l-8.5,6.5l-9,6l-9,5.5l-9.5,5.5l-9.5,5l-9.5,4.5l-10,4.5l-9.5,4l-10.5,3.5l-10,3.5l-10,4.5l-9.5,5l-2.5,1l-3,1.5l-2.5,1l-2.5,1l-2.5,0.5l-2.5,1l-3,0.5l-2.5,0.5l-3,1l-2.5,1.5l-2.5,1.5l-2.5,2l-2.5,2.5l-2.5,2l-3,1.5l-2.5,1l-3,1l-2.5,5l-2.5,5.5l-3,4l-3,0l-3,0l-3,0.5l-3,0l-3,0l-2.5,0.5l-3,0l-3,0l-3-1.5l-3-2l-3-1l-2.5-1l-3-2.5l-2.5-3l-2.5-3l-3-3l-2.5-1.5l-2.5-0.5l-3-1l-2.5-2l-2.5-2.5l-2.5-2.5l-2.5-2.5l-2.5-2l-2-1.5l-3-1l-2.5-0.5l-2.5-1l-10-5.5l-9.5-5l-10-4l-10-4.5l-9.5-4.5l-10-4.5l-9.5-4.5l-9-5l-9.5-5.5l-8.5-6l-9-6l-8.5-6.5l-8.5-6.5l-8-6.5l-7.5-7.5l-7.5-7.5l-7.5-7.5l-6.5-8.5l-6.5-8.5l-6.5-8.5l-6-8.5l-5.5-9l-5.5-9l-5.5-9l-5-9.5l-4.5-9.5l-3.5-10l-3.5-10l-3.5-10l-2.5-10l-2-10.5l-1.5-10.5l-1.5-10l-1-10.5l-1-10.5l-0.5-10.5l0-10l0-10.5l0-10l0.5-10.5l0.5-10l1-10.5l1.5-10l1.5-10l2-10l2.5-10l2.5-10l3-10l3-9.5l3.5-9.5l4-9.5l4-9.5l4.5-9.5l4.5-9l5.5-8.5l5-9l6-8.5l6-8l6.5-8l6.5-8l7-7.5l7-7l7.5-7l7.5-7l7.5-6.5l8.5-6l8-6l8.5-5.5l8.5-5.5l8.5-5.5l9-4.5l9.5-4.5l9-4.5l9.5-3.5l9.5-3.5l9.5-3.5l10-2.5l9.5-2.5l10-2.5l10-1.5l10.5-1.5l10-1l10-0.5l10,0l10.5,0l10,0.5l10,1l10.5,1l10,1.5l10,2l10,2l9.5,3l10,2.5l9.5,3.5l10,3.5l9.5,4l9,4l9.5,4.5l9,5l8.5,5.5l9,5.5l8.5,6l8,6l8,6.5l8,7l7.5,7l7,7l7.5,8l6.5,7.5l6.5,8l6.5,8.5l6,8.5l6,8.5l5.5,9l5,9l5,9l5,9.5l4,9.5l4,10l4,10l3,10l3.5,10l2.5,10l2.5,10.5l2,10.5l1.5,10.5l1,10.5l1,10.5z" fill="#b2fa00" fill-rule="evenodd" opacity="0.90"/>
<path d="M1288.5,1760.5l0,10.5l-0.5,10.5l-0.5,11l-1,10.5l-1,10.5l-2,10.5l-2,11l-2.5,10l-2.5,10.5l-3.5,10.5l-3.5,10l-4,10l-4,10l-5,9.5l-5,9.5l-5.5,9.5l-5.5,9l-6,9l-6.5,8.5l-6.5,8.5l-7,8.5l-7,8l-7.5,7.5l-8,7.5l-8,7l-8,7l-8.5,6.5l-8.5,6.5l-9,6l-9,5.5l-9.5,5.5l-9.5,5l-9.5,4.5l-10,4.5l-9.5,4l-10.5,3.5l-10,3.5l-10,4.5l-9.5,5l-2.5,1l-3,1.5l-2.5,1l-2.5,1l-2.5,0.5l-2.5,1l-3,0.5l-2.5,0.5l-3,1l-2.5,1.5l-2.5,1.5l-2.5,2l-2.5,2.5l-2.5,2l-3,1.5l-2.5,1l-3,1l-2.5,5l-2.5,5.5l-3,4l-3,0l-3,0l-3,0.5l-3,0l-3,0l-2.5,0.5l-3,0l-3,0l-3-1.5l-3-2l-3-1l-2.5-1l-3-2.5l-2.5-3l-2.5-3l-3-3l-2.5-1.5l-2.5-0.5l-3-1l-2.5-2l-2.5-2.5l-2.5-2.5l-2.5-2.5l-2.5-2l-2-1.5l-3-1l-2.5-0.5l-2.5-1l-10-5.5l-9.5-5l-10-4l-10-4.5l-9.5-4.5l-10-4.5l-9.5-4.5l-9-5l-9.5-5.5l-8.5-6l-9-6l-8.5-6.5l-8.5-6.5l-8-6.5l-7.5-7.5l-7.5-7.5l-7.5-7.5l-6.5-8.5l-6.5-8.5l-6.5-8.5l-6-8.5l-5.5-9l-5.5-9l-5.5-9l-5-9.5l-4.5-9.5l-3.5-10l-3.5-10l-3.5-10l-2.5-10l-2-10.5l-1.5-10.5l-1.5-10l-1-10.5l-1-10.5l-0.5-10.5l0-10l0-10.5l0-10l0.5-10.5l0.5-10l1-10.5l1.5-10l1.5-10l2-10l2.5-10l2.5-10l3-10l3-9.5l3.5-9.5l4-9.5l4-9.5l4.5-9.5l4.5-9l5.5-8.5l5-9l6-8.5l6-8l6.5-8l6.5-8l7-7.5l7-7l7.5-7l7.5-7l7.5-6.5l8.5-6l8-6l8.5-5.5l8.5-5.5l8.5-5.5l9-4.5l9.5-4.5l9-4.5l9.5-3.5l9.5-3.5l9.5-3.5l10-2.5l9.5-2.5l10-2.5l10-1.5l10.5-1.5l10-1l10-0.5l10,0l10.5,0l10,0.5l10,1l10.5,1l10,1.5l10,2l10,2l9.5,3l10,2.5l9.5,3.5l10,3.5l9.5,4l9,4l9.5,4.5l9,5l8.5,5.5l9,5.5l8.5,6l8,6l8,6.5l8,7l7.5,7l7,7l7.5,8l6.5,7.5l6.5,8l6.5,8.5l6,8.5l6,8.5l5.5,9l5,9l5,9l5,9.5l4,9.5l4,10l4,10l3,10l3.5,10l2.5,10l2.5,10.5l2,10.5l1.5,10.5l1,10.5l1,10.5z M1283,1760.5l0.5,10.5l0,10.5l-1,10.5l-0.5,10.5l-1.5,10.5l-1.5,10.5l-2,10l-2,10.5l-3,10.5l-3,10l-3.5,10l-4,10l-4,9.5l-4.5,9.5l-5,9.5l-5.5,9l-5.5,9l-6,9l-6,8.5l-6.5,8.5l-7,8l-7,8l-7.5,7.5l-7.5,7.5l-8,7l-8,7l-8.5,6.5l-8.5,6l-8.5,6l-9,5.5l-9,5.5l-9.5,5l-9.5,4.5l-9.5,4.5l-10,4l-10,3.5l-10,3.5l-9.5,4.5l-10,5l-2.5,1l-2.5,1.5l-2.5,1l-2.5,1l-2.5,0.5l-3,1l-2.5,0.5l-2.5,0.5l-2.5,1l-3,1l-2.5,2l-2.5,2l-2.5,2.5l-2.5,2l-2.5,1.5l-3,1l-2.5,1l-2.5,5l-3,5.5l-2.5,3.5l-3,0.5l-3,0l-3,0l-3,0.5l-2.5,0l-3,0l-3,0l-3,0l-3-1l-3-2l-2.5-1l-3-1l-2.5-2.5l-3-3l-2.5-3.5l-2.5-2.5l-2.5-1.5l-3-1l-2.5-1l-2.5-1.5l-2.5-2.5l-2.5-2.5l-2-2.5l-2.5-2l-2.5-1.5l-2.5-1l-3-0.5l-2.5-1l-9.5-5.5l-9.5-5.5l-10-3.5l-9.5-4.5l-9.5-4.5l-9.5-4.5l-9.5-4.5l-9.5-5l-9-5.5l-8.5-5.5l-8.5-6l-8.5-6.5l-8.5-6.5l-8-7l-7.5-7l-7.5-7.5l-7-7.5l-6.5-8l-6.5-8.5l-6-8.5l-6-8.5l-5.5-9l-5.5-9l-5-9l-5-9l-4.5-9.5l-4-9.5l-3.5-10l-2.5-10l-2.5-10l-2-10l-2-10.5l-1-10l-1-10.5l-0.5-10l-0.5-10.5l0-10l0-10l0-10l0.5-10.5l1-10l1-10l1.5-10l1.5-9.5l2-10l2.5-10l2.5-9.5l3-9.5l3-9.5l3.5-9.5l3.5-9.5l4-9l4.5-9l4.5-9l5-8.5l5.5-8.5l5.5-8.5l6-8l6-8l6.5-7.5l7-7.5l7-7l7-6.5l7.5-7l8-6l7.5-6.5l8-5.5l8.5-6l8.5-5l8.5-5l9-5l8.5-4l9-4.5l9.5-3.5l9.5-3.5l9-3l10-3l9.5-2.5l9.5-2l10-1.5l10-1.5l10-1l9.5-0.5l10,0l10,0l10,0.5l10,1l10,1l10,1.5l9.5,2l10,2l9.5,2.5l9.5,3l9.5,3l9.5,3.5l9.5,4l9,4l9,4.5l9,4.5l8.5,5.5l8.5,5.5l8.5,5.5l8,6l8,6.5l7.5,6.5l7.5,7l7,7l7,7.5l6.5,8l6.5,7.5l6.5,8.5l6,8l5.5,8.5l5.5,8.5l5,9l5,9l4.5,9.5l4.5,9.5l4,9.5l3.5,9.5l3.5,10l3,10l2.5,10l2.5,10l2,10l1.5,10.5l1.5,10.5l0.5,10.5z" fill="#9cfa00" fill-rule="evenodd" opacity="0.70"/>
<path d="M1283,1760.5l0.5,10.5l0,10.5l-1,10.5l-0.5,10.5l-1.5,10.5l-1.5,10.5l-2,10l-2,10.5l-3,10.5l-3,10l-3.5,10l-4,10l-4,9.5l-4.5,9.5l-5,9.5l-5.5,9l-5.5,9l-6,9l-6,8.5l-6.5,8.5l-7,8l-7,8l-7.5,7.5l-7.5,7.5l-8,7l-8,7l-8.5,6.5l-8.5,6l-8.5,6l-9,5.5l-9,5.5l-9.5,5l-9.5,4.5l-9.5,4.5l-10,4l-10,3.5l-10,3.5l-9.5,4.5l-10,5l-2.5,1l-2.5,1.5l-2.5,1l-2.5,1l-2.5,0.5l-3,1l-2.5,0.5l-2.5,0.5l-2.5,1l-3,1l-2.5,2l-2.5,2l-2.5,2.5l-2.5,2l-2.5,1.5l-3,1l-2.5,1l-2.5,5l-3,5.5l-2.5,3.5l-3,0.5l-3,0l-3,0l-3,0.5l-2.5,0l-3,0l-3,0l-3,0l-3-1l-3-2l-2.5-1l-3-1l-2.5-2.5l-3-3l-2.5-3.5l-2.5-2.5l-2.5-1.5l-3-1l-2.5-1l-2.5-1.5l-2.5-2.5l-2.5-2.5l-2-2.5l-2.5-2l-2.5-1.5l-2.5-1l-3-0.5l-2.5-1l-9.5-5.5l-9.5-5.5l-10-3.5l-9.5-4.5l-9.5-4.5l-9.5-4.5l-9.5-4.5l-9.5-5l-9-5.5l-8.5-5.5l-8.5-6l-8.5-6.5l-8.5-6.5l-8-7l-7.5-7l-7.5-7.5l-7-7.5l-6.5-8l-6.5-8.5l-6-8.5l-6-8.5l-5.5-9l-5.5-9l-5-9l-5-9l-4.5-9.5l-4-9.5l-3.5-10l-2.5-10l-2.5-10l-2-10l-2-10.5l-1-10l-1-10.5l-0.5-10l-0.5-10.5l0-10l0-10l0-10l0.5-10.5l1-10l1-10l1.5-10l1.5-9.5l2-10l2.5-10l2.5-9.5l3-9.5l3-9.5l3.5-9.5l3.5-9.5l4-9l4.5-9l4.5-9l5-8.5l5.5-8.5l5.5-8.5l6-8l6-8l6.5-7.5l7-7.5l7-7l7-6.5l7.5-7l8-6l7.5-6.5l8-5.5l8.5-6l8.5-5l8.5-5l9-5l8.5-4l9-4.5l9.5-3.5l9.5-3.5l9-3l10-3l9.5-2.5l9.5-2l10-1.5l10-1.5l10-1l9.5-0.5l10,0l10,0l10,0.5l10,1l10,1l10,1.5l9.5,2l10,2l9.5,2.5l9.5,3l9.5,3l9.5,3.5l9.5,4l9,4l9,4.5l9,4.5l8.5,5.5l8.5,5.5l8.5,5.5l8,6l8,6.5l7.5,6.5l7.5,7l7,7l7,7.5l6.5,8l6.5,7.5l6.5,8.5l6,8l5.5,8.5l5.5,8.5l5,9l5,9l4.5,9.5l4.5,9.5l4,9.5l3.5,9.5l3.5,10l3,10l2.5,10l2.5,10l2,10l1.5,10.5l1.5,10.5l0.5,10.5z M1277,1760.5l0.5,10l0,10.5l-0.5,10l-0.5,10.5l-1,10.5l-1.5,10l-2,10.5l-2,10l-3,10l-2.5,10l-3.5,10l-4,10l-4,9.5l-4.5,9.5l-5,9l-5,9l-5.5,9l-6,8.5l-6,8.5l-6.5,8.5l-6.5,8l-7,7.5l-7.5,7.5l-7,7.5l-8,7l-8,6.5l-8,6.5l-8.5,6l-8.5,6l-9,5.5l-9,5.5l-9,5l-9.5,4.5l-9.5,4l-9.5,4l-10,3.5l-9.5,3.5l-9.5,4.5l-10,5.5l-2.5,1l-2.5,1l-2.5,1l-2.5,1l-2.5,1l-2.5,0.5l-2.5,0.5l-2.5,0.5l-3,1l-2.5,1.5l-2.5,2l-2.5,2l-2.5,2l-2.5,2l-2.5,2l-2.5,1l-3,0.5l-2.5,5l-2.5,5.5l-2.5,4l-3,0l-3,0.5l-3,0l-3,0l-2.5,0.5l-3,0l-3,0l-3,0l-2.5-1.5l-3-2l-3-0.5l-2.5-1.5l-3-2.5l-2.5-3l-2.5-3l-2.5-2.5l-2.5-2l-3-0.5l-2.5-1l-2.5-2l-2.5-2l-2-2.5l-2.5-2.5l-2.5-2l-2.5-2l-2.5-0.5l-2.5-1l-2.5-1l-9.5-5l-9.5-5.5l-9.5-3.5l-9.5-4.5l-9.5-4.5l-9.5-4.5l-9-4.5l-9-5l-9-5.5l-8.5-5.5l-8.5-6l-8.5-6l-8-6.5l-7.5-7l-8-7l-7-7.5l-7-7.5l-6.5-8l-6.5-8l-6-8.5l-5.5-8.5l-5.5-8.5l-5.5-9l-5-8.5l-4.5-9.5l-4.5-9l-4-9.5l-3-10l-3-9.5l-2.5-10l-1.5-10l-1.5-10l-1.5-10.5l-0.5-10l-0.5-10l-0.5-10l0-10l0.5-10l0-9.5l1-10l0.5-10l1.5-9.5l1.5-10l1.5-9.5l2-9.5l2.5-9.5l2.5-9.5l2.5-9.5l3-9.5l3.5-9l3.5-9l4-9l4.5-9l4.5-8.5l5-8.5l5-8.5l5.5-8l6-8l6-7.5l6-7.5l7-7l6.5-7l7-6.5l7.5-6.5l7.5-6.5l7.5-6l8-5.5l8-5.5l8.5-5l8-5l9-4.5l8.5-4.5l9-4l9-3.5l9-3.5l9-3l9.5-2.5l9.5-2.5l9.5-2l9.5-1.5l9.5-1.5l10-1l9.5-0.5l9.5,0l10,0l9.5,0.5l10,1l9.5,1l9.5,1.5l9.5,1.5l9.5,2.5l9.5,2l9.5,3l9.5,3l9,3.5l9,3.5l9,4l9,4.5l8.5,4.5l8.5,5l8,5.5l8.5,5.5l8,6l7.5,6l7.5,6.5l7,7l7,7l7,7l6.5,7.5l6.5,8l6,7.5l6,8.5l5.5,8l5,8.5l5.5,8.5l4.5,9l4.5,9l4,9.5l4,9l3.5,9.5l3.5,9.5l3,10l2.5,9.5l2.5,10l2,10l1.5,10l1.5,10.5l1,10z" fill="#8cfa00" fill-rule="evenodd" opacity="0.40"/>
</g>
<ellipse cx="990.5" cy="1753.0" rx="56" ry="46" fill="url(#hubB)"/>
<ellipse cx="965.0" cy="2134.0" rx="8.0" ry="14.0" fill="#fa6400" filter="url(#b3)"/>
<ellipse cx="1015.0" cy="2134.0" rx="7.0" ry="14.0" fill="#fa6800" filter="url(#b3)"/>
<path d="M679.8,1760.3 L681.4,1728.4 M684.4,1706.1 L691.4,1674.9 M698.2,1653.4 L710.5,1623.9 M720.8,1603.9 L737.9,1576.9 M751.5,1559.0 L773.1,1535.4 M789.6,1520.1 L815.0,1500.6 M833.9,1488.5 L862.3,1473.8 M883.1,1465.2 L913.6,1455.7 M935.6,1451.0 L967.4,1447.1 M989.8,1446.4 L1021.8,1448.3 M1044.0,1451.6 L1075.1,1459.1 M1096.4,1466.3 L1125.6,1479.3 M1145.3,1490.2 L1171.8,1508.1 M1189.2,1522.3 L1212.2,1544.5 M1226.9,1561.5 L1245.6,1587.5 M1257.2,1606.7 L1271.2,1635.5 M1279.2,1656.5 L1288.1,1687.2 M1292.5,1709.3 L1296.0,1741.1 M1296.6,1763.5 L1294.7,1795.5 M1291.4,1817.7 L1284.1,1848.9 M1277.1,1870.2 L1264.5,1899.6 M1254.0,1919.5 L1236.6,1946.3 M1222.8,1964.1 L1201.0,1987.5 M1184.3,2002.6 L1158.8,2021.8 M1139.7,2033.7 L1111.2,2048.2 M1090.3,2056.5 L1059.6,2065.7 M1037.6,2070.1 L1005.8,2073.7 M983.3,2074.2 L951.4,2072.0 M929.2,2068.4 L898.2,2060.5 M877.0,2053.1 L847.9,2039.8 M828.3,2028.7 L802.0,2010.6 M784.7,1996.2 L762.0,1973.7 M747.5,1956.5 L729.0,1930.4 M717.7,1911.0 L704.0,1882.1 M696.1,1861.0 L687.5,1830.2 M683.4,1808.1 L680.2,1776.3" fill="none" stroke="#000" stroke-width="9.2"/>
<path d="M991.2,1748.0 C993.1,1745.1 993.2,1737.7 994.4,1730.3 C995.6,1722.9 997.8,1714.1 998.4,1703.7 C999.0,1693.4 998.7,1681.5 998.3,1668.2 C997.9,1654.9 996.6,1638.1 996.0,1623.8 C995.3,1609.4 994.8,1596.1 994.4,1582.3 C994.0,1568.5 993.8,1555.2 993.5,1540.8 C993.3,1526.5 993.2,1511.2 993.0,1496.4 C992.9,1481.6 993.4,1459.4 992.4,1452.0 C991.5,1444.6 988.6,1444.6 987.6,1452.0 C986.5,1459.4 986.5,1481.6 986.1,1496.4 C985.6,1511.2 985.2,1526.5 984.7,1540.8 C984.1,1555.1 983.7,1568.4 983.0,1582.2 C982.3,1596.0 981.5,1609.3 980.6,1623.6 C979.6,1637.9 978.0,1654.7 977.4,1668.0 C976.7,1681.3 976.1,1693.1 976.5,1703.5 C976.9,1713.9 978.9,1722.8 980.0,1730.2 C981.0,1737.6 980.9,1745.0 982.8,1748.0 C984.7,1750.9 989.3,1751.0 991.2,1748.0Z" fill="#40c020" opacity="0.55"/>
<path d="M990.0,1748.0 C991.5,1745.1 992.0,1737.7 993.2,1730.3 C994.4,1722.9 996.6,1714.1 997.2,1703.7 C997.8,1693.3 997.5,1681.5 997.1,1668.2 C996.7,1654.8 995.4,1638.1 994.8,1623.7 C994.1,1609.4 993.6,1596.1 993.2,1582.3 C992.8,1568.5 992.6,1555.1 992.3,1540.8 C992.1,1526.5 992.0,1511.2 991.8,1496.4 C991.7,1481.6 991.8,1459.4 991.2,1452.0 C990.7,1444.6 989.4,1444.6 988.8,1452.0 C988.1,1459.4 987.7,1481.6 987.3,1496.4 C986.8,1511.2 986.4,1526.5 985.9,1540.8 C985.3,1555.1 984.9,1568.4 984.2,1582.2 C983.5,1596.0 982.7,1609.3 981.8,1623.6 C980.8,1637.9 979.2,1654.7 978.6,1668.0 C977.9,1681.3 977.3,1693.1 977.7,1703.5 C978.1,1713.9 980.1,1722.8 981.2,1730.2 C982.2,1737.6 982.5,1745.0 984.0,1748.0 C985.5,1750.9 988.5,1751.0 990.0,1748.0Z" fill="url(#blB0)"/>
<path d="M983.4,1761.2 C980.1,1761.5 973.1,1765.5 966.7,1768.5 C960.2,1771.4 953.7,1774.3 944.8,1779.0 C935.9,1783.7 924.5,1790.1 913.2,1796.7 C901.9,1803.4 889.5,1811.2 877.0,1818.8 C864.6,1826.4 851.2,1834.6 838.3,1842.4 C825.4,1850.3 812.5,1858.2 799.5,1866.0 C786.6,1873.8 773.6,1881.5 760.6,1889.2 C747.6,1897.0 727.8,1908.1 721.6,1912.4 C715.4,1916.8 716.5,1918.7 723.4,1915.6 C730.3,1912.4 749.9,1901.0 763.2,1893.8 C776.4,1886.5 789.7,1879.2 803.0,1872.0 C816.3,1864.8 829.6,1857.7 843.0,1850.6 C856.3,1843.4 870.1,1836.1 883.0,1829.2 C895.8,1822.3 908.9,1815.6 920.3,1809.3 C931.8,1802.9 943.1,1796.3 951.7,1791.0 C960.3,1785.7 966.0,1781.6 971.8,1777.5 C977.6,1773.5 984.7,1769.5 986.6,1766.8 C988.5,1764.1 986.7,1760.9 983.4,1761.2Z" fill="#40c020" opacity="0.55"/>
<path d="M984.0,1762.3 C980.9,1762.9 973.7,1766.6 967.3,1769.5 C960.8,1772.5 954.3,1775.3 945.4,1780.0 C936.5,1784.7 925.1,1791.1 913.8,1797.8 C902.5,1804.4 890.1,1812.3 877.6,1819.9 C865.2,1827.5 851.8,1835.6 838.9,1843.5 C826.0,1851.3 813.1,1859.2 800.1,1867.0 C787.2,1874.8 774.2,1882.5 761.2,1890.3 C748.2,1898.0 728.6,1909.4 722.2,1913.5 C715.8,1917.5 716.1,1918.0 722.8,1914.5 C729.5,1911.1 749.3,1900.0 762.6,1892.7 C775.8,1885.5 789.1,1878.2 802.4,1871.0 C815.7,1863.8 829.0,1856.7 842.4,1849.5 C855.7,1842.4 869.5,1835.0 882.4,1828.1 C895.3,1821.2 908.3,1814.6 919.7,1808.2 C931.2,1801.9 942.5,1795.3 951.1,1790.0 C959.7,1784.7 965.4,1780.5 971.2,1776.5 C977.0,1772.4 983.9,1768.1 986.0,1765.7 C988.1,1763.4 987.1,1761.6 984.0,1762.3Z" fill="url(#blB1)"/>
<path d="M991.9,1766.8 C993.9,1769.5 1001.0,1773.5 1006.9,1777.5 C1012.9,1781.5 1018.7,1785.7 1027.4,1791.0 C1036.1,1796.3 1047.6,1802.8 1059.3,1809.1 C1070.9,1815.5 1084.1,1822.1 1097.2,1829.0 C1110.3,1835.9 1124.3,1843.2 1137.8,1850.3 C1151.3,1857.4 1164.8,1864.5 1178.3,1871.7 C1191.8,1878.9 1205.3,1886.1 1218.8,1893.3 C1232.2,1900.6 1252.1,1912.0 1259.1,1915.1 C1266.1,1918.2 1267.2,1916.3 1260.9,1911.9 C1254.6,1907.6 1234.5,1896.5 1221.3,1888.8 C1208.1,1881.1 1194.9,1873.4 1181.8,1865.6 C1168.6,1857.8 1155.5,1850.0 1142.4,1842.1 C1129.2,1834.3 1115.7,1826.2 1103.0,1818.6 C1090.3,1811.0 1077.8,1803.2 1066.3,1796.6 C1054.8,1790.0 1043.3,1783.6 1034.2,1778.9 C1025.2,1774.2 1018.6,1771.4 1012.0,1768.4 C1005.5,1765.5 998.4,1761.5 995.1,1761.2 C991.7,1760.9 990.0,1764.1 991.9,1766.8Z" fill="#40c020" opacity="0.55"/>
<path d="M992.5,1765.7 C994.7,1768.1 1001.6,1772.4 1007.5,1776.5 C1013.4,1780.5 1019.3,1784.7 1028.0,1789.9 C1036.7,1795.2 1048.2,1801.8 1059.9,1808.1 C1071.5,1814.4 1084.7,1821.1 1097.8,1827.9 C1110.9,1834.8 1124.8,1842.2 1138.4,1849.3 C1151.9,1856.4 1165.4,1863.5 1178.9,1870.7 C1192.4,1877.8 1205.9,1885.1 1219.3,1892.3 C1232.8,1899.5 1252.9,1910.6 1259.7,1914.0 C1266.5,1917.5 1266.8,1917.0 1260.3,1913.0 C1253.8,1908.9 1233.9,1897.6 1220.7,1889.9 C1207.5,1882.1 1194.3,1874.4 1181.2,1866.6 C1168.0,1858.9 1154.9,1851.0 1141.8,1843.2 C1128.7,1835.3 1115.1,1827.2 1102.4,1819.7 C1089.7,1812.1 1077.2,1804.3 1065.7,1797.6 C1054.3,1791.0 1042.7,1784.6 1033.6,1779.9 C1024.6,1775.2 1018.0,1772.4 1011.4,1769.5 C1004.9,1766.5 997.6,1762.9 994.5,1762.3 C991.3,1761.6 990.3,1763.4 992.5,1765.7Z" fill="url(#blB2)"/>
<path d="M980.2,1764.0 L999.6,1764.0 L1002.6,2147.6 L976.6,2147.6 Z" fill="url(#twB)"/>
<path d="M968.9,1757.2 H1010.7 M989.8,1733.2 V1781.2" stroke="#000" stroke-width="8.8" fill="none"/>
</g>
</svg></body></html>
